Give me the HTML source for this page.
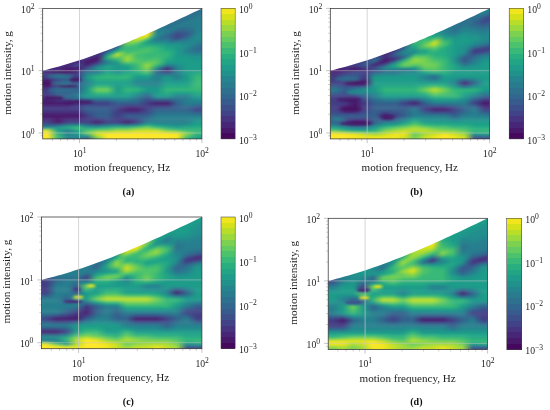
<!DOCTYPE html><html><head><meta charset="utf-8"><style>html,body{margin:0;padding:0;background:#fff}svg{display:block}
.t{font:9.7px "Liberation Serif",serif;fill:#222}.s{font-size:7.6px}.l{font:10px "Liberation Serif",serif;fill:#222}.c{font:bold 10px "Liberation Serif",serif;fill:#111}
</style></head><body><svg width="550" height="410" viewBox="0 0 550 410">
<defs><filter id="bl" x="-5%" y="-5%" width="110%" height="110%"><feGaussianBlur stdDeviation="0.8 0.9"/></filter>
<filter id="bl2" x="-5%" y="-5%" width="110%" height="110%"><feGaussianBlur stdDeviation="1.6 0.9"/></filter></defs>
<rect width="550" height="410" fill="#fff"/>
<clipPath id="cpa"><path d="M42.7 138.9 L42.7 70.7 L46.8 69.7 L50.9 68.6 L54.9 67.6 L59.0 66.4 L63.1 65.3 L67.2 64.1 L71.3 62.8 L75.4 61.5 L79.4 60.2 L83.5 58.9 L87.6 57.5 L91.7 56.1 L95.8 54.6 L99.8 53.1 L103.9 51.6 L108.0 50.0 L112.1 48.5 L116.2 46.8 L120.3 45.2 L124.3 43.5 L128.4 41.9 L132.5 40.1 L136.6 38.4 L140.7 36.6 L144.8 34.9 L148.8 33.1 L152.9 31.3 L157.0 29.4 L161.1 27.6 L165.2 25.7 L169.2 23.8 L173.3 21.9 L177.4 20.0 L181.5 18.1 L185.6 16.2 L189.7 14.3 L193.7 12.3 L197.8 10.4 L201.9 8.4 L201.9 138.9Z"/></clipPath>
<g clip-path="url(#cpa)"><g filter="url(#bl)">
<linearGradient id="ga0" gradientUnits="userSpaceOnUse" x1="42.7" x2="201.9" y1="0" y2="0"><stop offset="0.0312" stop-color="#433e85"/><stop offset="0.0938" stop-color="#433e85"/><stop offset="0.1562" stop-color="#46337f"/><stop offset="0.2188" stop-color="#433e85"/><stop offset="0.2812" stop-color="#472e7c"/><stop offset="0.3438" stop-color="#472e7c"/><stop offset="0.4062" stop-color="#24878e"/><stop offset="0.4688" stop-color="#20938c"/><stop offset="0.5312" stop-color="#1e9c89"/><stop offset="0.5938" stop-color="#38b977"/><stop offset="0.6562" stop-color="#77d153"/><stop offset="0.7188" stop-color="#1fa088"/><stop offset="0.7812" stop-color="#297a8e"/><stop offset="0.8438" stop-color="#20938c"/><stop offset="0.9062" stop-color="#1e9c89"/><stop offset="0.9688" stop-color="#1e9c89"/></linearGradient>
<rect x="36.7" y="58.68" width="171.2" height="8.58" fill="url(#ga0)"/>
<linearGradient id="ga1" gradientUnits="userSpaceOnUse" x1="42.7" x2="201.9" y1="0" y2="0"><stop offset="0.0312" stop-color="#433e85"/><stop offset="0.0938" stop-color="#433e85"/><stop offset="0.1562" stop-color="#482677"/><stop offset="0.2188" stop-color="#433e85"/><stop offset="0.2812" stop-color="#3f4788"/><stop offset="0.3438" stop-color="#3f4788"/><stop offset="0.4062" stop-color="#20928c"/><stop offset="0.4688" stop-color="#238a8d"/><stop offset="0.5312" stop-color="#1e9c89"/><stop offset="0.5938" stop-color="#38b977"/><stop offset="0.6562" stop-color="#77d153"/><stop offset="0.7188" stop-color="#26828e"/><stop offset="0.7812" stop-color="#3c508b"/><stop offset="0.8438" stop-color="#238a8d"/><stop offset="0.9062" stop-color="#1e9c89"/><stop offset="0.9688" stop-color="#1e9c89"/></linearGradient>
<rect x="36.7" y="66.87" width="171.2" height="2.58" fill="url(#ga1)"/>
<linearGradient id="ga2" gradientUnits="userSpaceOnUse" x1="42.7" x2="201.9" y1="0" y2="0"><stop offset="0.0312" stop-color="#433e85"/><stop offset="0.0938" stop-color="#433e85"/><stop offset="0.1562" stop-color="#48186a"/><stop offset="0.2188" stop-color="#433e85"/><stop offset="0.2812" stop-color="#355e8d"/><stop offset="0.3438" stop-color="#355e8d"/><stop offset="0.4062" stop-color="#1e9b8a"/><stop offset="0.4688" stop-color="#27808e"/><stop offset="0.5312" stop-color="#1e9c89"/><stop offset="0.5938" stop-color="#38b977"/><stop offset="0.6562" stop-color="#77d153"/><stop offset="0.7188" stop-color="#32648e"/><stop offset="0.7812" stop-color="#481d6f"/><stop offset="0.8438" stop-color="#27808e"/><stop offset="0.9062" stop-color="#1e9c89"/><stop offset="0.9688" stop-color="#1e9c89"/></linearGradient>
<rect x="36.7" y="69.05" width="171.2" height="2.58" fill="url(#ga2)"/>
<linearGradient id="ga3" gradientUnits="userSpaceOnUse" x1="42.7" x2="201.9" y1="0" y2="0"><stop offset="0.0312" stop-color="#433e85"/><stop offset="0.0938" stop-color="#3e4989"/><stop offset="0.1562" stop-color="#472f7d"/><stop offset="0.2188" stop-color="#433e85"/><stop offset="0.2812" stop-color="#2c728e"/><stop offset="0.3438" stop-color="#287c8e"/><stop offset="0.4062" stop-color="#21a585"/><stop offset="0.4688" stop-color="#21918c"/><stop offset="0.5312" stop-color="#21a585"/><stop offset="0.5938" stop-color="#2ab07f"/><stop offset="0.6562" stop-color="#4ec36b"/><stop offset="0.7188" stop-color="#306a8e"/><stop offset="0.7812" stop-color="#404588"/><stop offset="0.8438" stop-color="#277f8e"/><stop offset="0.9062" stop-color="#1e9c89"/><stop offset="0.9688" stop-color="#21a585"/></linearGradient>
<rect x="36.7" y="71.24" width="171.2" height="2.58" fill="url(#ga3)"/>
<linearGradient id="ga4" gradientUnits="userSpaceOnUse" x1="42.7" x2="201.9" y1="0" y2="0"><stop offset="0.0312" stop-color="#433e85"/><stop offset="0.0938" stop-color="#3a548c"/><stop offset="0.1562" stop-color="#3f4889"/><stop offset="0.2188" stop-color="#433e85"/><stop offset="0.2812" stop-color="#24868e"/><stop offset="0.3438" stop-color="#1f998a"/><stop offset="0.4062" stop-color="#28ae80"/><stop offset="0.4688" stop-color="#20a486"/><stop offset="0.5312" stop-color="#28ae80"/><stop offset="0.5938" stop-color="#22a785"/><stop offset="0.6562" stop-color="#2cb17e"/><stop offset="0.7188" stop-color="#2b748e"/><stop offset="0.7812" stop-color="#2d718e"/><stop offset="0.8438" stop-color="#277f8e"/><stop offset="0.9062" stop-color="#1e9c89"/><stop offset="0.9688" stop-color="#28ae80"/></linearGradient>
<rect x="36.7" y="73.42" width="171.2" height="2.58" fill="url(#ga4)"/>
<linearGradient id="ga5" gradientUnits="userSpaceOnUse" x1="42.7" x2="201.9" y1="0" y2="0"><stop offset="0.0312" stop-color="#433e85"/><stop offset="0.0938" stop-color="#34608d"/><stop offset="0.1562" stop-color="#355f8d"/><stop offset="0.2188" stop-color="#433e85"/><stop offset="0.2812" stop-color="#1f9a8a"/><stop offset="0.3438" stop-color="#32b67a"/><stop offset="0.4062" stop-color="#37b878"/><stop offset="0.4688" stop-color="#35b779"/><stop offset="0.5312" stop-color="#37b878"/><stop offset="0.5938" stop-color="#1e9d89"/><stop offset="0.6562" stop-color="#1f9e89"/><stop offset="0.7188" stop-color="#277e8e"/><stop offset="0.7812" stop-color="#1f988b"/><stop offset="0.8438" stop-color="#277f8e"/><stop offset="0.9062" stop-color="#1e9c89"/><stop offset="0.9688" stop-color="#37b878"/></linearGradient>
<rect x="36.7" y="75.61" width="171.2" height="2.58" fill="url(#ga5)"/>
<linearGradient id="ga6" gradientUnits="userSpaceOnUse" x1="42.7" x2="201.9" y1="0" y2="0"><stop offset="0.0312" stop-color="#46337f"/><stop offset="0.0938" stop-color="#39568c"/><stop offset="0.1562" stop-color="#34618d"/><stop offset="0.2188" stop-color="#3e4989"/><stop offset="0.2812" stop-color="#20938c"/><stop offset="0.3438" stop-color="#2ab07f"/><stop offset="0.4062" stop-color="#2ab07f"/><stop offset="0.4688" stop-color="#2ab07f"/><stop offset="0.5312" stop-color="#2ab07f"/><stop offset="0.5938" stop-color="#20938c"/><stop offset="0.6562" stop-color="#20938c"/><stop offset="0.7188" stop-color="#277f8e"/><stop offset="0.7812" stop-color="#1e9c89"/><stop offset="0.8438" stop-color="#24878e"/><stop offset="0.9062" stop-color="#1e9c89"/><stop offset="0.9688" stop-color="#38b977"/></linearGradient>
<rect x="36.7" y="77.79" width="171.2" height="2.58" fill="url(#ga6)"/>
<linearGradient id="ga7" gradientUnits="userSpaceOnUse" x1="42.7" x2="201.9" y1="0" y2="0"><stop offset="0.0312" stop-color="#482677"/><stop offset="0.0938" stop-color="#3e4c8a"/><stop offset="0.1562" stop-color="#34618d"/><stop offset="0.2188" stop-color="#3a548c"/><stop offset="0.2812" stop-color="#23898e"/><stop offset="0.3438" stop-color="#22a785"/><stop offset="0.4062" stop-color="#22a785"/><stop offset="0.4688" stop-color="#22a785"/><stop offset="0.5312" stop-color="#22a785"/><stop offset="0.5938" stop-color="#23898e"/><stop offset="0.6562" stop-color="#23898e"/><stop offset="0.7188" stop-color="#277f8e"/><stop offset="0.7812" stop-color="#1e9c89"/><stop offset="0.8438" stop-color="#20928c"/><stop offset="0.9062" stop-color="#1e9c89"/><stop offset="0.9688" stop-color="#38b977"/></linearGradient>
<rect x="36.7" y="79.97" width="171.2" height="2.58" fill="url(#ga7)"/>
<linearGradient id="ga8" gradientUnits="userSpaceOnUse" x1="42.7" x2="201.9" y1="0" y2="0"><stop offset="0.0312" stop-color="#48186a"/><stop offset="0.0938" stop-color="#423f85"/><stop offset="0.1562" stop-color="#34618d"/><stop offset="0.2188" stop-color="#34608d"/><stop offset="0.2812" stop-color="#27808e"/><stop offset="0.3438" stop-color="#1e9d89"/><stop offset="0.4062" stop-color="#1e9d89"/><stop offset="0.4688" stop-color="#1e9d89"/><stop offset="0.5312" stop-color="#1e9d89"/><stop offset="0.5938" stop-color="#27808e"/><stop offset="0.6562" stop-color="#27808e"/><stop offset="0.7188" stop-color="#277f8e"/><stop offset="0.7812" stop-color="#1e9c89"/><stop offset="0.8438" stop-color="#1e9b8a"/><stop offset="0.9062" stop-color="#1e9c89"/><stop offset="0.9688" stop-color="#38b977"/></linearGradient>
<rect x="36.7" y="82.16" width="171.2" height="2.58" fill="url(#ga8)"/>
<linearGradient id="ga9" gradientUnits="userSpaceOnUse" x1="42.7" x2="201.9" y1="0" y2="0"><stop offset="0.0312" stop-color="#482475"/><stop offset="0.0938" stop-color="#3e4989"/><stop offset="0.1562" stop-color="#34618d"/><stop offset="0.2188" stop-color="#34618d"/><stop offset="0.2812" stop-color="#23888e"/><stop offset="0.3438" stop-color="#27ad81"/><stop offset="0.4062" stop-color="#27ad81"/><stop offset="0.4688" stop-color="#1e9c89"/><stop offset="0.5312" stop-color="#21a585"/><stop offset="0.5938" stop-color="#21918c"/><stop offset="0.6562" stop-color="#23888e"/><stop offset="0.7188" stop-color="#23888e"/><stop offset="0.7812" stop-color="#21a585"/><stop offset="0.8438" stop-color="#21a585"/><stop offset="0.9062" stop-color="#21a585"/><stop offset="0.9688" stop-color="#38b977"/></linearGradient>
<rect x="36.7" y="84.34" width="171.2" height="2.58" fill="url(#ga9)"/>
<linearGradient id="ga10" gradientUnits="userSpaceOnUse" x1="42.7" x2="201.9" y1="0" y2="0"><stop offset="0.0312" stop-color="#46307e"/><stop offset="0.0938" stop-color="#3a548c"/><stop offset="0.1562" stop-color="#34618d"/><stop offset="0.2188" stop-color="#34618d"/><stop offset="0.2812" stop-color="#20928c"/><stop offset="0.3438" stop-color="#46c06f"/><stop offset="0.4062" stop-color="#46c06f"/><stop offset="0.4688" stop-color="#1e9c89"/><stop offset="0.5312" stop-color="#28ae80"/><stop offset="0.5938" stop-color="#20a486"/><stop offset="0.6562" stop-color="#20928c"/><stop offset="0.7188" stop-color="#20928c"/><stop offset="0.7812" stop-color="#28ae80"/><stop offset="0.8438" stop-color="#28ae80"/><stop offset="0.9062" stop-color="#28ae80"/><stop offset="0.9688" stop-color="#38b977"/></linearGradient>
<rect x="36.7" y="86.53" width="171.2" height="2.58" fill="url(#ga10)"/>
<linearGradient id="ga11" gradientUnits="userSpaceOnUse" x1="42.7" x2="201.9" y1="0" y2="0"><stop offset="0.0312" stop-color="#433e85"/><stop offset="0.0938" stop-color="#34608d"/><stop offset="0.1562" stop-color="#34618d"/><stop offset="0.2188" stop-color="#34618d"/><stop offset="0.2812" stop-color="#1e9c89"/><stop offset="0.3438" stop-color="#73d056"/><stop offset="0.4062" stop-color="#73d056"/><stop offset="0.4688" stop-color="#1e9c89"/><stop offset="0.5312" stop-color="#37b878"/><stop offset="0.5938" stop-color="#35b779"/><stop offset="0.6562" stop-color="#1e9c89"/><stop offset="0.7188" stop-color="#1e9c89"/><stop offset="0.7812" stop-color="#37b878"/><stop offset="0.8438" stop-color="#37b878"/><stop offset="0.9062" stop-color="#37b878"/><stop offset="0.9688" stop-color="#38b977"/></linearGradient>
<rect x="36.7" y="88.71" width="171.2" height="2.58" fill="url(#ga11)"/>
<linearGradient id="ga12" gradientUnits="userSpaceOnUse" x1="42.7" x2="201.9" y1="0" y2="0"><stop offset="0.0312" stop-color="#433e85"/><stop offset="0.0938" stop-color="#34618d"/><stop offset="0.1562" stop-color="#34618d"/><stop offset="0.2188" stop-color="#306a8e"/><stop offset="0.2812" stop-color="#1e9c89"/><stop offset="0.3438" stop-color="#4cc26c"/><stop offset="0.4062" stop-color="#4cc26c"/><stop offset="0.4688" stop-color="#1e9c89"/><stop offset="0.5312" stop-color="#2ab07f"/><stop offset="0.5938" stop-color="#22a785"/><stop offset="0.6562" stop-color="#238a8d"/><stop offset="0.7188" stop-color="#1e9c89"/><stop offset="0.7812" stop-color="#2ab07f"/><stop offset="0.8438" stop-color="#22a785"/><stop offset="0.9062" stop-color="#22a785"/><stop offset="0.9688" stop-color="#2ab07f"/></linearGradient>
<rect x="36.7" y="90.90" width="171.2" height="2.58" fill="url(#ga12)"/>
<linearGradient id="ga13" gradientUnits="userSpaceOnUse" x1="42.7" x2="201.9" y1="0" y2="0"><stop offset="0.0312" stop-color="#433e85"/><stop offset="0.0938" stop-color="#34618d"/><stop offset="0.1562" stop-color="#34618d"/><stop offset="0.2188" stop-color="#2b748e"/><stop offset="0.2812" stop-color="#1e9c89"/><stop offset="0.3438" stop-color="#2ab07f"/><stop offset="0.4062" stop-color="#2ab07f"/><stop offset="0.4688" stop-color="#1e9c89"/><stop offset="0.5312" stop-color="#21a685"/><stop offset="0.5938" stop-color="#20938c"/><stop offset="0.6562" stop-color="#2a768e"/><stop offset="0.7188" stop-color="#1e9c89"/><stop offset="0.7812" stop-color="#21a685"/><stop offset="0.8438" stop-color="#20938c"/><stop offset="0.9062" stop-color="#20938c"/><stop offset="0.9688" stop-color="#21a685"/></linearGradient>
<rect x="36.7" y="93.08" width="171.2" height="2.58" fill="url(#ga13)"/>
<linearGradient id="ga14" gradientUnits="userSpaceOnUse" x1="42.7" x2="201.9" y1="0" y2="0"><stop offset="0.0312" stop-color="#433e85"/><stop offset="0.0938" stop-color="#34618d"/><stop offset="0.1562" stop-color="#34618d"/><stop offset="0.2188" stop-color="#277e8e"/><stop offset="0.2812" stop-color="#1e9c89"/><stop offset="0.3438" stop-color="#1f9e89"/><stop offset="0.4062" stop-color="#1f9e89"/><stop offset="0.4688" stop-color="#1e9c89"/><stop offset="0.5312" stop-color="#1e9d89"/><stop offset="0.5938" stop-color="#27808e"/><stop offset="0.6562" stop-color="#33628d"/><stop offset="0.7188" stop-color="#1e9c89"/><stop offset="0.7812" stop-color="#1e9d89"/><stop offset="0.8438" stop-color="#27808e"/><stop offset="0.9062" stop-color="#27808e"/><stop offset="0.9688" stop-color="#1e9d89"/></linearGradient>
<rect x="36.7" y="95.27" width="171.2" height="2.58" fill="url(#ga14)"/>
<linearGradient id="ga15" gradientUnits="userSpaceOnUse" x1="42.7" x2="201.9" y1="0" y2="0"><stop offset="0.0312" stop-color="#46337f"/><stop offset="0.0938" stop-color="#3e4c8a"/><stop offset="0.1562" stop-color="#3e4c8a"/><stop offset="0.2188" stop-color="#2f6c8e"/><stop offset="0.2812" stop-color="#26818e"/><stop offset="0.3438" stop-color="#26818e"/><stop offset="0.4062" stop-color="#26818e"/><stop offset="0.4688" stop-color="#238a8d"/><stop offset="0.5312" stop-color="#238a8d"/><stop offset="0.5938" stop-color="#2b758e"/><stop offset="0.6562" stop-color="#39568c"/><stop offset="0.7188" stop-color="#2a778e"/><stop offset="0.7812" stop-color="#2a778e"/><stop offset="0.8438" stop-color="#2b758e"/><stop offset="0.9062" stop-color="#277f8e"/><stop offset="0.9688" stop-color="#20928c"/></linearGradient>
<rect x="36.7" y="97.45" width="171.2" height="2.58" fill="url(#ga15)"/>
<linearGradient id="ga16" gradientUnits="userSpaceOnUse" x1="42.7" x2="201.9" y1="0" y2="0"><stop offset="0.0312" stop-color="#482576"/><stop offset="0.0938" stop-color="#46337f"/><stop offset="0.1562" stop-color="#46337f"/><stop offset="0.2188" stop-color="#39568c"/><stop offset="0.2812" stop-color="#33628d"/><stop offset="0.3438" stop-color="#33628d"/><stop offset="0.4062" stop-color="#33628d"/><stop offset="0.4688" stop-color="#2a768e"/><stop offset="0.5312" stop-color="#2a768e"/><stop offset="0.5938" stop-color="#2f6c8e"/><stop offset="0.6562" stop-color="#3e4a89"/><stop offset="0.7188" stop-color="#3d4d8a"/><stop offset="0.7812" stop-color="#3d4d8a"/><stop offset="0.8438" stop-color="#2f6c8e"/><stop offset="0.9062" stop-color="#277f8e"/><stop offset="0.9688" stop-color="#23898e"/></linearGradient>
<rect x="36.7" y="99.64" width="171.2" height="2.58" fill="url(#ga16)"/>
<linearGradient id="ga17" gradientUnits="userSpaceOnUse" x1="42.7" x2="201.9" y1="0" y2="0"><stop offset="0.0312" stop-color="#48186a"/><stop offset="0.0938" stop-color="#48186a"/><stop offset="0.1562" stop-color="#48186a"/><stop offset="0.2188" stop-color="#423f85"/><stop offset="0.2812" stop-color="#424086"/><stop offset="0.3438" stop-color="#424086"/><stop offset="0.4062" stop-color="#424086"/><stop offset="0.4688" stop-color="#33628d"/><stop offset="0.5312" stop-color="#33628d"/><stop offset="0.5938" stop-color="#34618d"/><stop offset="0.6562" stop-color="#423f85"/><stop offset="0.7188" stop-color="#481a6c"/><stop offset="0.7812" stop-color="#481a6c"/><stop offset="0.8438" stop-color="#34618d"/><stop offset="0.9062" stop-color="#277f8e"/><stop offset="0.9688" stop-color="#277f8e"/></linearGradient>
<rect x="36.7" y="101.82" width="171.2" height="2.58" fill="url(#ga17)"/>
<linearGradient id="ga18" gradientUnits="userSpaceOnUse" x1="42.7" x2="201.9" y1="0" y2="0"><stop offset="0.0312" stop-color="#482475"/><stop offset="0.0938" stop-color="#482475"/><stop offset="0.1562" stop-color="#482475"/><stop offset="0.2188" stop-color="#433e85"/><stop offset="0.2812" stop-color="#3e4989"/><stop offset="0.3438" stop-color="#3e4989"/><stop offset="0.4062" stop-color="#3e4989"/><stop offset="0.4688" stop-color="#39568c"/><stop offset="0.5312" stop-color="#3e4c8a"/><stop offset="0.5938" stop-color="#3e4c8a"/><stop offset="0.6562" stop-color="#433e85"/><stop offset="0.7188" stop-color="#46307e"/><stop offset="0.7812" stop-color="#46307e"/><stop offset="0.8438" stop-color="#34618d"/><stop offset="0.9062" stop-color="#2b758e"/><stop offset="0.9688" stop-color="#2f6c8e"/></linearGradient>
<rect x="36.7" y="104.00" width="171.2" height="2.58" fill="url(#ga18)"/>
<linearGradient id="ga19" gradientUnits="userSpaceOnUse" x1="42.7" x2="201.9" y1="0" y2="0"><stop offset="0.0312" stop-color="#46327e"/><stop offset="0.0938" stop-color="#46327e"/><stop offset="0.1562" stop-color="#46327e"/><stop offset="0.2188" stop-color="#433e85"/><stop offset="0.2812" stop-color="#39558c"/><stop offset="0.3438" stop-color="#39558c"/><stop offset="0.4062" stop-color="#39558c"/><stop offset="0.4688" stop-color="#3e4a89"/><stop offset="0.5312" stop-color="#46337f"/><stop offset="0.5938" stop-color="#46337f"/><stop offset="0.6562" stop-color="#433e85"/><stop offset="0.7188" stop-color="#3e4989"/><stop offset="0.7812" stop-color="#3e4989"/><stop offset="0.8438" stop-color="#34618d"/><stop offset="0.9062" stop-color="#2f6c8e"/><stop offset="0.9688" stop-color="#39568c"/></linearGradient>
<rect x="36.7" y="106.19" width="171.2" height="2.58" fill="url(#ga19)"/>
<linearGradient id="ga20" gradientUnits="userSpaceOnUse" x1="42.7" x2="201.9" y1="0" y2="0"><stop offset="0.0312" stop-color="#433e85"/><stop offset="0.0938" stop-color="#433e85"/><stop offset="0.1562" stop-color="#433e85"/><stop offset="0.2188" stop-color="#433e85"/><stop offset="0.2812" stop-color="#34608d"/><stop offset="0.3438" stop-color="#34608d"/><stop offset="0.4062" stop-color="#34608d"/><stop offset="0.4688" stop-color="#423f85"/><stop offset="0.5312" stop-color="#48186a"/><stop offset="0.5938" stop-color="#48186a"/><stop offset="0.6562" stop-color="#433e85"/><stop offset="0.7188" stop-color="#34608d"/><stop offset="0.7812" stop-color="#34608d"/><stop offset="0.8438" stop-color="#34618d"/><stop offset="0.9062" stop-color="#34618d"/><stop offset="0.9688" stop-color="#423f85"/></linearGradient>
<rect x="36.7" y="108.37" width="171.2" height="2.58" fill="url(#ga20)"/>
<linearGradient id="ga21" gradientUnits="userSpaceOnUse" x1="42.7" x2="201.9" y1="0" y2="0"><stop offset="0.0312" stop-color="#46327e"/><stop offset="0.0938" stop-color="#46327e"/><stop offset="0.1562" stop-color="#46327e"/><stop offset="0.2188" stop-color="#46327e"/><stop offset="0.2812" stop-color="#39568c"/><stop offset="0.3438" stop-color="#34618d"/><stop offset="0.4062" stop-color="#34618d"/><stop offset="0.4688" stop-color="#433e85"/><stop offset="0.5312" stop-color="#46307e"/><stop offset="0.5938" stop-color="#46307e"/><stop offset="0.6562" stop-color="#3e4a89"/><stop offset="0.7188" stop-color="#2f6b8e"/><stop offset="0.7812" stop-color="#2f6b8e"/><stop offset="0.8438" stop-color="#2f6b8e"/><stop offset="0.9062" stop-color="#2f6b8e"/><stop offset="0.9688" stop-color="#39558c"/></linearGradient>
<rect x="36.7" y="110.56" width="171.2" height="2.58" fill="url(#ga21)"/>
<linearGradient id="ga22" gradientUnits="userSpaceOnUse" x1="42.7" x2="201.9" y1="0" y2="0"><stop offset="0.0312" stop-color="#482576"/><stop offset="0.0938" stop-color="#482576"/><stop offset="0.1562" stop-color="#482576"/><stop offset="0.2188" stop-color="#482576"/><stop offset="0.2812" stop-color="#3e4a89"/><stop offset="0.3438" stop-color="#34618d"/><stop offset="0.4062" stop-color="#34618d"/><stop offset="0.4688" stop-color="#433e85"/><stop offset="0.5312" stop-color="#3e4989"/><stop offset="0.5938" stop-color="#3e4989"/><stop offset="0.6562" stop-color="#39558c"/><stop offset="0.7188" stop-color="#2b748e"/><stop offset="0.7812" stop-color="#2b748e"/><stop offset="0.8438" stop-color="#2b748e"/><stop offset="0.9062" stop-color="#2b748e"/><stop offset="0.9688" stop-color="#2f6b8e"/></linearGradient>
<rect x="36.7" y="112.74" width="171.2" height="2.58" fill="url(#ga22)"/>
<linearGradient id="ga23" gradientUnits="userSpaceOnUse" x1="42.7" x2="201.9" y1="0" y2="0"><stop offset="0.0312" stop-color="#481769"/><stop offset="0.0938" stop-color="#481769"/><stop offset="0.1562" stop-color="#481769"/><stop offset="0.2188" stop-color="#481769"/><stop offset="0.2812" stop-color="#423f85"/><stop offset="0.3438" stop-color="#34618d"/><stop offset="0.4062" stop-color="#34618d"/><stop offset="0.4688" stop-color="#433e85"/><stop offset="0.5312" stop-color="#34608d"/><stop offset="0.5938" stop-color="#34608d"/><stop offset="0.6562" stop-color="#34618d"/><stop offset="0.7188" stop-color="#277f8e"/><stop offset="0.7812" stop-color="#277f8e"/><stop offset="0.8438" stop-color="#277f8e"/><stop offset="0.9062" stop-color="#277f8e"/><stop offset="0.9688" stop-color="#277f8e"/></linearGradient>
<rect x="36.7" y="114.93" width="171.2" height="2.58" fill="url(#ga23)"/>
<linearGradient id="ga24" gradientUnits="userSpaceOnUse" x1="42.7" x2="201.9" y1="0" y2="0"><stop offset="0.0312" stop-color="#482475"/><stop offset="0.0938" stop-color="#481769"/><stop offset="0.1562" stop-color="#482475"/><stop offset="0.2188" stop-color="#482475"/><stop offset="0.2812" stop-color="#433e85"/><stop offset="0.3438" stop-color="#3e4a89"/><stop offset="0.4062" stop-color="#39558c"/><stop offset="0.4688" stop-color="#433e85"/><stop offset="0.5312" stop-color="#3e4a89"/><stop offset="0.5938" stop-color="#39558c"/><stop offset="0.6562" stop-color="#2f6b8e"/><stop offset="0.7188" stop-color="#277f8e"/><stop offset="0.7812" stop-color="#277f8e"/><stop offset="0.8438" stop-color="#277f8e"/><stop offset="0.9062" stop-color="#277f8e"/><stop offset="0.9688" stop-color="#23888e"/></linearGradient>
<rect x="36.7" y="117.11" width="171.2" height="2.58" fill="url(#ga24)"/>
<linearGradient id="ga25" gradientUnits="userSpaceOnUse" x1="42.7" x2="201.9" y1="0" y2="0"><stop offset="0.0312" stop-color="#46327e"/><stop offset="0.0938" stop-color="#481769"/><stop offset="0.1562" stop-color="#46327e"/><stop offset="0.2188" stop-color="#46327e"/><stop offset="0.2812" stop-color="#433e85"/><stop offset="0.3438" stop-color="#46327e"/><stop offset="0.4062" stop-color="#3e4a89"/><stop offset="0.4688" stop-color="#433e85"/><stop offset="0.5312" stop-color="#46327e"/><stop offset="0.5938" stop-color="#3e4a89"/><stop offset="0.6562" stop-color="#2b748e"/><stop offset="0.7188" stop-color="#277f8e"/><stop offset="0.7812" stop-color="#277f8e"/><stop offset="0.8438" stop-color="#277f8e"/><stop offset="0.9062" stop-color="#277f8e"/><stop offset="0.9688" stop-color="#20928c"/></linearGradient>
<rect x="36.7" y="119.30" width="171.2" height="2.58" fill="url(#ga25)"/>
<linearGradient id="ga26" gradientUnits="userSpaceOnUse" x1="42.7" x2="201.9" y1="0" y2="0"><stop offset="0.0312" stop-color="#433e85"/><stop offset="0.0938" stop-color="#481769"/><stop offset="0.1562" stop-color="#433e85"/><stop offset="0.2188" stop-color="#433e85"/><stop offset="0.2812" stop-color="#433e85"/><stop offset="0.3438" stop-color="#481769"/><stop offset="0.4062" stop-color="#423f85"/><stop offset="0.4688" stop-color="#433e85"/><stop offset="0.5312" stop-color="#481769"/><stop offset="0.5938" stop-color="#423f85"/><stop offset="0.6562" stop-color="#277f8e"/><stop offset="0.7188" stop-color="#277f8e"/><stop offset="0.7812" stop-color="#277f8e"/><stop offset="0.8438" stop-color="#277f8e"/><stop offset="0.9062" stop-color="#277f8e"/><stop offset="0.9688" stop-color="#1e9c89"/></linearGradient>
<rect x="36.7" y="121.48" width="171.2" height="2.58" fill="url(#ga26)"/>
<linearGradient id="ga27" gradientUnits="userSpaceOnUse" x1="42.7" x2="201.9" y1="0" y2="0"><stop offset="0.0312" stop-color="#365d8d"/><stop offset="0.0938" stop-color="#375a8c"/><stop offset="0.1562" stop-color="#2a788e"/><stop offset="0.2188" stop-color="#277f8e"/><stop offset="0.2812" stop-color="#2f6b8e"/><stop offset="0.3438" stop-color="#375a8c"/><stop offset="0.4062" stop-color="#2c718e"/><stop offset="0.4688" stop-color="#2a788e"/><stop offset="0.5312" stop-color="#31688e"/><stop offset="0.5938" stop-color="#277f8e"/><stop offset="0.6562" stop-color="#21a685"/><stop offset="0.7188" stop-color="#1f998a"/><stop offset="0.7812" stop-color="#20928c"/><stop offset="0.8438" stop-color="#228c8d"/><stop offset="0.9062" stop-color="#20928c"/><stop offset="0.9688" stop-color="#1fa287"/></linearGradient>
<rect x="36.7" y="123.67" width="171.2" height="2.58" fill="url(#ga27)"/>
<linearGradient id="ga28" gradientUnits="userSpaceOnUse" x1="42.7" x2="201.9" y1="0" y2="0"><stop offset="0.0312" stop-color="#2b758e"/><stop offset="0.0938" stop-color="#23888e"/><stop offset="0.1562" stop-color="#21a685"/><stop offset="0.2188" stop-color="#2db27d"/><stop offset="0.2812" stop-color="#218e8d"/><stop offset="0.3438" stop-color="#23888e"/><stop offset="0.4062" stop-color="#1f9a8a"/><stop offset="0.4688" stop-color="#21a685"/><stop offset="0.5312" stop-color="#1fa187"/><stop offset="0.5938" stop-color="#2db27d"/><stop offset="0.6562" stop-color="#54c568"/><stop offset="0.7188" stop-color="#29af7f"/><stop offset="0.7812" stop-color="#20a386"/><stop offset="0.8438" stop-color="#1f978b"/><stop offset="0.9062" stop-color="#20a386"/><stop offset="0.9688" stop-color="#22a884"/></linearGradient>
<rect x="36.7" y="125.85" width="171.2" height="2.03" fill="url(#ga28)"/>
<linearGradient id="ga29" gradientUnits="userSpaceOnUse" x1="42.7" x2="201.9" y1="0" y2="0"><stop offset="0.0312" stop-color="#1fa088"/><stop offset="0.0938" stop-color="#1e9c89"/><stop offset="0.1562" stop-color="#22a785"/><stop offset="0.2188" stop-color="#3fbc73"/><stop offset="0.2812" stop-color="#22a785"/><stop offset="0.3438" stop-color="#25ab82"/><stop offset="0.4062" stop-color="#32b67a"/><stop offset="0.4688" stop-color="#4cc26c"/><stop offset="0.5312" stop-color="#4cc26c"/><stop offset="0.5938" stop-color="#6ece58"/><stop offset="0.6562" stop-color="#8bd646"/><stop offset="0.7188" stop-color="#54c568"/><stop offset="0.7812" stop-color="#32b67a"/><stop offset="0.8438" stop-color="#22a785"/><stop offset="0.9062" stop-color="#28ae80"/><stop offset="0.9688" stop-color="#28ae80"/></linearGradient>
<rect x="36.7" y="127.48" width="171.2" height="2.03" fill="url(#ga29)"/>
<linearGradient id="ga30" gradientUnits="userSpaceOnUse" x1="42.7" x2="201.9" y1="0" y2="0"><stop offset="0.0312" stop-color="#95d840"/><stop offset="0.0938" stop-color="#1e9c89"/><stop offset="0.1562" stop-color="#26828e"/><stop offset="0.2188" stop-color="#22a785"/><stop offset="0.2812" stop-color="#3fbc73"/><stop offset="0.3438" stop-color="#54c568"/><stop offset="0.4062" stop-color="#5cc863"/><stop offset="0.4688" stop-color="#81d34d"/><stop offset="0.5312" stop-color="#81d34d"/><stop offset="0.5938" stop-color="#a8db34"/><stop offset="0.6562" stop-color="#b2dd2d"/><stop offset="0.7188" stop-color="#a0da39"/><stop offset="0.7812" stop-color="#5cc863"/><stop offset="0.8438" stop-color="#3fbc73"/><stop offset="0.9062" stop-color="#32b67a"/><stop offset="0.9688" stop-color="#32b67a"/></linearGradient>
<rect x="36.7" y="129.11" width="171.2" height="2.03" fill="url(#ga30)"/>
<linearGradient id="ga31" gradientUnits="userSpaceOnUse" x1="42.7" x2="201.9" y1="0" y2="0"><stop offset="0.0312" stop-color="#fbe723"/><stop offset="0.0938" stop-color="#20a386"/><stop offset="0.1562" stop-color="#2a778e"/><stop offset="0.2188" stop-color="#1e9c89"/><stop offset="0.2812" stop-color="#5cc863"/><stop offset="0.3438" stop-color="#95d840"/><stop offset="0.4062" stop-color="#a0da39"/><stop offset="0.4688" stop-color="#bddf26"/><stop offset="0.5312" stop-color="#bddf26"/><stop offset="0.5938" stop-color="#dde318"/><stop offset="0.6562" stop-color="#dde318"/><stop offset="0.7188" stop-color="#dde318"/><stop offset="0.7812" stop-color="#a0da39"/><stop offset="0.8438" stop-color="#81d34d"/><stop offset="0.9062" stop-color="#4cc26c"/><stop offset="0.9688" stop-color="#38b977"/></linearGradient>
<rect x="36.7" y="130.74" width="171.2" height="2.03" fill="url(#ga31)"/>
<linearGradient id="ga32" gradientUnits="userSpaceOnUse" x1="42.7" x2="201.9" y1="0" y2="0"><stop offset="0.0312" stop-color="#fde725"/><stop offset="0.0938" stop-color="#2db27d"/><stop offset="0.1562" stop-color="#24868e"/><stop offset="0.2188" stop-color="#1e9c89"/><stop offset="0.2812" stop-color="#6ece58"/><stop offset="0.3438" stop-color="#d2e21b"/><stop offset="0.4062" stop-color="#f1e51d"/><stop offset="0.4688" stop-color="#fbe723"/><stop offset="0.5312" stop-color="#fbe723"/><stop offset="0.5938" stop-color="#fde725"/><stop offset="0.6562" stop-color="#fde725"/><stop offset="0.7188" stop-color="#fde725"/><stop offset="0.7812" stop-color="#f1e51d"/><stop offset="0.8438" stop-color="#e7e419"/><stop offset="0.9062" stop-color="#81d34d"/><stop offset="0.9688" stop-color="#38b977"/></linearGradient>
<rect x="36.7" y="132.38" width="171.2" height="2.03" fill="url(#ga32)"/>
<linearGradient id="ga33" gradientUnits="userSpaceOnUse" x1="42.7" x2="201.9" y1="0" y2="0"><stop offset="0.0312" stop-color="#fde725"/><stop offset="0.0938" stop-color="#38b977"/><stop offset="0.1562" stop-color="#238a8d"/><stop offset="0.2188" stop-color="#1f948c"/><stop offset="0.2812" stop-color="#38b977"/><stop offset="0.3438" stop-color="#d2e21b"/><stop offset="0.4062" stop-color="#fde725"/><stop offset="0.4688" stop-color="#fde725"/><stop offset="0.5312" stop-color="#fde725"/><stop offset="0.5938" stop-color="#fde725"/><stop offset="0.6562" stop-color="#fde725"/><stop offset="0.7188" stop-color="#fde725"/><stop offset="0.7812" stop-color="#fde725"/><stop offset="0.8438" stop-color="#fde725"/><stop offset="0.9062" stop-color="#81d34d"/><stop offset="0.9688" stop-color="#2db27d"/></linearGradient>
<rect x="36.7" y="134.01" width="171.2" height="2.03" fill="url(#ga33)"/>
<linearGradient id="ga34" gradientUnits="userSpaceOnUse" x1="42.7" x2="201.9" y1="0" y2="0"><stop offset="0.0312" stop-color="#fde725"/><stop offset="0.0938" stop-color="#38b977"/><stop offset="0.1562" stop-color="#26828e"/><stop offset="0.2188" stop-color="#24868e"/><stop offset="0.2812" stop-color="#277f8e"/><stop offset="0.3438" stop-color="#95d840"/><stop offset="0.4062" stop-color="#fde725"/><stop offset="0.4688" stop-color="#fde725"/><stop offset="0.5312" stop-color="#fde725"/><stop offset="0.5938" stop-color="#fde725"/><stop offset="0.6562" stop-color="#fde725"/><stop offset="0.7188" stop-color="#fde725"/><stop offset="0.7812" stop-color="#fde725"/><stop offset="0.8438" stop-color="#fbe723"/><stop offset="0.9062" stop-color="#4cc26c"/><stop offset="0.9688" stop-color="#20a386"/></linearGradient>
<rect x="36.7" y="135.64" width="171.2" height="2.03" fill="url(#ga34)"/>
<linearGradient id="ga35" gradientUnits="userSpaceOnUse" x1="42.7" x2="201.9" y1="0" y2="0"><stop offset="0.0312" stop-color="#fde725"/><stop offset="0.0938" stop-color="#38b977"/><stop offset="0.1562" stop-color="#277f8e"/><stop offset="0.2188" stop-color="#277f8e"/><stop offset="0.2812" stop-color="#34618d"/><stop offset="0.3438" stop-color="#77d153"/><stop offset="0.4062" stop-color="#fde725"/><stop offset="0.4688" stop-color="#fde725"/><stop offset="0.5312" stop-color="#fde725"/><stop offset="0.5938" stop-color="#fde725"/><stop offset="0.6562" stop-color="#fde725"/><stop offset="0.7188" stop-color="#fde725"/><stop offset="0.7812" stop-color="#fde725"/><stop offset="0.8438" stop-color="#f1e51d"/><stop offset="0.9062" stop-color="#38b977"/><stop offset="0.9688" stop-color="#1e9c89"/></linearGradient>
<rect x="36.7" y="137.27" width="171.2" height="8.03" fill="url(#ga35)"/>
<clipPath id="cua"><rect x="34.7" y="0.40000000000000036" width="175.2" height="70.28"/></clipPath>
<g clip-path="url(#cua)">
<linearGradient id="ua0" gradientUnits="userSpaceOnUse" x1="42.7" x2="201.9" y1="0" y2="0"><stop offset="0.0312" stop-color="#472c7a"/><stop offset="0.0938" stop-color="#472c7a"/><stop offset="0.1562" stop-color="#472c7a"/><stop offset="0.2188" stop-color="#472c7a"/><stop offset="0.2812" stop-color="#433e85"/><stop offset="0.3438" stop-color="#472c7a"/><stop offset="0.4062" stop-color="#3c508b"/><stop offset="0.4688" stop-color="#34618d"/><stop offset="0.5312" stop-color="#77d153"/><stop offset="0.5938" stop-color="#c8e020"/><stop offset="0.6562" stop-color="#fde725"/><stop offset="0.7188" stop-color="#277f8e"/><stop offset="0.7812" stop-color="#2d708e"/><stop offset="0.8438" stop-color="#2d708e"/><stop offset="0.9062" stop-color="#2d708e"/><stop offset="0.9688" stop-color="#2d708e"/></linearGradient>
<path d="M36.7 70.7 L42.6 70.7 L48.5 68.5 L54.4 66.2 L60.3 63.8 L66.2 61.2 L72.1 58.5 L78.0 55.7 L83.9 52.8 L89.8 49.7 L95.7 46.6 L101.6 43.3 L107.5 40.0 L113.4 36.5 L119.3 33.0 L125.3 29.4 L131.2 25.7 L137.1 22.0 L143.0 18.1 L148.9 14.2 L154.8 10.3 L160.7 6.3 L166.6 2.3 L172.5 -1.8 L178.4 -6.0 L184.3 -10.1 L190.2 -14.3 L196.1 -18.6 L202.0 -22.7 L207.9 -22.7 L207.9 72.7 L36.7 72.7Z" fill="url(#ua0)"/>
<linearGradient id="ua1" gradientUnits="userSpaceOnUse" x1="42.7" x2="201.9" y1="0" y2="0"><stop offset="0.0312" stop-color="#472c7a"/><stop offset="0.0938" stop-color="#472c7a"/><stop offset="0.1562" stop-color="#472c7a"/><stop offset="0.2188" stop-color="#472c7a"/><stop offset="0.2812" stop-color="#443a83"/><stop offset="0.3438" stop-color="#472c7a"/><stop offset="0.4062" stop-color="#365d8d"/><stop offset="0.4688" stop-color="#2d708e"/><stop offset="0.5312" stop-color="#65cb5e"/><stop offset="0.5938" stop-color="#a8db34"/><stop offset="0.6562" stop-color="#dde318"/><stop offset="0.7188" stop-color="#26828e"/><stop offset="0.7812" stop-color="#2c738e"/><stop offset="0.8438" stop-color="#2c738e"/><stop offset="0.9062" stop-color="#2c738e"/><stop offset="0.9688" stop-color="#2c738e"/></linearGradient>
<path d="M36.7 70.7 L42.6 70.7 L48.5 69.3 L54.4 67.8 L60.3 66.3 L66.2 64.7 L72.1 63.0 L78.0 61.2 L83.9 59.3 L89.8 57.4 L95.7 55.4 L101.6 53.4 L107.5 51.2 L113.4 49.1 L119.3 46.8 L125.3 44.5 L131.2 42.2 L137.1 39.8 L143.0 37.4 L148.9 34.9 L154.8 32.4 L160.7 29.9 L166.6 27.3 L172.5 24.8 L178.4 22.1 L184.3 19.5 L190.2 16.8 L196.1 14.2 L202.0 11.5 L207.9 11.5 L207.9 72.7 L36.7 72.7Z" fill="url(#ua1)"/>
<linearGradient id="ua2" gradientUnits="userSpaceOnUse" x1="42.7" x2="201.9" y1="0" y2="0"><stop offset="0.0312" stop-color="#472c7a"/><stop offset="0.0938" stop-color="#472c7a"/><stop offset="0.1562" stop-color="#472c7a"/><stop offset="0.2188" stop-color="#472c7a"/><stop offset="0.2812" stop-color="#46307e"/><stop offset="0.3438" stop-color="#472c7a"/><stop offset="0.4062" stop-color="#2c738e"/><stop offset="0.4688" stop-color="#218e8d"/><stop offset="0.5312" stop-color="#44bf70"/><stop offset="0.5938" stop-color="#6ece58"/><stop offset="0.6562" stop-color="#65cb5e"/><stop offset="0.7188" stop-color="#238a8d"/><stop offset="0.7812" stop-color="#297b8e"/><stop offset="0.8438" stop-color="#297b8e"/><stop offset="0.9062" stop-color="#297b8e"/><stop offset="0.9688" stop-color="#297b8e"/></linearGradient>
<path d="M36.7 70.7 L42.6 70.7 L48.5 69.4 L54.4 68.0 L60.3 66.5 L66.2 65.0 L72.1 63.4 L78.0 61.7 L83.9 59.9 L89.8 58.1 L95.7 56.2 L101.6 54.3 L107.5 52.3 L113.4 50.2 L119.3 48.1 L125.3 45.9 L131.2 43.7 L137.1 41.4 L143.0 39.2 L148.9 36.8 L154.8 34.5 L160.7 32.1 L166.6 29.6 L172.5 27.2 L178.4 24.7 L184.3 22.2 L190.2 19.7 L196.1 17.1 L202.0 14.6 L207.9 14.6 L207.9 72.7 L36.7 72.7Z" fill="url(#ua2)"/>
<linearGradient id="ua3" gradientUnits="userSpaceOnUse" x1="42.7" x2="201.9" y1="0" y2="0"><stop offset="0.0312" stop-color="#472c7a"/><stop offset="0.0938" stop-color="#472c7a"/><stop offset="0.1562" stop-color="#472c7a"/><stop offset="0.2188" stop-color="#472c7a"/><stop offset="0.2812" stop-color="#482677"/><stop offset="0.3438" stop-color="#482677"/><stop offset="0.4062" stop-color="#24868e"/><stop offset="0.4688" stop-color="#20a386"/><stop offset="0.5312" stop-color="#38b977"/><stop offset="0.5938" stop-color="#4cc26c"/><stop offset="0.6562" stop-color="#2db27d"/><stop offset="0.7188" stop-color="#24868e"/><stop offset="0.7812" stop-color="#2a778e"/><stop offset="0.8438" stop-color="#2c738e"/><stop offset="0.9062" stop-color="#297b8e"/><stop offset="0.9688" stop-color="#277f8e"/></linearGradient>
<path d="M36.7 70.7 L42.6 70.7 L48.5 69.5 L54.4 68.1 L60.3 66.8 L66.2 65.3 L72.1 63.8 L78.0 62.2 L83.9 60.5 L89.8 58.8 L95.7 57.0 L101.6 55.2 L107.5 53.3 L113.4 51.3 L119.3 49.3 L125.3 47.3 L131.2 45.2 L137.1 43.1 L143.0 40.9 L148.9 38.7 L154.8 36.5 L160.7 34.2 L166.6 31.9 L172.5 29.6 L178.4 27.3 L184.3 24.9 L190.2 22.5 L196.1 20.1 L202.0 17.7 L207.9 17.7 L207.9 72.7 L36.7 72.7Z" fill="url(#ua3)"/>
<linearGradient id="ua4" gradientUnits="userSpaceOnUse" x1="42.7" x2="201.9" y1="0" y2="0"><stop offset="0.0312" stop-color="#472c7a"/><stop offset="0.0938" stop-color="#472c7a"/><stop offset="0.1562" stop-color="#472c7a"/><stop offset="0.2188" stop-color="#472c7a"/><stop offset="0.2812" stop-color="#481c6e"/><stop offset="0.3438" stop-color="#481c6e"/><stop offset="0.4062" stop-color="#1f948c"/><stop offset="0.4688" stop-color="#2db27d"/><stop offset="0.5312" stop-color="#38b977"/><stop offset="0.5938" stop-color="#3fbc73"/><stop offset="0.6562" stop-color="#20a386"/><stop offset="0.7188" stop-color="#2a778e"/><stop offset="0.7812" stop-color="#30698e"/><stop offset="0.8438" stop-color="#365d8d"/><stop offset="0.9062" stop-color="#2c738e"/><stop offset="0.9688" stop-color="#277f8e"/></linearGradient>
<path d="M36.7 70.7 L42.6 70.7 L48.5 69.5 L54.4 68.3 L60.3 67.0 L66.2 65.6 L72.1 64.2 L78.0 62.7 L83.9 61.1 L89.8 59.5 L95.7 57.8 L101.6 56.1 L107.5 54.3 L113.4 52.5 L119.3 50.6 L125.3 48.7 L131.2 46.7 L137.1 44.7 L143.0 42.7 L148.9 40.6 L154.8 38.5 L160.7 36.3 L166.6 34.2 L172.5 32.0 L178.4 29.8 L184.3 27.6 L190.2 25.3 L196.1 23.1 L202.0 20.9 L207.9 20.9 L207.9 72.7 L36.7 72.7Z" fill="url(#ua4)"/>
<linearGradient id="ua5" gradientUnits="userSpaceOnUse" x1="42.7" x2="201.9" y1="0" y2="0"><stop offset="0.0312" stop-color="#472c7a"/><stop offset="0.0938" stop-color="#472c7a"/><stop offset="0.1562" stop-color="#472c7a"/><stop offset="0.2188" stop-color="#453581"/><stop offset="0.2812" stop-color="#481769"/><stop offset="0.3438" stop-color="#481769"/><stop offset="0.4062" stop-color="#20a386"/><stop offset="0.4688" stop-color="#5cc863"/><stop offset="0.5312" stop-color="#38b977"/><stop offset="0.5938" stop-color="#38b977"/><stop offset="0.6562" stop-color="#20a386"/><stop offset="0.7188" stop-color="#297b8e"/><stop offset="0.7812" stop-color="#30698e"/><stop offset="0.8438" stop-color="#3e4c8a"/><stop offset="0.9062" stop-color="#30698e"/><stop offset="0.9688" stop-color="#277f8e"/></linearGradient>
<path d="M36.7 70.7 L42.6 70.7 L48.5 69.6 L54.4 68.4 L60.3 67.2 L66.2 65.9 L72.1 64.6 L78.0 63.2 L83.9 61.7 L89.8 60.2 L95.7 58.6 L101.6 57.0 L107.5 55.3 L113.4 53.6 L119.3 51.8 L125.3 50.0 L131.2 48.2 L137.1 46.3 L143.0 44.4 L148.9 42.5 L154.8 40.5 L160.7 38.5 L166.6 36.5 L172.5 34.4 L178.4 32.4 L184.3 30.3 L190.2 28.2 L196.1 26.1 L202.0 24.0 L207.9 24.0 L207.9 72.7 L36.7 72.7Z" fill="url(#ua5)"/>
<linearGradient id="ua6" gradientUnits="userSpaceOnUse" x1="42.7" x2="201.9" y1="0" y2="0"><stop offset="0.0312" stop-color="#472c7a"/><stop offset="0.0938" stop-color="#472c7a"/><stop offset="0.1562" stop-color="#472c7a"/><stop offset="0.2188" stop-color="#3f4788"/><stop offset="0.2812" stop-color="#481769"/><stop offset="0.3438" stop-color="#481769"/><stop offset="0.4062" stop-color="#2db27d"/><stop offset="0.4688" stop-color="#bddf26"/><stop offset="0.5312" stop-color="#38b977"/><stop offset="0.5938" stop-color="#38b977"/><stop offset="0.6562" stop-color="#2db27d"/><stop offset="0.7188" stop-color="#20928c"/><stop offset="0.7812" stop-color="#2a778e"/><stop offset="0.8438" stop-color="#414287"/><stop offset="0.9062" stop-color="#38598c"/><stop offset="0.9688" stop-color="#277f8e"/></linearGradient>
<path d="M36.7 70.7 L42.6 70.7 L48.5 69.7 L54.4 68.6 L60.3 67.4 L66.2 66.3 L72.1 65.0 L78.0 63.7 L83.9 62.3 L89.8 60.9 L95.7 59.4 L101.6 57.9 L107.5 56.4 L113.4 54.8 L119.3 53.1 L125.3 51.4 L131.2 49.7 L137.1 47.9 L143.0 46.2 L148.9 44.3 L154.8 42.5 L160.7 40.6 L166.6 38.8 L172.5 36.8 L178.4 34.9 L184.3 33.0 L190.2 31.0 L196.1 29.0 L202.0 27.1 L207.9 27.1 L207.9 72.7 L36.7 72.7Z" fill="url(#ua6)"/>
<linearGradient id="ua7" gradientUnits="userSpaceOnUse" x1="42.7" x2="201.9" y1="0" y2="0"><stop offset="0.0312" stop-color="#472c7a"/><stop offset="0.0938" stop-color="#472c7a"/><stop offset="0.1562" stop-color="#472c7a"/><stop offset="0.2188" stop-color="#3c508b"/><stop offset="0.2812" stop-color="#481769"/><stop offset="0.3438" stop-color="#481c6e"/><stop offset="0.4062" stop-color="#2db27d"/><stop offset="0.4688" stop-color="#c8e020"/><stop offset="0.5312" stop-color="#44bf70"/><stop offset="0.5938" stop-color="#3fbc73"/><stop offset="0.6562" stop-color="#3fbc73"/><stop offset="0.7188" stop-color="#20a386"/><stop offset="0.7812" stop-color="#24868e"/><stop offset="0.8438" stop-color="#3a548c"/><stop offset="0.9062" stop-color="#365d8d"/><stop offset="0.9688" stop-color="#26828e"/></linearGradient>
<path d="M36.7 70.7 L42.6 70.7 L48.5 69.7 L54.4 68.7 L60.3 67.7 L66.2 66.6 L72.1 65.4 L78.0 64.2 L83.9 62.9 L89.8 61.6 L95.7 60.2 L101.6 58.8 L107.5 57.4 L113.4 55.9 L119.3 54.4 L125.3 52.8 L131.2 51.2 L137.1 49.6 L143.0 47.9 L148.9 46.2 L154.8 44.5 L160.7 42.8 L166.6 41.0 L172.5 39.3 L178.4 37.5 L184.3 35.7 L190.2 33.8 L196.1 32.0 L202.0 30.2 L207.9 30.2 L207.9 72.7 L36.7 72.7Z" fill="url(#ua7)"/>
<linearGradient id="ua8" gradientUnits="userSpaceOnUse" x1="42.7" x2="201.9" y1="0" y2="0"><stop offset="0.0312" stop-color="#472c7a"/><stop offset="0.0938" stop-color="#472c7a"/><stop offset="0.1562" stop-color="#472c7a"/><stop offset="0.2188" stop-color="#3c508b"/><stop offset="0.2812" stop-color="#481769"/><stop offset="0.3438" stop-color="#482677"/><stop offset="0.4062" stop-color="#20a386"/><stop offset="0.4688" stop-color="#77d153"/><stop offset="0.5312" stop-color="#65cb5e"/><stop offset="0.5938" stop-color="#4cc26c"/><stop offset="0.6562" stop-color="#4cc26c"/><stop offset="0.7188" stop-color="#2db27d"/><stop offset="0.7812" stop-color="#1f948c"/><stop offset="0.8438" stop-color="#297b8e"/><stop offset="0.9062" stop-color="#2c738e"/><stop offset="0.9688" stop-color="#238a8d"/></linearGradient>
<path d="M36.7 70.7 L42.6 70.7 L48.5 69.8 L54.4 68.9 L60.3 67.9 L66.2 66.9 L72.1 65.8 L78.0 64.7 L83.9 63.5 L89.8 62.3 L95.7 61.0 L101.6 59.7 L107.5 58.4 L113.4 57.0 L119.3 55.6 L125.3 54.2 L131.2 52.7 L137.1 51.2 L143.0 49.7 L148.9 48.1 L154.8 46.5 L160.7 44.9 L166.6 43.3 L172.5 41.7 L178.4 40.0 L184.3 38.4 L190.2 36.7 L196.1 35.0 L202.0 33.3 L207.9 33.3 L207.9 72.7 L36.7 72.7Z" fill="url(#ua8)"/>
<linearGradient id="ua9" gradientUnits="userSpaceOnUse" x1="42.7" x2="201.9" y1="0" y2="0"><stop offset="0.0312" stop-color="#472c7a"/><stop offset="0.0938" stop-color="#472c7a"/><stop offset="0.1562" stop-color="#482677"/><stop offset="0.2188" stop-color="#3e4c8a"/><stop offset="0.2812" stop-color="#481c6e"/><stop offset="0.3438" stop-color="#46307e"/><stop offset="0.4062" stop-color="#1f948c"/><stop offset="0.4688" stop-color="#4cc26c"/><stop offset="0.5312" stop-color="#81d34d"/><stop offset="0.5938" stop-color="#4cc26c"/><stop offset="0.6562" stop-color="#4cc26c"/><stop offset="0.7188" stop-color="#38b977"/><stop offset="0.7812" stop-color="#1fa088"/><stop offset="0.8438" stop-color="#20928c"/><stop offset="0.9062" stop-color="#26828e"/><stop offset="0.9688" stop-color="#238a8d"/></linearGradient>
<path d="M36.7 70.7 L42.6 70.7 L48.5 69.9 L54.4 69.0 L60.3 68.1 L66.2 67.2 L72.1 66.2 L78.0 65.2 L83.9 64.1 L89.8 63.0 L95.7 61.8 L101.6 60.7 L107.5 59.4 L113.4 58.2 L119.3 56.9 L125.3 55.5 L131.2 54.2 L137.1 52.8 L143.0 51.4 L148.9 50.0 L154.8 48.5 L160.7 47.1 L166.6 45.6 L172.5 44.1 L178.4 42.6 L184.3 41.1 L190.2 39.5 L196.1 38.0 L202.0 36.4 L207.9 36.4 L207.9 72.7 L36.7 72.7Z" fill="url(#ua9)"/>
<linearGradient id="ua10" gradientUnits="userSpaceOnUse" x1="42.7" x2="201.9" y1="0" y2="0"><stop offset="0.0312" stop-color="#472c7a"/><stop offset="0.0938" stop-color="#472c7a"/><stop offset="0.1562" stop-color="#481c6e"/><stop offset="0.2188" stop-color="#414287"/><stop offset="0.2812" stop-color="#482677"/><stop offset="0.3438" stop-color="#443a83"/><stop offset="0.4062" stop-color="#24868e"/><stop offset="0.4688" stop-color="#3fbc73"/><stop offset="0.5312" stop-color="#95d840"/><stop offset="0.5938" stop-color="#3fbc73"/><stop offset="0.6562" stop-color="#3fbc73"/><stop offset="0.7188" stop-color="#38b977"/><stop offset="0.7812" stop-color="#22a785"/><stop offset="0.8438" stop-color="#1f988b"/><stop offset="0.9062" stop-color="#238a8d"/><stop offset="0.9688" stop-color="#26828e"/></linearGradient>
<path d="M36.7 70.7 L42.6 70.7 L48.5 70.0 L54.4 69.2 L60.3 68.4 L66.2 67.5 L72.1 66.6 L78.0 65.7 L83.9 64.7 L89.8 63.7 L95.7 62.6 L101.6 61.6 L107.5 60.4 L113.4 59.3 L119.3 58.1 L125.3 56.9 L131.2 55.7 L137.1 54.4 L143.0 53.2 L148.9 51.9 L154.8 50.6 L160.7 49.2 L166.6 47.9 L172.5 46.5 L178.4 45.1 L184.3 43.7 L190.2 42.3 L196.1 40.9 L202.0 39.5 L207.9 39.5 L207.9 72.7 L36.7 72.7Z" fill="url(#ua10)"/>
<linearGradient id="ua11" gradientUnits="userSpaceOnUse" x1="42.7" x2="201.9" y1="0" y2="0"><stop offset="0.0312" stop-color="#472c7a"/><stop offset="0.0938" stop-color="#472c7a"/><stop offset="0.1562" stop-color="#481769"/><stop offset="0.2188" stop-color="#443a83"/><stop offset="0.2812" stop-color="#472c7a"/><stop offset="0.3438" stop-color="#3f4788"/><stop offset="0.4062" stop-color="#277f8e"/><stop offset="0.4688" stop-color="#2db27d"/><stop offset="0.5312" stop-color="#a0da39"/><stop offset="0.5938" stop-color="#3fbc73"/><stop offset="0.6562" stop-color="#38b977"/><stop offset="0.7188" stop-color="#38b977"/><stop offset="0.7812" stop-color="#28ae80"/><stop offset="0.8438" stop-color="#1e9c89"/><stop offset="0.9062" stop-color="#238a8d"/><stop offset="0.9688" stop-color="#2a778e"/></linearGradient>
<path d="M36.7 70.7 L42.6 70.7 L48.5 70.0 L54.4 69.3 L60.3 68.6 L66.2 67.8 L72.1 67.0 L78.0 66.2 L83.9 65.3 L89.8 64.4 L95.7 63.5 L101.6 62.5 L107.5 61.5 L113.4 60.4 L119.3 59.4 L125.3 58.3 L131.2 57.2 L137.1 56.1 L143.0 54.9 L148.9 53.8 L154.8 52.6 L160.7 51.4 L166.6 50.2 L172.5 48.9 L178.4 47.7 L184.3 46.4 L190.2 45.2 L196.1 43.9 L202.0 42.7 L207.9 42.7 L207.9 72.7 L36.7 72.7Z" fill="url(#ua11)"/>
<linearGradient id="ua12" gradientUnits="userSpaceOnUse" x1="42.7" x2="201.9" y1="0" y2="0"><stop offset="0.0312" stop-color="#472c7a"/><stop offset="0.0938" stop-color="#472c7a"/><stop offset="0.1562" stop-color="#481769"/><stop offset="0.2188" stop-color="#46307e"/><stop offset="0.2812" stop-color="#472c7a"/><stop offset="0.3438" stop-color="#38598c"/><stop offset="0.4062" stop-color="#277f8e"/><stop offset="0.4688" stop-color="#20a386"/><stop offset="0.5312" stop-color="#a0da39"/><stop offset="0.5938" stop-color="#4cc26c"/><stop offset="0.6562" stop-color="#38b977"/><stop offset="0.7188" stop-color="#38b977"/><stop offset="0.7812" stop-color="#32b67a"/><stop offset="0.8438" stop-color="#1e9c89"/><stop offset="0.9062" stop-color="#26828e"/><stop offset="0.9688" stop-color="#30698e"/></linearGradient>
<path d="M36.7 70.7 L42.6 70.7 L48.5 70.1 L54.4 69.5 L60.3 68.8 L66.2 68.2 L72.1 67.4 L78.0 66.7 L83.9 65.9 L89.8 65.1 L95.7 64.3 L101.6 63.4 L107.5 62.5 L113.4 61.6 L119.3 60.6 L125.3 59.7 L131.2 58.7 L137.1 57.7 L143.0 56.7 L148.9 55.6 L154.8 54.6 L160.7 53.5 L166.6 52.4 L172.5 51.3 L178.4 50.2 L184.3 49.1 L190.2 48.0 L196.1 46.9 L202.0 45.8 L207.9 45.8 L207.9 72.7 L36.7 72.7Z" fill="url(#ua12)"/>
<linearGradient id="ua13" gradientUnits="userSpaceOnUse" x1="42.7" x2="201.9" y1="0" y2="0"><stop offset="0.0312" stop-color="#472c7a"/><stop offset="0.0938" stop-color="#472c7a"/><stop offset="0.1562" stop-color="#481769"/><stop offset="0.2188" stop-color="#482677"/><stop offset="0.2812" stop-color="#453581"/><stop offset="0.3438" stop-color="#30698e"/><stop offset="0.4062" stop-color="#24868e"/><stop offset="0.4688" stop-color="#1f988b"/><stop offset="0.5312" stop-color="#81d34d"/><stop offset="0.5938" stop-color="#54c568"/><stop offset="0.6562" stop-color="#3fbc73"/><stop offset="0.7188" stop-color="#3fbc73"/><stop offset="0.7812" stop-color="#32b67a"/><stop offset="0.8438" stop-color="#1e9c89"/><stop offset="0.9062" stop-color="#24868e"/><stop offset="0.9688" stop-color="#2f6c8e"/></linearGradient>
<path d="M36.7 70.7 L42.6 70.7 L48.5 70.2 L54.4 69.6 L60.3 69.1 L66.2 68.5 L72.1 67.8 L78.0 67.2 L83.9 66.5 L89.8 65.8 L95.7 65.1 L101.6 64.3 L107.5 63.5 L113.4 62.7 L119.3 61.9 L125.3 61.1 L131.2 60.2 L137.1 59.3 L143.0 58.4 L148.9 57.5 L154.8 56.6 L160.7 55.7 L166.6 54.7 L172.5 53.8 L178.4 52.8 L184.3 51.8 L190.2 50.8 L196.1 49.9 L202.0 48.9 L207.9 48.9 L207.9 72.7 L36.7 72.7Z" fill="url(#ua13)"/>
<linearGradient id="ua14" gradientUnits="userSpaceOnUse" x1="42.7" x2="201.9" y1="0" y2="0"><stop offset="0.0312" stop-color="#472c7a"/><stop offset="0.0938" stop-color="#472c7a"/><stop offset="0.1562" stop-color="#481769"/><stop offset="0.2188" stop-color="#481c6e"/><stop offset="0.2812" stop-color="#3f4788"/><stop offset="0.3438" stop-color="#2a778e"/><stop offset="0.4062" stop-color="#1f948c"/><stop offset="0.4688" stop-color="#20928c"/><stop offset="0.5312" stop-color="#4cc26c"/><stop offset="0.5938" stop-color="#54c568"/><stop offset="0.6562" stop-color="#4cc26c"/><stop offset="0.7188" stop-color="#4cc26c"/><stop offset="0.7812" stop-color="#28ae80"/><stop offset="0.8438" stop-color="#1e9c89"/><stop offset="0.9062" stop-color="#1f948c"/><stop offset="0.9688" stop-color="#26828e"/></linearGradient>
<path d="M36.7 70.7 L42.6 70.7 L48.5 70.3 L54.4 69.8 L60.3 69.3 L66.2 68.8 L72.1 68.2 L78.0 67.7 L83.9 67.1 L89.8 66.5 L95.7 65.9 L101.6 65.2 L107.5 64.5 L113.4 63.9 L119.3 63.1 L125.3 62.4 L131.2 61.7 L137.1 60.9 L143.0 60.2 L148.9 59.4 L154.8 58.6 L160.7 57.8 L166.6 57.0 L172.5 56.2 L178.4 55.4 L184.3 54.5 L190.2 53.7 L196.1 52.8 L202.0 52.0 L207.9 52.0 L207.9 72.7 L36.7 72.7Z" fill="url(#ua14)"/>
<linearGradient id="ua15" gradientUnits="userSpaceOnUse" x1="42.7" x2="201.9" y1="0" y2="0"><stop offset="0.0312" stop-color="#472c7a"/><stop offset="0.0938" stop-color="#472c7a"/><stop offset="0.1562" stop-color="#481769"/><stop offset="0.2188" stop-color="#481769"/><stop offset="0.2812" stop-color="#3a548c"/><stop offset="0.3438" stop-color="#24868e"/><stop offset="0.4062" stop-color="#1fa088"/><stop offset="0.4688" stop-color="#20928c"/><stop offset="0.5312" stop-color="#2db27d"/><stop offset="0.5938" stop-color="#4cc26c"/><stop offset="0.6562" stop-color="#65cb5e"/><stop offset="0.7188" stop-color="#54c568"/><stop offset="0.7812" stop-color="#22a785"/><stop offset="0.8438" stop-color="#1e9c89"/><stop offset="0.9062" stop-color="#1e9c89"/><stop offset="0.9688" stop-color="#20928c"/></linearGradient>
<path d="M36.7 70.7 L42.6 70.7 L48.5 70.3 L54.4 69.9 L60.3 69.5 L66.2 69.1 L72.1 68.7 L78.0 68.2 L83.9 67.7 L89.8 67.2 L95.7 66.7 L101.6 66.1 L107.5 65.6 L113.4 65.0 L119.3 64.4 L125.3 63.8 L131.2 63.2 L137.1 62.6 L143.0 61.9 L148.9 61.3 L154.8 60.6 L160.7 60.0 L166.6 59.3 L172.5 58.6 L178.4 57.9 L184.3 57.2 L190.2 56.5 L196.1 55.8 L202.0 55.1 L207.9 55.1 L207.9 72.7 L36.7 72.7Z" fill="url(#ua15)"/>
<linearGradient id="ua16" gradientUnits="userSpaceOnUse" x1="42.7" x2="201.9" y1="0" y2="0"><stop offset="0.0312" stop-color="#472c7a"/><stop offset="0.0938" stop-color="#472c7a"/><stop offset="0.1562" stop-color="#481769"/><stop offset="0.2188" stop-color="#481769"/><stop offset="0.2812" stop-color="#365d8d"/><stop offset="0.3438" stop-color="#1f948c"/><stop offset="0.4062" stop-color="#22a785"/><stop offset="0.4688" stop-color="#1f988b"/><stop offset="0.5312" stop-color="#20a386"/><stop offset="0.5938" stop-color="#3fbc73"/><stop offset="0.6562" stop-color="#8bd646"/><stop offset="0.7188" stop-color="#54c568"/><stop offset="0.7812" stop-color="#1fa088"/><stop offset="0.8438" stop-color="#1e9c89"/><stop offset="0.9062" stop-color="#1e9c89"/><stop offset="0.9688" stop-color="#1f988b"/></linearGradient>
<path d="M36.7 70.7 L42.6 70.7 L48.5 70.4 L54.4 70.1 L60.3 69.8 L66.2 69.4 L72.1 69.1 L78.0 68.7 L83.9 68.3 L89.8 67.9 L95.7 67.5 L101.6 67.0 L107.5 66.6 L113.4 66.1 L119.3 65.7 L125.3 65.2 L131.2 64.7 L137.1 64.2 L143.0 63.7 L148.9 63.2 L154.8 62.6 L160.7 62.1 L166.6 61.6 L172.5 61.0 L178.4 60.5 L184.3 59.9 L190.2 59.3 L196.1 58.8 L202.0 58.2 L207.9 58.2 L207.9 72.7 L36.7 72.7Z" fill="url(#ua16)"/>
<linearGradient id="ua17" gradientUnits="userSpaceOnUse" x1="42.7" x2="201.9" y1="0" y2="0"><stop offset="0.0312" stop-color="#472c7a"/><stop offset="0.0938" stop-color="#472c7a"/><stop offset="0.1562" stop-color="#481769"/><stop offset="0.2188" stop-color="#481c6e"/><stop offset="0.2812" stop-color="#34618d"/><stop offset="0.3438" stop-color="#1f988b"/><stop offset="0.4062" stop-color="#22a785"/><stop offset="0.4688" stop-color="#1e9c89"/><stop offset="0.5312" stop-color="#1e9c89"/><stop offset="0.5938" stop-color="#38b977"/><stop offset="0.6562" stop-color="#95d840"/><stop offset="0.7188" stop-color="#32b67a"/><stop offset="0.7812" stop-color="#26828e"/><stop offset="0.8438" stop-color="#1f948c"/><stop offset="0.9062" stop-color="#1e9c89"/><stop offset="0.9688" stop-color="#1e9c89"/></linearGradient>
<path d="M36.7 70.7 L42.6 70.7 L48.5 70.5 L54.4 70.2 L60.3 70.0 L66.2 69.7 L72.1 69.5 L78.0 69.2 L83.9 68.9 L89.8 68.6 L95.7 68.3 L101.6 67.9 L107.5 67.6 L113.4 67.3 L119.3 66.9 L125.3 66.6 L131.2 66.2 L137.1 65.8 L143.0 65.4 L148.9 65.0 L154.8 64.6 L160.7 64.2 L166.6 63.8 L172.5 63.4 L178.4 63.0 L184.3 62.6 L190.2 62.2 L196.1 61.8 L202.0 61.3 L207.9 61.3 L207.9 72.7 L36.7 72.7Z" fill="url(#ua17)"/>
<linearGradient id="ua18" gradientUnits="userSpaceOnUse" x1="42.7" x2="201.9" y1="0" y2="0"><stop offset="0.0312" stop-color="#472c7a"/><stop offset="0.0938" stop-color="#472c7a"/><stop offset="0.1562" stop-color="#481769"/><stop offset="0.2188" stop-color="#482677"/><stop offset="0.2812" stop-color="#34618d"/><stop offset="0.3438" stop-color="#20928c"/><stop offset="0.4062" stop-color="#1fa088"/><stop offset="0.4688" stop-color="#1e9c89"/><stop offset="0.5312" stop-color="#1e9c89"/><stop offset="0.5938" stop-color="#38b977"/><stop offset="0.6562" stop-color="#81d34d"/><stop offset="0.7188" stop-color="#20928c"/><stop offset="0.7812" stop-color="#3e4c8a"/><stop offset="0.8438" stop-color="#24868e"/><stop offset="0.9062" stop-color="#1e9c89"/><stop offset="0.9688" stop-color="#1e9c89"/></linearGradient>
<path d="M36.7 70.7 L42.6 70.7 L48.5 70.5 L54.4 70.4 L60.3 70.2 L66.2 70.0 L72.1 69.9 L78.0 69.7 L83.9 69.5 L89.8 69.3 L95.7 69.1 L101.6 68.9 L107.5 68.6 L113.4 68.4 L119.3 68.2 L125.3 67.9 L131.2 67.7 L137.1 67.4 L143.0 67.2 L148.9 66.9 L154.8 66.7 L160.7 66.4 L166.6 66.1 L172.5 65.8 L178.4 65.6 L184.3 65.3 L190.2 65.0 L196.1 64.7 L202.0 64.5 L207.9 64.5 L207.9 72.7 L36.7 72.7Z" fill="url(#ua18)"/>
<linearGradient id="ua19" gradientUnits="userSpaceOnUse" x1="42.7" x2="201.9" y1="0" y2="0"><stop offset="0.0312" stop-color="#453581"/><stop offset="0.0938" stop-color="#453581"/><stop offset="0.1562" stop-color="#481a6c"/><stop offset="0.2188" stop-color="#453581"/><stop offset="0.2812" stop-color="#33628d"/><stop offset="0.3438" stop-color="#29798e"/><stop offset="0.4062" stop-color="#1e9d89"/><stop offset="0.4688" stop-color="#218f8d"/><stop offset="0.5312" stop-color="#1e9d89"/><stop offset="0.5938" stop-color="#37b878"/><stop offset="0.6562" stop-color="#73d056"/><stop offset="0.7188" stop-color="#2d718e"/><stop offset="0.7812" stop-color="#482576"/><stop offset="0.8438" stop-color="#277f8e"/><stop offset="0.9062" stop-color="#1e9c89"/><stop offset="0.9688" stop-color="#1e9d89"/></linearGradient>
<path d="M36.7 70.7 L42.6 70.7 L48.5 70.6 L54.4 70.5 L60.3 70.5 L66.2 70.4 L72.1 70.3 L78.0 70.2 L83.9 70.1 L89.8 70.0 L95.7 69.9 L101.6 69.8 L107.5 69.7 L113.4 69.5 L119.3 69.4 L125.3 69.3 L131.2 69.2 L137.1 69.1 L143.0 68.9 L148.9 68.8 L154.8 68.7 L160.7 68.5 L166.6 68.4 L172.5 68.3 L178.4 68.1 L184.3 68.0 L190.2 67.8 L196.1 67.7 L202.0 67.6 L207.9 67.6 L207.9 72.7 L36.7 72.7Z" fill="url(#ua19)"/>
</g>
</g>
<g filter="url(#bl2)">
<ellipse cx="61.2" cy="72.1" rx="18" ry="1.3" fill="#470e61" opacity="0.8"/>
<ellipse cx="75.0" cy="79.8" rx="6" ry="2.2" fill="#470e61" opacity="0.8"/>
<ellipse cx="46.6" cy="83.4" rx="5" ry="3" fill="#470e61" opacity="0.8"/>
<ellipse cx="67.7" cy="86.4" rx="10" ry="1.5" fill="#470e61" opacity="0.8"/>
<ellipse cx="53.9" cy="98.0" rx="11" ry="2" fill="#470e61" opacity="0.8"/>
<ellipse cx="79.4" cy="101.9" rx="14" ry="2" fill="#470e61" opacity="0.8"/>
<ellipse cx="59.0" cy="76.2" rx="13" ry="1.5" fill="#277f8e" opacity="0.8"/>
<ellipse cx="60.5" cy="83.0" rx="9" ry="1.3" fill="#277f8e" opacity="0.8"/>
<ellipse cx="61.9" cy="90.3" rx="14" ry="2.2" fill="#2d708e" opacity="0.8"/>
<ellipse cx="70.6" cy="96.8" rx="8" ry="2" fill="#2d708e" opacity="0.8"/>
</g>
</g>
<path d="M79.5 8.4 V138.9" stroke="#c6c6c6" stroke-width="0.8" fill="none" opacity="0.9"/>
<path d="M42.7 70.7 H201.9 M42.7 133.0 H201.9" stroke="#c6c6c6" stroke-width="0.8" fill="none" opacity="0.6"/>
<path d="M52.4 138.9 v2.2 M60.6 138.9 v2.2 M67.7 138.9 v2.2 M73.9 138.9 v2.2 M116.4 138.9 v2.2 M137.9 138.9 v2.2 M153.2 138.9 v2.2 M165.1 138.9 v2.2 M174.8 138.9 v2.2 M182.9 138.9 v2.2 M190.0 138.9 v2.2 M196.3 138.9 v2.2 M42.7 135.8 h-2.2 M42.7 114.2 h-2.2 M42.7 103.2 h-2.2 M42.7 95.5 h-2.2 M42.7 89.4 h-2.2 M42.7 84.5 h-2.2 M42.7 80.3 h-2.2 M42.7 76.7 h-2.2 M42.7 73.5 h-2.2 M42.7 51.9 h-2.2 M42.7 41.0 h-2.2 M42.7 33.2 h-2.2 M42.7 27.1 h-2.2 M42.7 22.2 h-2.2 M42.7 18.0 h-2.2 M42.7 14.4 h-2.2 M42.7 11.2 h-2.2" stroke="#bdbdbd" stroke-width="0.7" fill="none"/>
<path d="M79.5 138.9 v4.2 M201.9 138.9 v4.2 M42.7 133.0 h-4.2 M42.7 70.7 h-4.2 M42.7 8.4 h-4.2" stroke="#b8b8b8" stroke-width="0.8" fill="none"/>
<rect x="42.7" y="8.4" width="159.2" height="130.5" fill="none" stroke="#333" stroke-width="0.75"/>
<rect x="221.0" y="8.40" width="14.2" height="6.17" fill="#f1e51d" shape-rendering="crispEdges"/>
<rect x="221.0" y="14.07" width="14.2" height="6.17" fill="#d5e21a" shape-rendering="crispEdges"/>
<rect x="221.0" y="19.75" width="14.2" height="6.17" fill="#b8de29" shape-rendering="crispEdges"/>
<rect x="221.0" y="25.42" width="14.2" height="6.17" fill="#9bd93c" shape-rendering="crispEdges"/>
<rect x="221.0" y="31.10" width="14.2" height="6.17" fill="#7cd250" shape-rendering="crispEdges"/>
<rect x="221.0" y="36.77" width="14.2" height="6.17" fill="#63cb5f" shape-rendering="crispEdges"/>
<rect x="221.0" y="42.44" width="14.2" height="6.17" fill="#4cc26c" shape-rendering="crispEdges"/>
<rect x="221.0" y="48.12" width="14.2" height="6.17" fill="#38b977" shape-rendering="crispEdges"/>
<rect x="221.0" y="53.79" width="14.2" height="6.17" fill="#29af7f" shape-rendering="crispEdges"/>
<rect x="221.0" y="59.47" width="14.2" height="6.17" fill="#21a585" shape-rendering="crispEdges"/>
<rect x="221.0" y="65.14" width="14.2" height="6.17" fill="#1e9b8a" shape-rendering="crispEdges"/>
<rect x="221.0" y="70.81" width="14.2" height="6.17" fill="#21918c" shape-rendering="crispEdges"/>
<rect x="221.0" y="76.49" width="14.2" height="6.17" fill="#25858e" shape-rendering="crispEdges"/>
<rect x="221.0" y="82.16" width="14.2" height="6.17" fill="#297b8e" shape-rendering="crispEdges"/>
<rect x="221.0" y="87.83" width="14.2" height="6.17" fill="#2d718e" shape-rendering="crispEdges"/>
<rect x="221.0" y="93.51" width="14.2" height="6.17" fill="#31668e" shape-rendering="crispEdges"/>
<rect x="221.0" y="99.18" width="14.2" height="6.17" fill="#375b8d" shape-rendering="crispEdges"/>
<rect x="221.0" y="104.86" width="14.2" height="6.17" fill="#3c4f8a" shape-rendering="crispEdges"/>
<rect x="221.0" y="110.53" width="14.2" height="6.17" fill="#414287" shape-rendering="crispEdges"/>
<rect x="221.0" y="116.20" width="14.2" height="6.17" fill="#463480" shape-rendering="crispEdges"/>
<rect x="221.0" y="121.88" width="14.2" height="6.17" fill="#482677" shape-rendering="crispEdges"/>
<rect x="221.0" y="127.55" width="14.2" height="6.17" fill="#48186a" shape-rendering="crispEdges"/>
<rect x="221.0" y="133.23" width="14.2" height="6.17" fill="#46085c" shape-rendering="crispEdges"/>
<rect x="221.0" y="8.4" width="14.2" height="130.5" fill="none" stroke="#444" stroke-width="0.55"/>
<text x="239.0" y="13.1" class="t">10<tspan dy="-4.1" class="s">0</tspan></text>
<text x="239.0" y="56.6" class="t">10<tspan dy="-4.1" class="s">−1</tspan></text>
<text x="239.0" y="100.1" class="t">10<tspan dy="-4.1" class="s">−2</tspan></text>
<text x="239.0" y="143.6" class="t">10<tspan dy="-4.1" class="s">−3</tspan></text>
<text x="21.1" y="13.1" class="t">10<tspan dy="-4.1" class="s">2</tspan></text>
<text x="21.1" y="75.4" class="t">10<tspan dy="-4.1" class="s">1</tspan></text>
<text x="21.1" y="137.7" class="t">10<tspan dy="-4.1" class="s">0</tspan></text>
<text x="73.0" y="156.9" class="t">10<tspan dy="-4.1" class="s">1</tspan></text>
<text x="195.4" y="156.9" class="t">10<tspan dy="-4.1" class="s">2</tspan></text>
<text x="74.0" y="171.0" class="l" textLength="96.3" lengthAdjust="spacingAndGlyphs">motion frequency, Hz</text>
<text transform="translate(11.0 114.8) rotate(-90)" class="l" textLength="83.8" lengthAdjust="spacingAndGlyphs">motion intensity, g</text>
<text x="128.4" y="194.7" class="c" text-anchor="middle">(a)</text>
<clipPath id="cpb"><path d="M330.3 138.9 L330.3 70.7 L334.4 69.7 L338.5 68.6 L342.6 67.6 L346.6 66.4 L350.7 65.3 L354.8 64.1 L358.9 62.8 L363.0 61.5 L367.1 60.2 L371.1 58.9 L375.2 57.5 L379.3 56.1 L383.4 54.6 L387.5 53.1 L391.6 51.6 L395.7 50.0 L399.7 48.5 L403.8 46.8 L407.9 45.2 L412.0 43.5 L416.1 41.9 L420.2 40.1 L424.2 38.4 L428.3 36.6 L432.4 34.9 L436.5 33.1 L440.6 31.3 L444.7 29.4 L448.8 27.6 L452.8 25.7 L456.9 23.8 L461.0 21.9 L465.1 20.0 L469.2 18.1 L473.3 16.2 L477.3 14.3 L481.4 12.3 L485.5 10.4 L489.6 8.4 L489.6 138.9Z"/></clipPath>
<g clip-path="url(#cpb)"><g filter="url(#bl)">
<linearGradient id="gb0" gradientUnits="userSpaceOnUse" x1="330.3" x2="489.6" y1="0" y2="0"><stop offset="0.0312" stop-color="#481769"/><stop offset="0.0938" stop-color="#481769"/><stop offset="0.1562" stop-color="#433e85"/><stop offset="0.2188" stop-color="#433e85"/><stop offset="0.2812" stop-color="#38588c"/><stop offset="0.3438" stop-color="#472e7c"/><stop offset="0.4062" stop-color="#34618d"/><stop offset="0.4688" stop-color="#22a884"/><stop offset="0.5312" stop-color="#3dbc74"/><stop offset="0.5938" stop-color="#63cb5f"/><stop offset="0.6562" stop-color="#48c16e"/><stop offset="0.7188" stop-color="#38b977"/><stop offset="0.7812" stop-color="#24878e"/><stop offset="0.8438" stop-color="#2c728e"/><stop offset="0.9062" stop-color="#24878e"/><stop offset="0.9688" stop-color="#1e9c89"/></linearGradient>
<rect x="324.3" y="58.68" width="171.3" height="8.58" fill="url(#gb0)"/>
<linearGradient id="gb1" gradientUnits="userSpaceOnUse" x1="330.3" x2="489.6" y1="0" y2="0"><stop offset="0.0312" stop-color="#481769"/><stop offset="0.0938" stop-color="#481769"/><stop offset="0.1562" stop-color="#433e85"/><stop offset="0.2188" stop-color="#433e85"/><stop offset="0.2812" stop-color="#3e4c8a"/><stop offset="0.3438" stop-color="#3f4788"/><stop offset="0.4062" stop-color="#34618d"/><stop offset="0.4688" stop-color="#1f948c"/><stop offset="0.5312" stop-color="#1fa088"/><stop offset="0.5938" stop-color="#4cc26c"/><stop offset="0.6562" stop-color="#5cc863"/><stop offset="0.7188" stop-color="#38b977"/><stop offset="0.7812" stop-color="#20928c"/><stop offset="0.8438" stop-color="#24868e"/><stop offset="0.9062" stop-color="#20928c"/><stop offset="0.9688" stop-color="#1e9c89"/></linearGradient>
<rect x="324.3" y="66.87" width="171.3" height="2.58" fill="url(#gb1)"/>
<linearGradient id="gb2" gradientUnits="userSpaceOnUse" x1="330.3" x2="489.6" y1="0" y2="0"><stop offset="0.0312" stop-color="#481769"/><stop offset="0.0938" stop-color="#481769"/><stop offset="0.1562" stop-color="#433e85"/><stop offset="0.2188" stop-color="#433e85"/><stop offset="0.2812" stop-color="#424086"/><stop offset="0.3438" stop-color="#355e8d"/><stop offset="0.4062" stop-color="#34618d"/><stop offset="0.4688" stop-color="#26818e"/><stop offset="0.5312" stop-color="#26828e"/><stop offset="0.5938" stop-color="#3aba76"/><stop offset="0.6562" stop-color="#75d054"/><stop offset="0.7188" stop-color="#38b977"/><stop offset="0.7812" stop-color="#1e9b8a"/><stop offset="0.8438" stop-color="#1f9a8a"/><stop offset="0.9062" stop-color="#1e9b8a"/><stop offset="0.9688" stop-color="#1e9c89"/></linearGradient>
<rect x="324.3" y="69.05" width="171.3" height="2.58" fill="url(#gb2)"/>
<linearGradient id="gb3" gradientUnits="userSpaceOnUse" x1="330.3" x2="489.6" y1="0" y2="0"><stop offset="0.0312" stop-color="#482374"/><stop offset="0.0938" stop-color="#472f7d"/><stop offset="0.1562" stop-color="#3e4989"/><stop offset="0.2188" stop-color="#433e85"/><stop offset="0.2812" stop-color="#365d8d"/><stop offset="0.3438" stop-color="#2c728e"/><stop offset="0.4062" stop-color="#2c728e"/><stop offset="0.4688" stop-color="#24878e"/><stop offset="0.5312" stop-color="#24878e"/><stop offset="0.5938" stop-color="#22a884"/><stop offset="0.6562" stop-color="#2fb47c"/><stop offset="0.7188" stop-color="#2ab07f"/><stop offset="0.7812" stop-color="#1e9c89"/><stop offset="0.8438" stop-color="#1e9c89"/><stop offset="0.9062" stop-color="#1e9c89"/><stop offset="0.9688" stop-color="#1e9c89"/></linearGradient>
<rect x="324.3" y="71.24" width="171.3" height="2.58" fill="url(#gb3)"/>
<linearGradient id="gb4" gradientUnits="userSpaceOnUse" x1="330.3" x2="489.6" y1="0" y2="0"><stop offset="0.0312" stop-color="#46307e"/><stop offset="0.0938" stop-color="#3f4889"/><stop offset="0.1562" stop-color="#3a548c"/><stop offset="0.2188" stop-color="#433e85"/><stop offset="0.2812" stop-color="#287c8e"/><stop offset="0.3438" stop-color="#24868e"/><stop offset="0.4062" stop-color="#24868e"/><stop offset="0.4688" stop-color="#20928c"/><stop offset="0.5312" stop-color="#20928c"/><stop offset="0.5938" stop-color="#1f948c"/><stop offset="0.6562" stop-color="#228d8d"/><stop offset="0.7188" stop-color="#22a785"/><stop offset="0.7812" stop-color="#1e9c89"/><stop offset="0.8438" stop-color="#1e9c89"/><stop offset="0.9062" stop-color="#1e9c89"/><stop offset="0.9688" stop-color="#1e9c89"/></linearGradient>
<rect x="324.3" y="73.42" width="171.3" height="2.58" fill="url(#gb4)"/>
<linearGradient id="gb5" gradientUnits="userSpaceOnUse" x1="330.3" x2="489.6" y1="0" y2="0"><stop offset="0.0312" stop-color="#433d84"/><stop offset="0.0938" stop-color="#355f8d"/><stop offset="0.1562" stop-color="#34608d"/><stop offset="0.2188" stop-color="#433e85"/><stop offset="0.2812" stop-color="#1f998a"/><stop offset="0.3438" stop-color="#1f9a8a"/><stop offset="0.4062" stop-color="#1f9a8a"/><stop offset="0.4688" stop-color="#1e9b8a"/><stop offset="0.5312" stop-color="#1e9b8a"/><stop offset="0.5938" stop-color="#26818e"/><stop offset="0.6562" stop-color="#32658e"/><stop offset="0.7188" stop-color="#1e9d89"/><stop offset="0.7812" stop-color="#1e9c89"/><stop offset="0.8438" stop-color="#1e9c89"/><stop offset="0.9062" stop-color="#1e9c89"/><stop offset="0.9688" stop-color="#1e9c89"/></linearGradient>
<rect x="324.3" y="75.61" width="171.3" height="2.58" fill="url(#gb5)"/>
<linearGradient id="gb6" gradientUnits="userSpaceOnUse" x1="330.3" x2="489.6" y1="0" y2="0"><stop offset="0.0312" stop-color="#433e85"/><stop offset="0.0938" stop-color="#39568c"/><stop offset="0.1562" stop-color="#3d4d8a"/><stop offset="0.2188" stop-color="#46337f"/><stop offset="0.2812" stop-color="#1e9c89"/><stop offset="0.3438" stop-color="#1e9c89"/><stop offset="0.4062" stop-color="#1e9c89"/><stop offset="0.4688" stop-color="#1e9c89"/><stop offset="0.5312" stop-color="#1e9c89"/><stop offset="0.5938" stop-color="#24878e"/><stop offset="0.6562" stop-color="#2c738e"/><stop offset="0.7188" stop-color="#1e9c89"/><stop offset="0.7812" stop-color="#20938c"/><stop offset="0.8438" stop-color="#29798e"/><stop offset="0.9062" stop-color="#238a8d"/><stop offset="0.9688" stop-color="#1e9c89"/></linearGradient>
<rect x="324.3" y="77.79" width="171.3" height="2.58" fill="url(#gb6)"/>
<linearGradient id="gb7" gradientUnits="userSpaceOnUse" x1="330.3" x2="489.6" y1="0" y2="0"><stop offset="0.0312" stop-color="#433e85"/><stop offset="0.0938" stop-color="#3e4c8a"/><stop offset="0.1562" stop-color="#463480"/><stop offset="0.2188" stop-color="#482677"/><stop offset="0.2812" stop-color="#1e9c89"/><stop offset="0.3438" stop-color="#1e9c89"/><stop offset="0.4062" stop-color="#1e9c89"/><stop offset="0.4688" stop-color="#1e9c89"/><stop offset="0.5312" stop-color="#1e9c89"/><stop offset="0.5938" stop-color="#20928c"/><stop offset="0.6562" stop-color="#24878e"/><stop offset="0.7188" stop-color="#1e9c89"/><stop offset="0.7812" stop-color="#23898e"/><stop offset="0.8438" stop-color="#3c4f8a"/><stop offset="0.9062" stop-color="#2a768e"/><stop offset="0.9688" stop-color="#1e9c89"/></linearGradient>
<rect x="324.3" y="79.97" width="171.3" height="2.58" fill="url(#gb7)"/>
<linearGradient id="gb8" gradientUnits="userSpaceOnUse" x1="330.3" x2="489.6" y1="0" y2="0"><stop offset="0.0312" stop-color="#433e85"/><stop offset="0.0938" stop-color="#423f85"/><stop offset="0.1562" stop-color="#481a6c"/><stop offset="0.2188" stop-color="#48186a"/><stop offset="0.2812" stop-color="#1e9c89"/><stop offset="0.3438" stop-color="#1e9c89"/><stop offset="0.4062" stop-color="#1e9c89"/><stop offset="0.4688" stop-color="#1e9c89"/><stop offset="0.5312" stop-color="#1e9c89"/><stop offset="0.5938" stop-color="#1e9b8a"/><stop offset="0.6562" stop-color="#1e9b8a"/><stop offset="0.7188" stop-color="#1e9c89"/><stop offset="0.7812" stop-color="#27808e"/><stop offset="0.8438" stop-color="#481c6e"/><stop offset="0.9062" stop-color="#33638d"/><stop offset="0.9688" stop-color="#1e9c89"/></linearGradient>
<rect x="324.3" y="82.16" width="171.3" height="2.58" fill="url(#gb8)"/>
<linearGradient id="gb9" gradientUnits="userSpaceOnUse" x1="330.3" x2="489.6" y1="0" y2="0"><stop offset="0.0312" stop-color="#3a548c"/><stop offset="0.0938" stop-color="#3e4989"/><stop offset="0.1562" stop-color="#443b84"/><stop offset="0.2188" stop-color="#404688"/><stop offset="0.2812" stop-color="#1e9c89"/><stop offset="0.3438" stop-color="#21a585"/><stop offset="0.4062" stop-color="#21a585"/><stop offset="0.4688" stop-color="#21a585"/><stop offset="0.5312" stop-color="#21a585"/><stop offset="0.5938" stop-color="#27ad81"/><stop offset="0.6562" stop-color="#34b679"/><stop offset="0.7188" stop-color="#27ad81"/><stop offset="0.7812" stop-color="#21918c"/><stop offset="0.8438" stop-color="#3b518b"/><stop offset="0.9062" stop-color="#287c8e"/><stop offset="0.9688" stop-color="#1e9c89"/></linearGradient>
<rect x="324.3" y="84.34" width="171.3" height="2.58" fill="url(#gb9)"/>
<linearGradient id="gb10" gradientUnits="userSpaceOnUse" x1="330.3" x2="489.6" y1="0" y2="0"><stop offset="0.0312" stop-color="#306a8e"/><stop offset="0.0938" stop-color="#3a548c"/><stop offset="0.1562" stop-color="#355e8d"/><stop offset="0.2188" stop-color="#2c718e"/><stop offset="0.2812" stop-color="#1e9c89"/><stop offset="0.3438" stop-color="#28ae80"/><stop offset="0.4062" stop-color="#28ae80"/><stop offset="0.4688" stop-color="#28ae80"/><stop offset="0.5312" stop-color="#28ae80"/><stop offset="0.5938" stop-color="#46c06f"/><stop offset="0.6562" stop-color="#70cf57"/><stop offset="0.7188" stop-color="#46c06f"/><stop offset="0.7812" stop-color="#20a486"/><stop offset="0.8438" stop-color="#25848e"/><stop offset="0.9062" stop-color="#1f9a8a"/><stop offset="0.9688" stop-color="#1e9c89"/></linearGradient>
<rect x="324.3" y="86.53" width="171.3" height="2.58" fill="url(#gb10)"/>
<linearGradient id="gb11" gradientUnits="userSpaceOnUse" x1="330.3" x2="489.6" y1="0" y2="0"><stop offset="0.0312" stop-color="#287d8e"/><stop offset="0.0938" stop-color="#34608d"/><stop offset="0.1562" stop-color="#287d8e"/><stop offset="0.2188" stop-color="#1f998a"/><stop offset="0.2812" stop-color="#1e9c89"/><stop offset="0.3438" stop-color="#37b878"/><stop offset="0.4062" stop-color="#37b878"/><stop offset="0.4688" stop-color="#37b878"/><stop offset="0.5312" stop-color="#37b878"/><stop offset="0.5938" stop-color="#73d056"/><stop offset="0.6562" stop-color="#c2df23"/><stop offset="0.7188" stop-color="#73d056"/><stop offset="0.7812" stop-color="#35b779"/><stop offset="0.8438" stop-color="#32b67a"/><stop offset="0.9062" stop-color="#34b679"/><stop offset="0.9688" stop-color="#1e9c89"/></linearGradient>
<rect x="324.3" y="88.71" width="171.3" height="2.58" fill="url(#gb11)"/>
<linearGradient id="gb12" gradientUnits="userSpaceOnUse" x1="330.3" x2="489.6" y1="0" y2="0"><stop offset="0.0312" stop-color="#2e6d8e"/><stop offset="0.0938" stop-color="#39568c"/><stop offset="0.1562" stop-color="#2e6d8e"/><stop offset="0.2188" stop-color="#238a8d"/><stop offset="0.2812" stop-color="#20938c"/><stop offset="0.3438" stop-color="#2ab07f"/><stop offset="0.4062" stop-color="#2ab07f"/><stop offset="0.4688" stop-color="#2ab07f"/><stop offset="0.5312" stop-color="#2ab07f"/><stop offset="0.5938" stop-color="#4cc26c"/><stop offset="0.6562" stop-color="#95d840"/><stop offset="0.7188" stop-color="#60ca60"/><stop offset="0.7812" stop-color="#38b977"/><stop offset="0.8438" stop-color="#2ab07f"/><stop offset="0.9062" stop-color="#22a785"/><stop offset="0.9688" stop-color="#238a8d"/></linearGradient>
<rect x="324.3" y="90.90" width="171.3" height="2.58" fill="url(#gb12)"/>
<linearGradient id="gb13" gradientUnits="userSpaceOnUse" x1="330.3" x2="489.6" y1="0" y2="0"><stop offset="0.0312" stop-color="#38588c"/><stop offset="0.0938" stop-color="#3e4c8a"/><stop offset="0.1562" stop-color="#38588c"/><stop offset="0.2188" stop-color="#2a768e"/><stop offset="0.2812" stop-color="#23898e"/><stop offset="0.3438" stop-color="#21a685"/><stop offset="0.4062" stop-color="#21a685"/><stop offset="0.4688" stop-color="#21a685"/><stop offset="0.5312" stop-color="#21a685"/><stop offset="0.5938" stop-color="#2ab07f"/><stop offset="0.6562" stop-color="#63cb5f"/><stop offset="0.7188" stop-color="#4cc26c"/><stop offset="0.7812" stop-color="#38b977"/><stop offset="0.8438" stop-color="#21a685"/><stop offset="0.9062" stop-color="#20938c"/><stop offset="0.9688" stop-color="#2a768e"/></linearGradient>
<rect x="324.3" y="93.08" width="171.3" height="2.58" fill="url(#gb13)"/>
<linearGradient id="gb14" gradientUnits="userSpaceOnUse" x1="330.3" x2="489.6" y1="0" y2="0"><stop offset="0.0312" stop-color="#424086"/><stop offset="0.0938" stop-color="#423f85"/><stop offset="0.1562" stop-color="#424086"/><stop offset="0.2188" stop-color="#33628d"/><stop offset="0.2812" stop-color="#27808e"/><stop offset="0.3438" stop-color="#1e9d89"/><stop offset="0.4062" stop-color="#1e9d89"/><stop offset="0.4688" stop-color="#1e9d89"/><stop offset="0.5312" stop-color="#1e9d89"/><stop offset="0.5938" stop-color="#1f9e89"/><stop offset="0.6562" stop-color="#3aba76"/><stop offset="0.7188" stop-color="#38b977"/><stop offset="0.7812" stop-color="#38b977"/><stop offset="0.8438" stop-color="#1e9d89"/><stop offset="0.9062" stop-color="#27808e"/><stop offset="0.9688" stop-color="#33628d"/></linearGradient>
<rect x="324.3" y="95.27" width="171.3" height="2.58" fill="url(#gb14)"/>
<linearGradient id="gb15" gradientUnits="userSpaceOnUse" x1="330.3" x2="489.6" y1="0" y2="0"><stop offset="0.0312" stop-color="#433e85"/><stop offset="0.0938" stop-color="#433e85"/><stop offset="0.1562" stop-color="#46337f"/><stop offset="0.2188" stop-color="#39568c"/><stop offset="0.2812" stop-color="#2b758e"/><stop offset="0.3438" stop-color="#238a8d"/><stop offset="0.4062" stop-color="#238a8d"/><stop offset="0.4688" stop-color="#26818e"/><stop offset="0.5312" stop-color="#2a778e"/><stop offset="0.5938" stop-color="#238a8d"/><stop offset="0.6562" stop-color="#22a785"/><stop offset="0.7188" stop-color="#22a785"/><stop offset="0.7812" stop-color="#22a785"/><stop offset="0.8438" stop-color="#20928c"/><stop offset="0.9062" stop-color="#2f6c8e"/><stop offset="0.9688" stop-color="#3e4c8a"/></linearGradient>
<rect x="324.3" y="97.45" width="171.3" height="2.58" fill="url(#gb15)"/>
<linearGradient id="gb16" gradientUnits="userSpaceOnUse" x1="330.3" x2="489.6" y1="0" y2="0"><stop offset="0.0312" stop-color="#433e85"/><stop offset="0.0938" stop-color="#433e85"/><stop offset="0.1562" stop-color="#482576"/><stop offset="0.2188" stop-color="#3e4a89"/><stop offset="0.2812" stop-color="#2f6c8e"/><stop offset="0.3438" stop-color="#2a768e"/><stop offset="0.4062" stop-color="#2a768e"/><stop offset="0.4688" stop-color="#33628d"/><stop offset="0.5312" stop-color="#3d4d8a"/><stop offset="0.5938" stop-color="#2a768e"/><stop offset="0.6562" stop-color="#20938c"/><stop offset="0.7188" stop-color="#20938c"/><stop offset="0.7812" stop-color="#20938c"/><stop offset="0.8438" stop-color="#23898e"/><stop offset="0.9062" stop-color="#39568c"/><stop offset="0.9688" stop-color="#46337f"/></linearGradient>
<rect x="324.3" y="99.64" width="171.3" height="2.58" fill="url(#gb16)"/>
<linearGradient id="gb17" gradientUnits="userSpaceOnUse" x1="330.3" x2="489.6" y1="0" y2="0"><stop offset="0.0312" stop-color="#433e85"/><stop offset="0.0938" stop-color="#433e85"/><stop offset="0.1562" stop-color="#48186a"/><stop offset="0.2188" stop-color="#423f85"/><stop offset="0.2812" stop-color="#34618d"/><stop offset="0.3438" stop-color="#33628d"/><stop offset="0.4062" stop-color="#33628d"/><stop offset="0.4688" stop-color="#424086"/><stop offset="0.5312" stop-color="#481a6c"/><stop offset="0.5938" stop-color="#33628d"/><stop offset="0.6562" stop-color="#27808e"/><stop offset="0.7188" stop-color="#27808e"/><stop offset="0.7812" stop-color="#27808e"/><stop offset="0.8438" stop-color="#277f8e"/><stop offset="0.9062" stop-color="#423f85"/><stop offset="0.9688" stop-color="#48186a"/></linearGradient>
<rect x="324.3" y="101.82" width="171.3" height="2.58" fill="url(#gb17)"/>
<linearGradient id="gb18" gradientUnits="userSpaceOnUse" x1="330.3" x2="489.6" y1="0" y2="0"><stop offset="0.0312" stop-color="#433e85"/><stop offset="0.0938" stop-color="#46327e"/><stop offset="0.1562" stop-color="#481769"/><stop offset="0.2188" stop-color="#433e85"/><stop offset="0.2812" stop-color="#34618d"/><stop offset="0.3438" stop-color="#34618d"/><stop offset="0.4062" stop-color="#34618d"/><stop offset="0.4688" stop-color="#3e4989"/><stop offset="0.5312" stop-color="#433d84"/><stop offset="0.5938" stop-color="#39568c"/><stop offset="0.6562" stop-color="#33628d"/><stop offset="0.7188" stop-color="#33628d"/><stop offset="0.7812" stop-color="#2f6c8e"/><stop offset="0.8438" stop-color="#2b758e"/><stop offset="0.9062" stop-color="#3a548c"/><stop offset="0.9688" stop-color="#482475"/></linearGradient>
<rect x="324.3" y="104.00" width="171.3" height="2.58" fill="url(#gb18)"/>
<linearGradient id="gb19" gradientUnits="userSpaceOnUse" x1="330.3" x2="489.6" y1="0" y2="0"><stop offset="0.0312" stop-color="#433e85"/><stop offset="0.0938" stop-color="#482576"/><stop offset="0.1562" stop-color="#481769"/><stop offset="0.2188" stop-color="#433e85"/><stop offset="0.2812" stop-color="#34618d"/><stop offset="0.3438" stop-color="#34618d"/><stop offset="0.4062" stop-color="#34618d"/><stop offset="0.4688" stop-color="#39558c"/><stop offset="0.5312" stop-color="#34608d"/><stop offset="0.5938" stop-color="#3e4a89"/><stop offset="0.6562" stop-color="#424086"/><stop offset="0.7188" stop-color="#424086"/><stop offset="0.7812" stop-color="#39568c"/><stop offset="0.8438" stop-color="#2f6c8e"/><stop offset="0.9062" stop-color="#306a8e"/><stop offset="0.9688" stop-color="#46327e"/></linearGradient>
<rect x="324.3" y="106.19" width="171.3" height="2.58" fill="url(#gb19)"/>
<linearGradient id="gb20" gradientUnits="userSpaceOnUse" x1="330.3" x2="489.6" y1="0" y2="0"><stop offset="0.0312" stop-color="#433e85"/><stop offset="0.0938" stop-color="#481769"/><stop offset="0.1562" stop-color="#481769"/><stop offset="0.2188" stop-color="#433e85"/><stop offset="0.2812" stop-color="#34618d"/><stop offset="0.3438" stop-color="#34618d"/><stop offset="0.4062" stop-color="#34618d"/><stop offset="0.4688" stop-color="#34608d"/><stop offset="0.5312" stop-color="#277e8e"/><stop offset="0.5938" stop-color="#423f85"/><stop offset="0.6562" stop-color="#48186a"/><stop offset="0.7188" stop-color="#48186a"/><stop offset="0.7812" stop-color="#423f85"/><stop offset="0.8438" stop-color="#34618d"/><stop offset="0.9062" stop-color="#277e8e"/><stop offset="0.9688" stop-color="#433e85"/></linearGradient>
<rect x="324.3" y="108.37" width="171.3" height="2.58" fill="url(#gb20)"/>
<linearGradient id="gb21" gradientUnits="userSpaceOnUse" x1="330.3" x2="489.6" y1="0" y2="0"><stop offset="0.0312" stop-color="#3e4a89"/><stop offset="0.0938" stop-color="#46307e"/><stop offset="0.1562" stop-color="#46307e"/><stop offset="0.2188" stop-color="#3e4a89"/><stop offset="0.2812" stop-color="#34618d"/><stop offset="0.3438" stop-color="#3e4a89"/><stop offset="0.4062" stop-color="#39568c"/><stop offset="0.4688" stop-color="#34618d"/><stop offset="0.5312" stop-color="#277f8e"/><stop offset="0.5938" stop-color="#39558c"/><stop offset="0.6562" stop-color="#433e85"/><stop offset="0.7188" stop-color="#433e85"/><stop offset="0.7812" stop-color="#3e4a89"/><stop offset="0.8438" stop-color="#2f6b8e"/><stop offset="0.9062" stop-color="#277f8e"/><stop offset="0.9688" stop-color="#39558c"/></linearGradient>
<rect x="324.3" y="110.56" width="171.3" height="2.58" fill="url(#gb21)"/>
<linearGradient id="gb22" gradientUnits="userSpaceOnUse" x1="330.3" x2="489.6" y1="0" y2="0"><stop offset="0.0312" stop-color="#39558c"/><stop offset="0.0938" stop-color="#3e4989"/><stop offset="0.1562" stop-color="#3e4989"/><stop offset="0.2188" stop-color="#39558c"/><stop offset="0.2812" stop-color="#34618d"/><stop offset="0.3438" stop-color="#46337f"/><stop offset="0.4062" stop-color="#3e4a89"/><stop offset="0.4688" stop-color="#34618d"/><stop offset="0.5312" stop-color="#277f8e"/><stop offset="0.5938" stop-color="#2f6b8e"/><stop offset="0.6562" stop-color="#34608d"/><stop offset="0.7188" stop-color="#34608d"/><stop offset="0.7812" stop-color="#39558c"/><stop offset="0.8438" stop-color="#2b748e"/><stop offset="0.9062" stop-color="#277f8e"/><stop offset="0.9688" stop-color="#2f6b8e"/></linearGradient>
<rect x="324.3" y="112.74" width="171.3" height="2.58" fill="url(#gb22)"/>
<linearGradient id="gb23" gradientUnits="userSpaceOnUse" x1="330.3" x2="489.6" y1="0" y2="0"><stop offset="0.0312" stop-color="#34618d"/><stop offset="0.0938" stop-color="#34608d"/><stop offset="0.1562" stop-color="#34608d"/><stop offset="0.2188" stop-color="#34618d"/><stop offset="0.2812" stop-color="#34618d"/><stop offset="0.3438" stop-color="#48186a"/><stop offset="0.4062" stop-color="#423f85"/><stop offset="0.4688" stop-color="#34618d"/><stop offset="0.5312" stop-color="#277f8e"/><stop offset="0.5938" stop-color="#277f8e"/><stop offset="0.6562" stop-color="#277e8e"/><stop offset="0.7188" stop-color="#277e8e"/><stop offset="0.7812" stop-color="#34618d"/><stop offset="0.8438" stop-color="#277f8e"/><stop offset="0.9062" stop-color="#277f8e"/><stop offset="0.9688" stop-color="#277f8e"/></linearGradient>
<rect x="324.3" y="114.93" width="171.3" height="2.58" fill="url(#gb23)"/>
<linearGradient id="gb24" gradientUnits="userSpaceOnUse" x1="330.3" x2="489.6" y1="0" y2="0"><stop offset="0.0312" stop-color="#34618d"/><stop offset="0.0938" stop-color="#39558c"/><stop offset="0.1562" stop-color="#3e4a89"/><stop offset="0.2188" stop-color="#3e4a89"/><stop offset="0.2812" stop-color="#34618d"/><stop offset="0.3438" stop-color="#433e85"/><stop offset="0.4062" stop-color="#39558c"/><stop offset="0.4688" stop-color="#2b748e"/><stop offset="0.5312" stop-color="#20928c"/><stop offset="0.5938" stop-color="#23888e"/><stop offset="0.6562" stop-color="#23888e"/><stop offset="0.7188" stop-color="#23888e"/><stop offset="0.7812" stop-color="#2b748e"/><stop offset="0.8438" stop-color="#23888e"/><stop offset="0.9062" stop-color="#23888e"/><stop offset="0.9688" stop-color="#23888e"/></linearGradient>
<rect x="324.3" y="117.11" width="171.3" height="2.58" fill="url(#gb24)"/>
<linearGradient id="gb25" gradientUnits="userSpaceOnUse" x1="330.3" x2="489.6" y1="0" y2="0"><stop offset="0.0312" stop-color="#34618d"/><stop offset="0.0938" stop-color="#3e4a89"/><stop offset="0.1562" stop-color="#46327e"/><stop offset="0.2188" stop-color="#46327e"/><stop offset="0.2812" stop-color="#34618d"/><stop offset="0.3438" stop-color="#34608d"/><stop offset="0.4062" stop-color="#2f6b8e"/><stop offset="0.4688" stop-color="#23888e"/><stop offset="0.5312" stop-color="#21a685"/><stop offset="0.5938" stop-color="#20928c"/><stop offset="0.6562" stop-color="#20928c"/><stop offset="0.7188" stop-color="#20928c"/><stop offset="0.7812" stop-color="#23888e"/><stop offset="0.8438" stop-color="#20928c"/><stop offset="0.9062" stop-color="#20928c"/><stop offset="0.9688" stop-color="#20928c"/></linearGradient>
<rect x="324.3" y="119.30" width="171.3" height="2.58" fill="url(#gb25)"/>
<linearGradient id="gb26" gradientUnits="userSpaceOnUse" x1="330.3" x2="489.6" y1="0" y2="0"><stop offset="0.0312" stop-color="#34618d"/><stop offset="0.0938" stop-color="#423f85"/><stop offset="0.1562" stop-color="#481769"/><stop offset="0.2188" stop-color="#481769"/><stop offset="0.2812" stop-color="#34618d"/><stop offset="0.3438" stop-color="#277f8e"/><stop offset="0.4062" stop-color="#277f8e"/><stop offset="0.4688" stop-color="#1e9c89"/><stop offset="0.5312" stop-color="#37b878"/><stop offset="0.5938" stop-color="#1e9c89"/><stop offset="0.6562" stop-color="#1e9c89"/><stop offset="0.7188" stop-color="#1e9c89"/><stop offset="0.7812" stop-color="#1e9c89"/><stop offset="0.8438" stop-color="#1e9c89"/><stop offset="0.9062" stop-color="#1e9c89"/><stop offset="0.9688" stop-color="#1e9c89"/></linearGradient>
<rect x="324.3" y="121.48" width="171.3" height="2.58" fill="url(#gb26)"/>
<linearGradient id="gb27" gradientUnits="userSpaceOnUse" x1="330.3" x2="489.6" y1="0" y2="0"><stop offset="0.0312" stop-color="#297b8e"/><stop offset="0.0938" stop-color="#32648e"/><stop offset="0.1562" stop-color="#3e4a89"/><stop offset="0.2188" stop-color="#3e4a89"/><stop offset="0.2812" stop-color="#297b8e"/><stop offset="0.3438" stop-color="#1f998a"/><stop offset="0.4062" stop-color="#1fa088"/><stop offset="0.4688" stop-color="#32b67a"/><stop offset="0.5312" stop-color="#5ec962"/><stop offset="0.5938" stop-color="#32b67a"/><stop offset="0.6562" stop-color="#29af7f"/><stop offset="0.7188" stop-color="#29af7f"/><stop offset="0.7812" stop-color="#23a983"/><stop offset="0.8438" stop-color="#23a983"/><stop offset="0.9062" stop-color="#1fa287"/><stop offset="0.9688" stop-color="#1fa287"/></linearGradient>
<rect x="324.3" y="123.67" width="171.3" height="2.58" fill="url(#gb27)"/>
<linearGradient id="gb28" gradientUnits="userSpaceOnUse" x1="330.3" x2="489.6" y1="0" y2="0"><stop offset="0.0312" stop-color="#20928c"/><stop offset="0.0938" stop-color="#26828e"/><stop offset="0.1562" stop-color="#2d708e"/><stop offset="0.2188" stop-color="#2d708e"/><stop offset="0.2812" stop-color="#20928c"/><stop offset="0.3438" stop-color="#29af7f"/><stop offset="0.4062" stop-color="#3bbb75"/><stop offset="0.4688" stop-color="#5ec962"/><stop offset="0.5312" stop-color="#8bd646"/><stop offset="0.5938" stop-color="#5ec962"/><stop offset="0.6562" stop-color="#44bf70"/><stop offset="0.7188" stop-color="#44bf70"/><stop offset="0.7812" stop-color="#2fb47c"/><stop offset="0.8438" stop-color="#2fb47c"/><stop offset="0.9062" stop-color="#22a884"/><stop offset="0.9688" stop-color="#22a884"/></linearGradient>
<rect x="324.3" y="125.85" width="171.3" height="2.03" fill="url(#gb28)"/>
<linearGradient id="gb29" gradientUnits="userSpaceOnUse" x1="330.3" x2="489.6" y1="0" y2="0"><stop offset="0.0312" stop-color="#22a785"/><stop offset="0.0938" stop-color="#1f948c"/><stop offset="0.1562" stop-color="#24868e"/><stop offset="0.2188" stop-color="#24868e"/><stop offset="0.2812" stop-color="#1fa088"/><stop offset="0.3438" stop-color="#44bf70"/><stop offset="0.4062" stop-color="#65cb5e"/><stop offset="0.4688" stop-color="#8bd646"/><stop offset="0.5312" stop-color="#a8db34"/><stop offset="0.5938" stop-color="#8bd646"/><stop offset="0.6562" stop-color="#65cb5e"/><stop offset="0.7188" stop-color="#5cc863"/><stop offset="0.7812" stop-color="#44bf70"/><stop offset="0.8438" stop-color="#3fbc73"/><stop offset="0.9062" stop-color="#28ae80"/><stop offset="0.9688" stop-color="#28ae80"/></linearGradient>
<rect x="324.3" y="127.48" width="171.3" height="2.03" fill="url(#gb29)"/>
<linearGradient id="gb30" gradientUnits="userSpaceOnUse" x1="330.3" x2="489.6" y1="0" y2="0"><stop offset="0.0312" stop-color="#3fbc73"/><stop offset="0.0938" stop-color="#20a386"/><stop offset="0.1562" stop-color="#1f948c"/><stop offset="0.2188" stop-color="#1f948c"/><stop offset="0.2812" stop-color="#22a785"/><stop offset="0.3438" stop-color="#65cb5e"/><stop offset="0.4062" stop-color="#8bd646"/><stop offset="0.4688" stop-color="#b2dd2d"/><stop offset="0.5312" stop-color="#bddf26"/><stop offset="0.5938" stop-color="#b2dd2d"/><stop offset="0.6562" stop-color="#8bd646"/><stop offset="0.7188" stop-color="#6ece58"/><stop offset="0.7812" stop-color="#65cb5e"/><stop offset="0.8438" stop-color="#4cc26c"/><stop offset="0.9062" stop-color="#32b67a"/><stop offset="0.9688" stop-color="#32b67a"/></linearGradient>
<rect x="324.3" y="129.11" width="171.3" height="2.03" fill="url(#gb30)"/>
<linearGradient id="gb31" gradientUnits="userSpaceOnUse" x1="330.3" x2="489.6" y1="0" y2="0"><stop offset="0.0312" stop-color="#81d34d"/><stop offset="0.0938" stop-color="#4cc26c"/><stop offset="0.1562" stop-color="#32b67a"/><stop offset="0.2188" stop-color="#2db27d"/><stop offset="0.2812" stop-color="#38b977"/><stop offset="0.3438" stop-color="#8bd646"/><stop offset="0.4062" stop-color="#b2dd2d"/><stop offset="0.4688" stop-color="#d2e21b"/><stop offset="0.5312" stop-color="#a8db34"/><stop offset="0.5938" stop-color="#bddf26"/><stop offset="0.6562" stop-color="#a8db34"/><stop offset="0.7188" stop-color="#95d840"/><stop offset="0.7812" stop-color="#8bd646"/><stop offset="0.8438" stop-color="#65cb5e"/><stop offset="0.9062" stop-color="#2db27d"/><stop offset="0.9688" stop-color="#32b67a"/></linearGradient>
<rect x="324.3" y="130.74" width="171.3" height="2.03" fill="url(#gb31)"/>
<linearGradient id="gb32" gradientUnits="userSpaceOnUse" x1="330.3" x2="489.6" y1="0" y2="0"><stop offset="0.0312" stop-color="#e7e419"/><stop offset="0.0938" stop-color="#d2e21b"/><stop offset="0.1562" stop-color="#a8db34"/><stop offset="0.2188" stop-color="#8bd646"/><stop offset="0.2812" stop-color="#77d153"/><stop offset="0.3438" stop-color="#b2dd2d"/><stop offset="0.4062" stop-color="#dde318"/><stop offset="0.4688" stop-color="#e7e419"/><stop offset="0.5312" stop-color="#6ece58"/><stop offset="0.5938" stop-color="#a8db34"/><stop offset="0.6562" stop-color="#bddf26"/><stop offset="0.7188" stop-color="#d2e21b"/><stop offset="0.7812" stop-color="#b2dd2d"/><stop offset="0.8438" stop-color="#8bd646"/><stop offset="0.9062" stop-color="#20a386"/><stop offset="0.9688" stop-color="#28ae80"/></linearGradient>
<rect x="324.3" y="132.38" width="171.3" height="2.03" fill="url(#gb32)"/>
<linearGradient id="gb33" gradientUnits="userSpaceOnUse" x1="330.3" x2="489.6" y1="0" y2="0"><stop offset="0.0312" stop-color="#fde725"/><stop offset="0.0938" stop-color="#fde725"/><stop offset="0.1562" stop-color="#f1e51d"/><stop offset="0.2188" stop-color="#d2e21b"/><stop offset="0.2812" stop-color="#b2dd2d"/><stop offset="0.3438" stop-color="#d2e21b"/><stop offset="0.4062" stop-color="#f1e51d"/><stop offset="0.4688" stop-color="#e7e419"/><stop offset="0.5312" stop-color="#5cc863"/><stop offset="0.5938" stop-color="#a8db34"/><stop offset="0.6562" stop-color="#d2e21b"/><stop offset="0.7188" stop-color="#fbe723"/><stop offset="0.7812" stop-color="#d2e21b"/><stop offset="0.8438" stop-color="#a8db34"/><stop offset="0.9062" stop-color="#238a8d"/><stop offset="0.9688" stop-color="#1f948c"/></linearGradient>
<rect x="324.3" y="134.01" width="171.3" height="2.03" fill="url(#gb33)"/>
<linearGradient id="gb34" gradientUnits="userSpaceOnUse" x1="330.3" x2="489.6" y1="0" y2="0"><stop offset="0.0312" stop-color="#fde725"/><stop offset="0.0938" stop-color="#fde725"/><stop offset="0.1562" stop-color="#f1e51d"/><stop offset="0.2188" stop-color="#e7e419"/><stop offset="0.2812" stop-color="#dde318"/><stop offset="0.3438" stop-color="#e7e419"/><stop offset="0.4062" stop-color="#f1e51d"/><stop offset="0.4688" stop-color="#d2e21b"/><stop offset="0.5312" stop-color="#6ece58"/><stop offset="0.5938" stop-color="#bddf26"/><stop offset="0.6562" stop-color="#e7e419"/><stop offset="0.7188" stop-color="#fde725"/><stop offset="0.7812" stop-color="#e7e419"/><stop offset="0.8438" stop-color="#bddf26"/><stop offset="0.9062" stop-color="#32658e"/><stop offset="0.9688" stop-color="#30698e"/></linearGradient>
<rect x="324.3" y="135.64" width="171.3" height="2.03" fill="url(#gb34)"/>
<linearGradient id="gb35" gradientUnits="userSpaceOnUse" x1="330.3" x2="489.6" y1="0" y2="0"><stop offset="0.0312" stop-color="#fde725"/><stop offset="0.0938" stop-color="#fde725"/><stop offset="0.1562" stop-color="#f1e51d"/><stop offset="0.2188" stop-color="#f1e51d"/><stop offset="0.2812" stop-color="#f1e51d"/><stop offset="0.3438" stop-color="#f1e51d"/><stop offset="0.4062" stop-color="#f1e51d"/><stop offset="0.4688" stop-color="#c8e020"/><stop offset="0.5312" stop-color="#77d153"/><stop offset="0.5938" stop-color="#c8e020"/><stop offset="0.6562" stop-color="#f1e51d"/><stop offset="0.7188" stop-color="#fde725"/><stop offset="0.7812" stop-color="#f1e51d"/><stop offset="0.8438" stop-color="#c8e020"/><stop offset="0.9062" stop-color="#3c508b"/><stop offset="0.9688" stop-color="#3c508b"/></linearGradient>
<rect x="324.3" y="137.27" width="171.3" height="8.03" fill="url(#gb35)"/>
<clipPath id="cub"><rect x="322.3" y="0.40000000000000036" width="175.3" height="70.28"/></clipPath>
<g clip-path="url(#cub)">
<linearGradient id="ub0" gradientUnits="userSpaceOnUse" x1="330.3" x2="489.6" y1="0" y2="0"><stop offset="0.0312" stop-color="#481769"/><stop offset="0.0938" stop-color="#472c7a"/><stop offset="0.1562" stop-color="#433e85"/><stop offset="0.2188" stop-color="#3c508b"/><stop offset="0.2812" stop-color="#3c508b"/><stop offset="0.3438" stop-color="#472c7a"/><stop offset="0.4062" stop-color="#433e85"/><stop offset="0.4688" stop-color="#34618d"/><stop offset="0.5312" stop-color="#38b977"/><stop offset="0.5938" stop-color="#38b977"/><stop offset="0.6562" stop-color="#1e9c89"/><stop offset="0.7188" stop-color="#277f8e"/><stop offset="0.7812" stop-color="#2d708e"/><stop offset="0.8438" stop-color="#2d708e"/><stop offset="0.9062" stop-color="#2d708e"/><stop offset="0.9688" stop-color="#277f8e"/></linearGradient>
<path d="M324.3 70.7 L330.2 70.7 L336.1 68.5 L342.0 66.2 L347.9 63.8 L353.8 61.2 L359.7 58.5 L365.6 55.7 L371.6 52.8 L377.5 49.7 L383.4 46.6 L389.3 43.3 L395.2 40.0 L401.1 36.5 L407.0 33.0 L412.9 29.4 L418.8 25.7 L424.7 22.0 L430.6 18.1 L436.5 14.2 L442.4 10.3 L448.3 6.3 L454.3 2.3 L460.2 -1.8 L466.1 -6.0 L472.0 -10.1 L477.9 -14.3 L483.8 -18.6 L489.7 -22.7 L495.6 -22.7 L495.6 72.7 L324.3 72.7Z" fill="url(#ub0)"/>
<linearGradient id="ub1" gradientUnits="userSpaceOnUse" x1="330.3" x2="489.6" y1="0" y2="0"><stop offset="0.0312" stop-color="#481769"/><stop offset="0.0938" stop-color="#472c7a"/><stop offset="0.1562" stop-color="#433e85"/><stop offset="0.2188" stop-color="#3c508b"/><stop offset="0.2812" stop-color="#38598c"/><stop offset="0.3438" stop-color="#472c7a"/><stop offset="0.4062" stop-color="#3f4788"/><stop offset="0.4688" stop-color="#30698e"/><stop offset="0.5312" stop-color="#32b67a"/><stop offset="0.5938" stop-color="#3fbc73"/><stop offset="0.6562" stop-color="#22a785"/><stop offset="0.7188" stop-color="#26828e"/><stop offset="0.7812" stop-color="#2d708e"/><stop offset="0.8438" stop-color="#2c738e"/><stop offset="0.9062" stop-color="#2f6c8e"/><stop offset="0.9688" stop-color="#2d708e"/></linearGradient>
<path d="M324.3 70.7 L330.2 70.7 L336.1 69.3 L342.0 67.8 L347.9 66.3 L353.8 64.7 L359.7 63.0 L365.6 61.2 L371.6 59.3 L377.5 57.4 L383.4 55.4 L389.3 53.4 L395.2 51.2 L401.1 49.1 L407.0 46.8 L412.9 44.5 L418.8 42.2 L424.7 39.8 L430.6 37.4 L436.5 34.9 L442.4 32.4 L448.3 29.9 L454.3 27.3 L460.2 24.8 L466.1 22.1 L472.0 19.5 L477.9 16.8 L483.8 14.2 L489.7 11.5 L495.6 11.5 L495.6 72.7 L324.3 72.7Z" fill="url(#ub1)"/>
<linearGradient id="ub2" gradientUnits="userSpaceOnUse" x1="330.3" x2="489.6" y1="0" y2="0"><stop offset="0.0312" stop-color="#481769"/><stop offset="0.0938" stop-color="#472c7a"/><stop offset="0.1562" stop-color="#433e85"/><stop offset="0.2188" stop-color="#3c508b"/><stop offset="0.2812" stop-color="#30698e"/><stop offset="0.3438" stop-color="#472c7a"/><stop offset="0.4062" stop-color="#38598c"/><stop offset="0.4688" stop-color="#2a778e"/><stop offset="0.5312" stop-color="#28ae80"/><stop offset="0.5938" stop-color="#4cc26c"/><stop offset="0.6562" stop-color="#3fbc73"/><stop offset="0.7188" stop-color="#238a8d"/><stop offset="0.7812" stop-color="#2d708e"/><stop offset="0.8438" stop-color="#297b8e"/><stop offset="0.9062" stop-color="#32658e"/><stop offset="0.9688" stop-color="#3c508b"/></linearGradient>
<path d="M324.3 70.7 L330.2 70.7 L336.1 69.4 L342.0 68.0 L347.9 66.5 L353.8 65.0 L359.7 63.4 L365.6 61.7 L371.6 59.9 L377.5 58.1 L383.4 56.2 L389.3 54.3 L395.2 52.3 L401.1 50.2 L407.0 48.1 L412.9 45.9 L418.8 43.7 L424.7 41.4 L430.6 39.2 L436.5 36.8 L442.4 34.5 L448.3 32.1 L454.3 29.6 L460.2 27.2 L466.1 24.7 L472.0 22.2 L477.9 19.7 L483.8 17.1 L489.7 14.6 L495.6 14.6 L495.6 72.7 L324.3 72.7Z" fill="url(#ub2)"/>
<linearGradient id="ub3" gradientUnits="userSpaceOnUse" x1="330.3" x2="489.6" y1="0" y2="0"><stop offset="0.0312" stop-color="#481769"/><stop offset="0.0938" stop-color="#472c7a"/><stop offset="0.1562" stop-color="#433e85"/><stop offset="0.2188" stop-color="#3c508b"/><stop offset="0.2812" stop-color="#2d708e"/><stop offset="0.3438" stop-color="#472c7a"/><stop offset="0.4062" stop-color="#34618d"/><stop offset="0.4688" stop-color="#26828e"/><stop offset="0.5312" stop-color="#22a785"/><stop offset="0.5938" stop-color="#5cc863"/><stop offset="0.6562" stop-color="#77d153"/><stop offset="0.7188" stop-color="#1f948c"/><stop offset="0.7812" stop-color="#2a778e"/><stop offset="0.8438" stop-color="#26828e"/><stop offset="0.9062" stop-color="#30698e"/><stop offset="0.9688" stop-color="#3f4788"/></linearGradient>
<path d="M324.3 70.7 L330.2 70.7 L336.1 69.5 L342.0 68.1 L347.9 66.8 L353.8 65.3 L359.7 63.8 L365.6 62.2 L371.6 60.5 L377.5 58.8 L383.4 57.0 L389.3 55.2 L395.2 53.3 L401.1 51.3 L407.0 49.3 L412.9 47.3 L418.8 45.2 L424.7 43.1 L430.6 40.9 L436.5 38.7 L442.4 36.5 L448.3 34.2 L454.3 31.9 L460.2 29.6 L466.1 27.3 L472.0 24.9 L477.9 22.5 L483.8 20.1 L489.7 17.7 L495.6 17.7 L495.6 72.7 L324.3 72.7Z" fill="url(#ub3)"/>
<linearGradient id="ub4" gradientUnits="userSpaceOnUse" x1="330.3" x2="489.6" y1="0" y2="0"><stop offset="0.0312" stop-color="#481769"/><stop offset="0.0938" stop-color="#472c7a"/><stop offset="0.1562" stop-color="#433e85"/><stop offset="0.2188" stop-color="#3c508b"/><stop offset="0.2812" stop-color="#2d708e"/><stop offset="0.3438" stop-color="#472c7a"/><stop offset="0.4062" stop-color="#34618d"/><stop offset="0.4688" stop-color="#238a8d"/><stop offset="0.5312" stop-color="#1fa088"/><stop offset="0.5938" stop-color="#6ece58"/><stop offset="0.6562" stop-color="#c8e020"/><stop offset="0.7188" stop-color="#20a386"/><stop offset="0.7812" stop-color="#24868e"/><stop offset="0.8438" stop-color="#238a8d"/><stop offset="0.9062" stop-color="#2a778e"/><stop offset="0.9688" stop-color="#38598c"/></linearGradient>
<path d="M324.3 70.7 L330.2 70.7 L336.1 69.5 L342.0 68.3 L347.9 67.0 L353.8 65.6 L359.7 64.2 L365.6 62.7 L371.6 61.1 L377.5 59.5 L383.4 57.8 L389.3 56.1 L395.2 54.3 L401.1 52.5 L407.0 50.6 L412.9 48.7 L418.8 46.7 L424.7 44.7 L430.6 42.7 L436.5 40.6 L442.4 38.5 L448.3 36.3 L454.3 34.2 L460.2 32.0 L466.1 29.8 L472.0 27.6 L477.9 25.3 L483.8 23.1 L489.7 20.9 L495.6 20.9 L495.6 72.7 L324.3 72.7Z" fill="url(#ub4)"/>
<linearGradient id="ub5" gradientUnits="userSpaceOnUse" x1="330.3" x2="489.6" y1="0" y2="0"><stop offset="0.0312" stop-color="#481769"/><stop offset="0.0938" stop-color="#472c7a"/><stop offset="0.1562" stop-color="#433e85"/><stop offset="0.2188" stop-color="#3a548c"/><stop offset="0.2812" stop-color="#30698e"/><stop offset="0.3438" stop-color="#482677"/><stop offset="0.4062" stop-color="#38598c"/><stop offset="0.4688" stop-color="#238a8d"/><stop offset="0.5312" stop-color="#1f948c"/><stop offset="0.5938" stop-color="#5cc863"/><stop offset="0.6562" stop-color="#d2e21b"/><stop offset="0.7188" stop-color="#2db27d"/><stop offset="0.7812" stop-color="#20928c"/><stop offset="0.8438" stop-color="#20928c"/><stop offset="0.9062" stop-color="#26828e"/><stop offset="0.9688" stop-color="#30698e"/></linearGradient>
<path d="M324.3 70.7 L330.2 70.7 L336.1 69.6 L342.0 68.4 L347.9 67.2 L353.8 65.9 L359.7 64.6 L365.6 63.2 L371.6 61.7 L377.5 60.2 L383.4 58.6 L389.3 57.0 L395.2 55.3 L401.1 53.6 L407.0 51.8 L412.9 50.0 L418.8 48.2 L424.7 46.3 L430.6 44.4 L436.5 42.5 L442.4 40.5 L448.3 38.5 L454.3 36.5 L460.2 34.4 L466.1 32.4 L472.0 30.3 L477.9 28.2 L483.8 26.1 L489.7 24.0 L495.6 24.0 L495.6 72.7 L324.3 72.7Z" fill="url(#ub5)"/>
<linearGradient id="ub6" gradientUnits="userSpaceOnUse" x1="330.3" x2="489.6" y1="0" y2="0"><stop offset="0.0312" stop-color="#481769"/><stop offset="0.0938" stop-color="#472c7a"/><stop offset="0.1562" stop-color="#433e85"/><stop offset="0.2188" stop-color="#365d8d"/><stop offset="0.2812" stop-color="#38598c"/><stop offset="0.3438" stop-color="#481c6e"/><stop offset="0.4062" stop-color="#3f4788"/><stop offset="0.4688" stop-color="#26828e"/><stop offset="0.5312" stop-color="#24868e"/><stop offset="0.5938" stop-color="#32b67a"/><stop offset="0.6562" stop-color="#95d840"/><stop offset="0.7188" stop-color="#44bf70"/><stop offset="0.7812" stop-color="#1f988b"/><stop offset="0.8438" stop-color="#1f988b"/><stop offset="0.9062" stop-color="#238a8d"/><stop offset="0.9688" stop-color="#2a778e"/></linearGradient>
<path d="M324.3 70.7 L330.2 70.7 L336.1 69.7 L342.0 68.6 L347.9 67.4 L353.8 66.3 L359.7 65.0 L365.6 63.7 L371.6 62.3 L377.5 60.9 L383.4 59.4 L389.3 57.9 L395.2 56.4 L401.1 54.8 L407.0 53.1 L412.9 51.4 L418.8 49.7 L424.7 47.9 L430.6 46.2 L436.5 44.3 L442.4 42.5 L448.3 40.6 L454.3 38.8 L460.2 36.8 L466.1 34.9 L472.0 33.0 L477.9 31.0 L483.8 29.0 L489.7 27.1 L495.6 27.1 L495.6 72.7 L324.3 72.7Z" fill="url(#ub6)"/>
<linearGradient id="ub7" gradientUnits="userSpaceOnUse" x1="330.3" x2="489.6" y1="0" y2="0"><stop offset="0.0312" stop-color="#481769"/><stop offset="0.0938" stop-color="#472c7a"/><stop offset="0.1562" stop-color="#433e85"/><stop offset="0.2188" stop-color="#34618d"/><stop offset="0.2812" stop-color="#3f4788"/><stop offset="0.3438" stop-color="#481769"/><stop offset="0.4062" stop-color="#443a83"/><stop offset="0.4688" stop-color="#2a778e"/><stop offset="0.5312" stop-color="#218e8d"/><stop offset="0.5938" stop-color="#22a785"/><stop offset="0.6562" stop-color="#65cb5e"/><stop offset="0.7188" stop-color="#44bf70"/><stop offset="0.7812" stop-color="#1e9c89"/><stop offset="0.8438" stop-color="#1e9c89"/><stop offset="0.9062" stop-color="#20928c"/><stop offset="0.9688" stop-color="#26828e"/></linearGradient>
<path d="M324.3 70.7 L330.2 70.7 L336.1 69.7 L342.0 68.7 L347.9 67.7 L353.8 66.6 L359.7 65.4 L365.6 64.2 L371.6 62.9 L377.5 61.6 L383.4 60.2 L389.3 58.8 L395.2 57.4 L401.1 55.9 L407.0 54.4 L412.9 52.8 L418.8 51.2 L424.7 49.6 L430.6 47.9 L436.5 46.2 L442.4 44.5 L448.3 42.8 L454.3 41.0 L460.2 39.3 L466.1 37.5 L472.0 35.7 L477.9 33.8 L483.8 32.0 L489.7 30.2 L495.6 30.2 L495.6 72.7 L324.3 72.7Z" fill="url(#ub7)"/>
<linearGradient id="ub8" gradientUnits="userSpaceOnUse" x1="330.3" x2="489.6" y1="0" y2="0"><stop offset="0.0312" stop-color="#481769"/><stop offset="0.0938" stop-color="#472c7a"/><stop offset="0.1562" stop-color="#433e85"/><stop offset="0.2188" stop-color="#34618d"/><stop offset="0.2812" stop-color="#453581"/><stop offset="0.3438" stop-color="#481769"/><stop offset="0.4062" stop-color="#46307e"/><stop offset="0.4688" stop-color="#30698e"/><stop offset="0.5312" stop-color="#25ab82"/><stop offset="0.5938" stop-color="#1fa088"/><stop offset="0.6562" stop-color="#44bf70"/><stop offset="0.7188" stop-color="#2db27d"/><stop offset="0.7812" stop-color="#1e9c89"/><stop offset="0.8438" stop-color="#1e9c89"/><stop offset="0.9062" stop-color="#1f988b"/><stop offset="0.9688" stop-color="#238a8d"/></linearGradient>
<path d="M324.3 70.7 L330.2 70.7 L336.1 69.8 L342.0 68.9 L347.9 67.9 L353.8 66.9 L359.7 65.8 L365.6 64.7 L371.6 63.5 L377.5 62.3 L383.4 61.0 L389.3 59.7 L395.2 58.4 L401.1 57.0 L407.0 55.6 L412.9 54.2 L418.8 52.7 L424.7 51.2 L430.6 49.7 L436.5 48.1 L442.4 46.5 L448.3 44.9 L454.3 43.3 L460.2 41.7 L466.1 40.0 L472.0 38.4 L477.9 36.7 L483.8 35.0 L489.7 33.3 L495.6 33.3 L495.6 72.7 L324.3 72.7Z" fill="url(#ub8)"/>
<linearGradient id="ub9" gradientUnits="userSpaceOnUse" x1="330.3" x2="489.6" y1="0" y2="0"><stop offset="0.0312" stop-color="#481769"/><stop offset="0.0938" stop-color="#472c7a"/><stop offset="0.1562" stop-color="#453581"/><stop offset="0.2188" stop-color="#34618d"/><stop offset="0.2812" stop-color="#472c7a"/><stop offset="0.3438" stop-color="#481c6e"/><stop offset="0.4062" stop-color="#443a83"/><stop offset="0.4688" stop-color="#2c738e"/><stop offset="0.5312" stop-color="#44bf70"/><stop offset="0.5938" stop-color="#22a785"/><stop offset="0.6562" stop-color="#32b67a"/><stop offset="0.7188" stop-color="#25ab82"/><stop offset="0.7812" stop-color="#1e9c89"/><stop offset="0.8438" stop-color="#1f988b"/><stop offset="0.9062" stop-color="#1f948c"/><stop offset="0.9688" stop-color="#238a8d"/></linearGradient>
<path d="M324.3 70.7 L330.2 70.7 L336.1 69.9 L342.0 69.0 L347.9 68.1 L353.8 67.2 L359.7 66.2 L365.6 65.2 L371.6 64.1 L377.5 63.0 L383.4 61.8 L389.3 60.7 L395.2 59.4 L401.1 58.2 L407.0 56.9 L412.9 55.5 L418.8 54.2 L424.7 52.8 L430.6 51.4 L436.5 50.0 L442.4 48.5 L448.3 47.1 L454.3 45.6 L460.2 44.1 L466.1 42.6 L472.0 41.1 L477.9 39.5 L483.8 38.0 L489.7 36.4 L495.6 36.4 L495.6 72.7 L324.3 72.7Z" fill="url(#ub9)"/>
<linearGradient id="ub10" gradientUnits="userSpaceOnUse" x1="330.3" x2="489.6" y1="0" y2="0"><stop offset="0.0312" stop-color="#481769"/><stop offset="0.0938" stop-color="#472c7a"/><stop offset="0.1562" stop-color="#482173"/><stop offset="0.2188" stop-color="#34618d"/><stop offset="0.2812" stop-color="#472c7a"/><stop offset="0.3438" stop-color="#482677"/><stop offset="0.4062" stop-color="#3a548c"/><stop offset="0.4688" stop-color="#1f988b"/><stop offset="0.5312" stop-color="#65cb5e"/><stop offset="0.5938" stop-color="#3fbc73"/><stop offset="0.6562" stop-color="#28ae80"/><stop offset="0.7188" stop-color="#25ab82"/><stop offset="0.7812" stop-color="#1e9c89"/><stop offset="0.8438" stop-color="#20928c"/><stop offset="0.9062" stop-color="#24868e"/><stop offset="0.9688" stop-color="#26828e"/></linearGradient>
<path d="M324.3 70.7 L330.2 70.7 L336.1 70.0 L342.0 69.2 L347.9 68.4 L353.8 67.5 L359.7 66.6 L365.6 65.7 L371.6 64.7 L377.5 63.7 L383.4 62.6 L389.3 61.6 L395.2 60.4 L401.1 59.3 L407.0 58.1 L412.9 56.9 L418.8 55.7 L424.7 54.4 L430.6 53.2 L436.5 51.9 L442.4 50.6 L448.3 49.2 L454.3 47.9 L460.2 46.5 L466.1 45.1 L472.0 43.7 L477.9 42.3 L483.8 40.9 L489.7 39.5 L495.6 39.5 L495.6 72.7 L324.3 72.7Z" fill="url(#ub10)"/>
<linearGradient id="ub11" gradientUnits="userSpaceOnUse" x1="330.3" x2="489.6" y1="0" y2="0"><stop offset="0.0312" stop-color="#481769"/><stop offset="0.0938" stop-color="#472c7a"/><stop offset="0.1562" stop-color="#481769"/><stop offset="0.2188" stop-color="#38598c"/><stop offset="0.2812" stop-color="#472c7a"/><stop offset="0.3438" stop-color="#453581"/><stop offset="0.4062" stop-color="#2d708e"/><stop offset="0.4688" stop-color="#2db27d"/><stop offset="0.5312" stop-color="#81d34d"/><stop offset="0.5938" stop-color="#5cc863"/><stop offset="0.6562" stop-color="#28ae80"/><stop offset="0.7188" stop-color="#25ab82"/><stop offset="0.7812" stop-color="#1e9c89"/><stop offset="0.8438" stop-color="#218e8d"/><stop offset="0.9062" stop-color="#2f6c8e"/><stop offset="0.9688" stop-color="#2f6c8e"/></linearGradient>
<path d="M324.3 70.7 L330.2 70.7 L336.1 70.0 L342.0 69.3 L347.9 68.6 L353.8 67.8 L359.7 67.0 L365.6 66.2 L371.6 65.3 L377.5 64.4 L383.4 63.5 L389.3 62.5 L395.2 61.5 L401.1 60.4 L407.0 59.4 L412.9 58.3 L418.8 57.2 L424.7 56.1 L430.6 54.9 L436.5 53.8 L442.4 52.6 L448.3 51.4 L454.3 50.2 L460.2 48.9 L466.1 47.7 L472.0 46.4 L477.9 45.2 L483.8 43.9 L489.7 42.7 L495.6 42.7 L495.6 72.7 L324.3 72.7Z" fill="url(#ub11)"/>
<linearGradient id="ub12" gradientUnits="userSpaceOnUse" x1="330.3" x2="489.6" y1="0" y2="0"><stop offset="0.0312" stop-color="#481769"/><stop offset="0.0938" stop-color="#472c7a"/><stop offset="0.1562" stop-color="#481769"/><stop offset="0.2188" stop-color="#3f4788"/><stop offset="0.2812" stop-color="#472c7a"/><stop offset="0.3438" stop-color="#3f4788"/><stop offset="0.4062" stop-color="#218e8d"/><stop offset="0.4688" stop-color="#44bf70"/><stop offset="0.5312" stop-color="#95d840"/><stop offset="0.5938" stop-color="#6ece58"/><stop offset="0.6562" stop-color="#32b67a"/><stop offset="0.7188" stop-color="#25ab82"/><stop offset="0.7812" stop-color="#1e9c89"/><stop offset="0.8438" stop-color="#218e8d"/><stop offset="0.9062" stop-color="#414287"/><stop offset="0.9688" stop-color="#414287"/></linearGradient>
<path d="M324.3 70.7 L330.2 70.7 L336.1 70.1 L342.0 69.5 L347.9 68.8 L353.8 68.1 L359.7 67.4 L365.6 66.7 L371.6 65.9 L377.5 65.1 L383.4 64.3 L389.3 63.4 L395.2 62.5 L401.1 61.6 L407.0 60.6 L412.9 59.7 L418.8 58.7 L424.7 57.7 L430.6 56.7 L436.5 55.6 L442.4 54.6 L448.3 53.5 L454.3 52.4 L460.2 51.3 L466.1 50.2 L472.0 49.1 L477.9 48.0 L483.8 46.9 L489.7 45.8 L495.6 45.8 L495.6 72.7 L324.3 72.7Z" fill="url(#ub12)"/>
<linearGradient id="ub13" gradientUnits="userSpaceOnUse" x1="330.3" x2="489.6" y1="0" y2="0"><stop offset="0.0312" stop-color="#481769"/><stop offset="0.0938" stop-color="#472c7a"/><stop offset="0.1562" stop-color="#481769"/><stop offset="0.2188" stop-color="#433e85"/><stop offset="0.2812" stop-color="#453581"/><stop offset="0.3438" stop-color="#365d8d"/><stop offset="0.4062" stop-color="#1fa088"/><stop offset="0.4688" stop-color="#5cc863"/><stop offset="0.5312" stop-color="#95d840"/><stop offset="0.5938" stop-color="#77d153"/><stop offset="0.6562" stop-color="#3fbc73"/><stop offset="0.7188" stop-color="#28ae80"/><stop offset="0.7812" stop-color="#1f988b"/><stop offset="0.8438" stop-color="#277f8e"/><stop offset="0.9062" stop-color="#433e85"/><stop offset="0.9688" stop-color="#414287"/></linearGradient>
<path d="M324.3 70.7 L330.2 70.7 L336.1 70.2 L342.0 69.6 L347.9 69.1 L353.8 68.5 L359.7 67.8 L365.6 67.2 L371.6 66.5 L377.5 65.8 L383.4 65.1 L389.3 64.3 L395.2 63.5 L401.1 62.7 L407.0 61.9 L412.9 61.1 L418.8 60.2 L424.7 59.3 L430.6 58.4 L436.5 57.5 L442.4 56.6 L448.3 55.7 L454.3 54.7 L460.2 53.8 L466.1 52.8 L472.0 51.8 L477.9 50.8 L483.8 49.9 L489.7 48.9 L495.6 48.9 L495.6 72.7 L324.3 72.7Z" fill="url(#ub13)"/>
<linearGradient id="ub14" gradientUnits="userSpaceOnUse" x1="330.3" x2="489.6" y1="0" y2="0"><stop offset="0.0312" stop-color="#481769"/><stop offset="0.0938" stop-color="#472c7a"/><stop offset="0.1562" stop-color="#481769"/><stop offset="0.2188" stop-color="#433e85"/><stop offset="0.2812" stop-color="#3f4788"/><stop offset="0.3438" stop-color="#2c738e"/><stop offset="0.4062" stop-color="#22a785"/><stop offset="0.4688" stop-color="#6ece58"/><stop offset="0.5312" stop-color="#81d34d"/><stop offset="0.5938" stop-color="#77d153"/><stop offset="0.6562" stop-color="#4cc26c"/><stop offset="0.7188" stop-color="#32b67a"/><stop offset="0.7812" stop-color="#20928c"/><stop offset="0.8438" stop-color="#34618d"/><stop offset="0.9062" stop-color="#34618d"/><stop offset="0.9688" stop-color="#2f6c8e"/></linearGradient>
<path d="M324.3 70.7 L330.2 70.7 L336.1 70.2 L342.0 69.8 L347.9 69.3 L353.8 68.8 L359.7 68.2 L365.6 67.7 L371.6 67.1 L377.5 66.5 L383.4 65.9 L389.3 65.2 L395.2 64.5 L401.1 63.9 L407.0 63.1 L412.9 62.4 L418.8 61.7 L424.7 60.9 L430.6 60.2 L436.5 59.4 L442.4 58.6 L448.3 57.8 L454.3 57.0 L460.2 56.2 L466.1 55.4 L472.0 54.5 L477.9 53.7 L483.8 52.8 L489.7 52.0 L495.6 52.0 L495.6 72.7 L324.3 72.7Z" fill="url(#ub14)"/>
<linearGradient id="ub15" gradientUnits="userSpaceOnUse" x1="330.3" x2="489.6" y1="0" y2="0"><stop offset="0.0312" stop-color="#481769"/><stop offset="0.0938" stop-color="#472c7a"/><stop offset="0.1562" stop-color="#481769"/><stop offset="0.2188" stop-color="#443a83"/><stop offset="0.2812" stop-color="#3a548c"/><stop offset="0.3438" stop-color="#26828e"/><stop offset="0.4062" stop-color="#22a785"/><stop offset="0.4688" stop-color="#6ece58"/><stop offset="0.5312" stop-color="#65cb5e"/><stop offset="0.5938" stop-color="#77d153"/><stop offset="0.6562" stop-color="#5cc863"/><stop offset="0.7188" stop-color="#38b977"/><stop offset="0.7812" stop-color="#20928c"/><stop offset="0.8438" stop-color="#3a548c"/><stop offset="0.9062" stop-color="#2c738e"/><stop offset="0.9688" stop-color="#24868e"/></linearGradient>
<path d="M324.3 70.7 L330.2 70.7 L336.1 70.3 L342.0 69.9 L347.9 69.5 L353.8 69.1 L359.7 68.7 L365.6 68.2 L371.6 67.7 L377.5 67.2 L383.4 66.7 L389.3 66.1 L395.2 65.6 L401.1 65.0 L407.0 64.4 L412.9 63.8 L418.8 63.2 L424.7 62.6 L430.6 61.9 L436.5 61.3 L442.4 60.6 L448.3 60.0 L454.3 59.3 L460.2 58.6 L466.1 57.9 L472.0 57.2 L477.9 56.5 L483.8 55.8 L489.7 55.1 L495.6 55.1 L495.6 72.7 L324.3 72.7Z" fill="url(#ub15)"/>
<linearGradient id="ub16" gradientUnits="userSpaceOnUse" x1="330.3" x2="489.6" y1="0" y2="0"><stop offset="0.0312" stop-color="#481769"/><stop offset="0.0938" stop-color="#472c7a"/><stop offset="0.1562" stop-color="#481769"/><stop offset="0.2188" stop-color="#46307e"/><stop offset="0.2812" stop-color="#365d8d"/><stop offset="0.3438" stop-color="#238a8d"/><stop offset="0.4062" stop-color="#1fa088"/><stop offset="0.4688" stop-color="#5cc863"/><stop offset="0.5312" stop-color="#44bf70"/><stop offset="0.5938" stop-color="#77d153"/><stop offset="0.6562" stop-color="#6ece58"/><stop offset="0.7188" stop-color="#38b977"/><stop offset="0.7812" stop-color="#1f988b"/><stop offset="0.8438" stop-color="#365d8d"/><stop offset="0.9062" stop-color="#297b8e"/><stop offset="0.9688" stop-color="#1f948c"/></linearGradient>
<path d="M324.3 70.7 L330.2 70.7 L336.1 70.4 L342.0 70.1 L347.9 69.8 L353.8 69.4 L359.7 69.1 L365.6 68.7 L371.6 68.3 L377.5 67.9 L383.4 67.5 L389.3 67.0 L395.2 66.6 L401.1 66.1 L407.0 65.7 L412.9 65.2 L418.8 64.7 L424.7 64.2 L430.6 63.7 L436.5 63.2 L442.4 62.6 L448.3 62.1 L454.3 61.6 L460.2 61.0 L466.1 60.5 L472.0 59.9 L477.9 59.3 L483.8 58.8 L489.7 58.2 L495.6 58.2 L495.6 72.7 L324.3 72.7Z" fill="url(#ub16)"/>
<linearGradient id="ub17" gradientUnits="userSpaceOnUse" x1="330.3" x2="489.6" y1="0" y2="0"><stop offset="0.0312" stop-color="#481769"/><stop offset="0.0938" stop-color="#472c7a"/><stop offset="0.1562" stop-color="#481769"/><stop offset="0.2188" stop-color="#472c7a"/><stop offset="0.2812" stop-color="#38598c"/><stop offset="0.3438" stop-color="#24868e"/><stop offset="0.4062" stop-color="#1f948c"/><stop offset="0.4688" stop-color="#25ab82"/><stop offset="0.5312" stop-color="#25ab82"/><stop offset="0.5938" stop-color="#6ece58"/><stop offset="0.6562" stop-color="#6ece58"/><stop offset="0.7188" stop-color="#38b977"/><stop offset="0.7812" stop-color="#1fa088"/><stop offset="0.8438" stop-color="#2d708e"/><stop offset="0.9062" stop-color="#24868e"/><stop offset="0.9688" stop-color="#1e9c89"/></linearGradient>
<path d="M324.3 70.7 L330.2 70.7 L336.1 70.5 L342.0 70.2 L347.9 70.0 L353.8 69.7 L359.7 69.5 L365.6 69.2 L371.6 68.9 L377.5 68.6 L383.4 68.3 L389.3 67.9 L395.2 67.6 L401.1 67.3 L407.0 66.9 L412.9 66.6 L418.8 66.2 L424.7 65.8 L430.6 65.4 L436.5 65.0 L442.4 64.6 L448.3 64.2 L454.3 63.8 L460.2 63.4 L466.1 63.0 L472.0 62.6 L477.9 62.2 L483.8 61.8 L489.7 61.3 L495.6 61.3 L495.6 72.7 L324.3 72.7Z" fill="url(#ub17)"/>
<linearGradient id="ub18" gradientUnits="userSpaceOnUse" x1="330.3" x2="489.6" y1="0" y2="0"><stop offset="0.0312" stop-color="#481769"/><stop offset="0.0938" stop-color="#472c7a"/><stop offset="0.1562" stop-color="#481769"/><stop offset="0.2188" stop-color="#472c7a"/><stop offset="0.2812" stop-color="#3f4788"/><stop offset="0.3438" stop-color="#2a778e"/><stop offset="0.4062" stop-color="#24868e"/><stop offset="0.4688" stop-color="#2d708e"/><stop offset="0.5312" stop-color="#218e8d"/><stop offset="0.5938" stop-color="#5cc863"/><stop offset="0.6562" stop-color="#5cc863"/><stop offset="0.7188" stop-color="#38b977"/><stop offset="0.7812" stop-color="#22a785"/><stop offset="0.8438" stop-color="#218e8d"/><stop offset="0.9062" stop-color="#1f948c"/><stop offset="0.9688" stop-color="#1e9c89"/></linearGradient>
<path d="M324.3 70.7 L330.2 70.7 L336.1 70.5 L342.0 70.4 L347.9 70.2 L353.8 70.0 L359.7 69.9 L365.6 69.7 L371.6 69.5 L377.5 69.3 L383.4 69.1 L389.3 68.9 L395.2 68.6 L401.1 68.4 L407.0 68.2 L412.9 67.9 L418.8 67.7 L424.7 67.4 L430.6 67.2 L436.5 66.9 L442.4 66.7 L448.3 66.4 L454.3 66.1 L460.2 65.8 L466.1 65.6 L472.0 65.3 L477.9 65.0 L483.8 64.7 L489.7 64.5 L495.6 64.5 L495.6 72.7 L324.3 72.7Z" fill="url(#ub18)"/>
<linearGradient id="ub19" gradientUnits="userSpaceOnUse" x1="330.3" x2="489.6" y1="0" y2="0"><stop offset="0.0312" stop-color="#48186a"/><stop offset="0.0938" stop-color="#482374"/><stop offset="0.1562" stop-color="#472c7a"/><stop offset="0.2188" stop-color="#453581"/><stop offset="0.2812" stop-color="#424186"/><stop offset="0.3438" stop-color="#306a8e"/><stop offset="0.4062" stop-color="#2c718e"/><stop offset="0.4688" stop-color="#30698e"/><stop offset="0.5312" stop-color="#27808e"/><stop offset="0.5938" stop-color="#42be71"/><stop offset="0.6562" stop-color="#5ec962"/><stop offset="0.7188" stop-color="#37b878"/><stop offset="0.7812" stop-color="#20a386"/><stop offset="0.8438" stop-color="#1e9c89"/><stop offset="0.9062" stop-color="#1e9c89"/><stop offset="0.9688" stop-color="#1e9c89"/></linearGradient>
<path d="M324.3 70.7 L330.2 70.7 L336.1 70.6 L342.0 70.5 L347.9 70.5 L353.8 70.4 L359.7 70.3 L365.6 70.2 L371.6 70.1 L377.5 70.0 L383.4 69.9 L389.3 69.8 L395.2 69.7 L401.1 69.5 L407.0 69.4 L412.9 69.3 L418.8 69.2 L424.7 69.1 L430.6 68.9 L436.5 68.8 L442.4 68.7 L448.3 68.5 L454.3 68.4 L460.2 68.3 L466.1 68.1 L472.0 68.0 L477.9 67.8 L483.8 67.7 L489.7 67.6 L495.6 67.6 L495.6 72.7 L324.3 72.7Z" fill="url(#ub19)"/>
</g>
</g>
<g filter="url(#bl2)">
<ellipse cx="355.4" cy="83.0" rx="12" ry="1.8" fill="#470e61" opacity="0.8"/>
<ellipse cx="349.0" cy="99.7" rx="12" ry="1.8" fill="#470e61" opacity="0.8"/>
<ellipse cx="350.6" cy="108.9" rx="10" ry="3" fill="#470e61" opacity="0.8"/>
<ellipse cx="356.1" cy="123.4" rx="16" ry="1.8" fill="#470e61" opacity="0.8"/>
<ellipse cx="387.8" cy="117.6" rx="7" ry="2.2" fill="#470e61" opacity="0.8"/>
<ellipse cx="347.4" cy="78.8" rx="13" ry="2" fill="#2d708e" opacity="0.8"/>
<ellipse cx="356.1" cy="92.2" rx="10" ry="2" fill="#218e8d" opacity="0.8"/>
<ellipse cx="337.9" cy="119.2" rx="7" ry="2" fill="#277f8e" opacity="0.8"/>
</g>
</g>
<path d="M367.2 8.4 V138.9" stroke="#c6c6c6" stroke-width="0.8" fill="none" opacity="0.9"/>
<path d="M330.3 70.7 H489.6 M330.3 133.0 H489.6" stroke="#c6c6c6" stroke-width="0.8" fill="none" opacity="0.6"/>
<path d="M340.0 138.9 v2.2 M348.2 138.9 v2.2 M355.3 138.9 v2.2 M361.6 138.9 v2.2 M404.0 138.9 v2.2 M425.6 138.9 v2.2 M440.9 138.9 v2.2 M452.7 138.9 v2.2 M462.4 138.9 v2.2 M470.6 138.9 v2.2 M477.7 138.9 v2.2 M484.0 138.9 v2.2 M330.3 135.8 h-2.2 M330.3 114.2 h-2.2 M330.3 103.2 h-2.2 M330.3 95.5 h-2.2 M330.3 89.4 h-2.2 M330.3 84.5 h-2.2 M330.3 80.3 h-2.2 M330.3 76.7 h-2.2 M330.3 73.5 h-2.2 M330.3 51.9 h-2.2 M330.3 41.0 h-2.2 M330.3 33.2 h-2.2 M330.3 27.1 h-2.2 M330.3 22.2 h-2.2 M330.3 18.0 h-2.2 M330.3 14.4 h-2.2 M330.3 11.2 h-2.2" stroke="#bdbdbd" stroke-width="0.7" fill="none"/>
<path d="M367.2 138.9 v4.2 M489.6 138.9 v4.2 M330.3 133.0 h-4.2 M330.3 70.7 h-4.2 M330.3 8.4 h-4.2" stroke="#b8b8b8" stroke-width="0.8" fill="none"/>
<rect x="330.3" y="8.4" width="159.3" height="130.5" fill="none" stroke="#333" stroke-width="0.75"/>
<rect x="509.2" y="8.40" width="14.3" height="6.17" fill="#f1e51d" shape-rendering="crispEdges"/>
<rect x="509.2" y="14.07" width="14.3" height="6.17" fill="#d5e21a" shape-rendering="crispEdges"/>
<rect x="509.2" y="19.75" width="14.3" height="6.17" fill="#b8de29" shape-rendering="crispEdges"/>
<rect x="509.2" y="25.42" width="14.3" height="6.17" fill="#9bd93c" shape-rendering="crispEdges"/>
<rect x="509.2" y="31.10" width="14.3" height="6.17" fill="#7cd250" shape-rendering="crispEdges"/>
<rect x="509.2" y="36.77" width="14.3" height="6.17" fill="#63cb5f" shape-rendering="crispEdges"/>
<rect x="509.2" y="42.44" width="14.3" height="6.17" fill="#4cc26c" shape-rendering="crispEdges"/>
<rect x="509.2" y="48.12" width="14.3" height="6.17" fill="#38b977" shape-rendering="crispEdges"/>
<rect x="509.2" y="53.79" width="14.3" height="6.17" fill="#29af7f" shape-rendering="crispEdges"/>
<rect x="509.2" y="59.47" width="14.3" height="6.17" fill="#21a585" shape-rendering="crispEdges"/>
<rect x="509.2" y="65.14" width="14.3" height="6.17" fill="#1e9b8a" shape-rendering="crispEdges"/>
<rect x="509.2" y="70.81" width="14.3" height="6.17" fill="#21918c" shape-rendering="crispEdges"/>
<rect x="509.2" y="76.49" width="14.3" height="6.17" fill="#25858e" shape-rendering="crispEdges"/>
<rect x="509.2" y="82.16" width="14.3" height="6.17" fill="#297b8e" shape-rendering="crispEdges"/>
<rect x="509.2" y="87.83" width="14.3" height="6.17" fill="#2d718e" shape-rendering="crispEdges"/>
<rect x="509.2" y="93.51" width="14.3" height="6.17" fill="#31668e" shape-rendering="crispEdges"/>
<rect x="509.2" y="99.18" width="14.3" height="6.17" fill="#375b8d" shape-rendering="crispEdges"/>
<rect x="509.2" y="104.86" width="14.3" height="6.17" fill="#3c4f8a" shape-rendering="crispEdges"/>
<rect x="509.2" y="110.53" width="14.3" height="6.17" fill="#414287" shape-rendering="crispEdges"/>
<rect x="509.2" y="116.20" width="14.3" height="6.17" fill="#463480" shape-rendering="crispEdges"/>
<rect x="509.2" y="121.88" width="14.3" height="6.17" fill="#482677" shape-rendering="crispEdges"/>
<rect x="509.2" y="127.55" width="14.3" height="6.17" fill="#48186a" shape-rendering="crispEdges"/>
<rect x="509.2" y="133.23" width="14.3" height="6.17" fill="#46085c" shape-rendering="crispEdges"/>
<rect x="509.2" y="8.4" width="14.3" height="130.5" fill="none" stroke="#444" stroke-width="0.55"/>
<text x="527.3" y="13.1" class="t">10<tspan dy="-4.1" class="s">0</tspan></text>
<text x="527.3" y="56.6" class="t">10<tspan dy="-4.1" class="s">−1</tspan></text>
<text x="527.3" y="100.1" class="t">10<tspan dy="-4.1" class="s">−2</tspan></text>
<text x="527.3" y="143.6" class="t">10<tspan dy="-4.1" class="s">−3</tspan></text>
<text x="308.7" y="13.1" class="t">10<tspan dy="-4.1" class="s">2</tspan></text>
<text x="308.7" y="75.4" class="t">10<tspan dy="-4.1" class="s">1</tspan></text>
<text x="308.7" y="137.7" class="t">10<tspan dy="-4.1" class="s">0</tspan></text>
<text x="360.7" y="156.9" class="t">10<tspan dy="-4.1" class="s">1</tspan></text>
<text x="483.1" y="156.9" class="t">10<tspan dy="-4.1" class="s">2</tspan></text>
<text x="361.6" y="171.0" class="l" textLength="96.3" lengthAdjust="spacingAndGlyphs">motion frequency, Hz</text>
<text transform="translate(298.6 114.8) rotate(-90)" class="l" textLength="83.8" lengthAdjust="spacingAndGlyphs">motion intensity, g</text>
<text x="416.4" y="194.7" class="c" text-anchor="middle">(b)</text>
<clipPath id="cpc"><path d="M41.5 348.7 L41.5 279.9 L45.6 278.8 L49.7 277.8 L53.8 276.7 L58.0 275.6 L62.1 274.4 L66.2 273.2 L70.3 271.9 L74.4 270.6 L78.5 269.3 L82.6 267.9 L86.7 266.5 L90.9 265.1 L95.0 263.6 L99.1 262.1 L103.2 260.6 L107.3 259.0 L111.4 257.4 L115.5 255.8 L119.6 254.1 L123.8 252.5 L127.9 250.8 L132.0 249.0 L136.1 247.3 L140.2 245.5 L144.3 243.7 L148.4 241.9 L152.5 240.1 L156.7 238.2 L160.8 236.4 L164.9 234.5 L169.0 232.6 L173.1 230.7 L177.2 228.8 L181.3 226.8 L185.4 224.9 L189.6 222.9 L193.7 221.0 L197.8 219.0 L201.9 217.0 L201.9 348.7Z"/></clipPath>
<g clip-path="url(#cpc)"><g filter="url(#bl)">
<linearGradient id="gc0" gradientUnits="userSpaceOnUse" x1="41.5" x2="201.9" y1="0" y2="0"><stop offset="0.0312" stop-color="#433e85"/><stop offset="0.0938" stop-color="#34618d"/><stop offset="0.1562" stop-color="#277f8e"/><stop offset="0.2188" stop-color="#277f8e"/><stop offset="0.2812" stop-color="#2e6d8e"/><stop offset="0.3438" stop-color="#21918c"/><stop offset="0.4062" stop-color="#38b977"/><stop offset="0.4688" stop-color="#2ab07f"/><stop offset="0.5312" stop-color="#3dbc74"/><stop offset="0.5938" stop-color="#38b977"/><stop offset="0.6562" stop-color="#48c16e"/><stop offset="0.7188" stop-color="#38b977"/><stop offset="0.7812" stop-color="#24878e"/><stop offset="0.8438" stop-color="#2c738e"/><stop offset="0.9062" stop-color="#24878e"/><stop offset="0.9688" stop-color="#1e9c89"/></linearGradient>
<rect x="35.5" y="267.85" width="172.4" height="8.60" fill="url(#gc0)"/>
<linearGradient id="gc1" gradientUnits="userSpaceOnUse" x1="41.5" x2="201.9" y1="0" y2="0"><stop offset="0.0312" stop-color="#433e85"/><stop offset="0.0938" stop-color="#34618d"/><stop offset="0.1562" stop-color="#277f8e"/><stop offset="0.2188" stop-color="#277f8e"/><stop offset="0.2812" stop-color="#38588c"/><stop offset="0.3438" stop-color="#20a486"/><stop offset="0.4062" stop-color="#38b977"/><stop offset="0.4688" stop-color="#22a785"/><stop offset="0.5312" stop-color="#1f9f88"/><stop offset="0.5938" stop-color="#38b977"/><stop offset="0.6562" stop-color="#5cc863"/><stop offset="0.7188" stop-color="#38b977"/><stop offset="0.7812" stop-color="#20928c"/><stop offset="0.8438" stop-color="#24878e"/><stop offset="0.9062" stop-color="#20928c"/><stop offset="0.9688" stop-color="#1e9c89"/></linearGradient>
<rect x="35.5" y="276.06" width="172.4" height="2.60" fill="url(#gc1)"/>
<linearGradient id="gc2" gradientUnits="userSpaceOnUse" x1="41.5" x2="201.9" y1="0" y2="0"><stop offset="0.0312" stop-color="#433e85"/><stop offset="0.0938" stop-color="#34618d"/><stop offset="0.1562" stop-color="#277f8e"/><stop offset="0.2188" stop-color="#277f8e"/><stop offset="0.2812" stop-color="#424086"/><stop offset="0.3438" stop-color="#35b779"/><stop offset="0.4062" stop-color="#38b977"/><stop offset="0.4688" stop-color="#1e9d89"/><stop offset="0.5312" stop-color="#26828e"/><stop offset="0.5938" stop-color="#38b977"/><stop offset="0.6562" stop-color="#75d054"/><stop offset="0.7188" stop-color="#38b977"/><stop offset="0.7812" stop-color="#1e9b8a"/><stop offset="0.8438" stop-color="#1f9a8a"/><stop offset="0.9062" stop-color="#1e9b8a"/><stop offset="0.9688" stop-color="#1e9c89"/></linearGradient>
<rect x="35.5" y="278.26" width="172.4" height="2.60" fill="url(#gc2)"/>
<linearGradient id="gc3" gradientUnits="userSpaceOnUse" x1="41.5" x2="201.9" y1="0" y2="0"><stop offset="0.0312" stop-color="#433e85"/><stop offset="0.0938" stop-color="#306a8e"/><stop offset="0.1562" stop-color="#277f8e"/><stop offset="0.2188" stop-color="#2b758e"/><stop offset="0.2812" stop-color="#2d718e"/><stop offset="0.3438" stop-color="#2ab07f"/><stop offset="0.4062" stop-color="#2ab07f"/><stop offset="0.4688" stop-color="#1e9c89"/><stop offset="0.5312" stop-color="#23888e"/><stop offset="0.5938" stop-color="#2ab07f"/><stop offset="0.6562" stop-color="#3bbb75"/><stop offset="0.7188" stop-color="#22a884"/><stop offset="0.7812" stop-color="#1e9c89"/><stop offset="0.8438" stop-color="#1e9c89"/><stop offset="0.9062" stop-color="#1e9c89"/><stop offset="0.9688" stop-color="#1e9c89"/></linearGradient>
<rect x="35.5" y="280.46" width="172.4" height="2.60" fill="url(#gc3)"/>
<linearGradient id="gc4" gradientUnits="userSpaceOnUse" x1="41.5" x2="201.9" y1="0" y2="0"><stop offset="0.0312" stop-color="#433e85"/><stop offset="0.0938" stop-color="#2b748e"/><stop offset="0.1562" stop-color="#277f8e"/><stop offset="0.2188" stop-color="#2f6c8e"/><stop offset="0.2812" stop-color="#1fa187"/><stop offset="0.3438" stop-color="#22a785"/><stop offset="0.4062" stop-color="#22a785"/><stop offset="0.4688" stop-color="#1e9c89"/><stop offset="0.5312" stop-color="#20928c"/><stop offset="0.5938" stop-color="#22a785"/><stop offset="0.6562" stop-color="#1f9f88"/><stop offset="0.7188" stop-color="#1f948c"/><stop offset="0.7812" stop-color="#1e9c89"/><stop offset="0.8438" stop-color="#1e9c89"/><stop offset="0.9062" stop-color="#1e9c89"/><stop offset="0.9688" stop-color="#1e9c89"/></linearGradient>
<rect x="35.5" y="282.67" width="172.4" height="2.60" fill="url(#gc4)"/>
<linearGradient id="gc5" gradientUnits="userSpaceOnUse" x1="41.5" x2="201.9" y1="0" y2="0"><stop offset="0.0312" stop-color="#433e85"/><stop offset="0.0938" stop-color="#277e8e"/><stop offset="0.1562" stop-color="#277f8e"/><stop offset="0.2188" stop-color="#33628d"/><stop offset="0.2812" stop-color="#6ece58"/><stop offset="0.3438" stop-color="#1e9d89"/><stop offset="0.4062" stop-color="#1e9d89"/><stop offset="0.4688" stop-color="#1e9c89"/><stop offset="0.5312" stop-color="#1e9b8a"/><stop offset="0.5938" stop-color="#1e9d89"/><stop offset="0.6562" stop-color="#26818e"/><stop offset="0.7188" stop-color="#26818e"/><stop offset="0.7812" stop-color="#1e9c89"/><stop offset="0.8438" stop-color="#1e9c89"/><stop offset="0.9062" stop-color="#1e9c89"/><stop offset="0.9688" stop-color="#1e9c89"/></linearGradient>
<rect x="35.5" y="284.87" width="172.4" height="2.60" fill="url(#gc5)"/>
<linearGradient id="gc6" gradientUnits="userSpaceOnUse" x1="41.5" x2="201.9" y1="0" y2="0"><stop offset="0.0312" stop-color="#433e85"/><stop offset="0.0938" stop-color="#277f8e"/><stop offset="0.1562" stop-color="#277f8e"/><stop offset="0.2188" stop-color="#34618d"/><stop offset="0.2812" stop-color="#4ec36b"/><stop offset="0.3438" stop-color="#1e9c89"/><stop offset="0.4062" stop-color="#21a585"/><stop offset="0.4688" stop-color="#21a585"/><stop offset="0.5312" stop-color="#1e9c89"/><stop offset="0.5938" stop-color="#1e9c89"/><stop offset="0.6562" stop-color="#23888e"/><stop offset="0.7188" stop-color="#23888e"/><stop offset="0.7812" stop-color="#20938c"/><stop offset="0.8438" stop-color="#2a788e"/><stop offset="0.9062" stop-color="#238a8d"/><stop offset="0.9688" stop-color="#1e9c89"/></linearGradient>
<rect x="35.5" y="287.07" width="172.4" height="2.60" fill="url(#gc6)"/>
<linearGradient id="gc7" gradientUnits="userSpaceOnUse" x1="41.5" x2="201.9" y1="0" y2="0"><stop offset="0.0312" stop-color="#433e85"/><stop offset="0.0938" stop-color="#277f8e"/><stop offset="0.1562" stop-color="#277f8e"/><stop offset="0.2188" stop-color="#34618d"/><stop offset="0.2812" stop-color="#2cb17e"/><stop offset="0.3438" stop-color="#1e9c89"/><stop offset="0.4062" stop-color="#28ae80"/><stop offset="0.4688" stop-color="#28ae80"/><stop offset="0.5312" stop-color="#1e9c89"/><stop offset="0.5938" stop-color="#1e9c89"/><stop offset="0.6562" stop-color="#20928c"/><stop offset="0.7188" stop-color="#20928c"/><stop offset="0.7812" stop-color="#23898e"/><stop offset="0.8438" stop-color="#3d4e8a"/><stop offset="0.9062" stop-color="#2a768e"/><stop offset="0.9688" stop-color="#1e9c89"/></linearGradient>
<rect x="35.5" y="289.27" width="172.4" height="2.60" fill="url(#gc7)"/>
<linearGradient id="gc8" gradientUnits="userSpaceOnUse" x1="41.5" x2="201.9" y1="0" y2="0"><stop offset="0.0312" stop-color="#433e85"/><stop offset="0.0938" stop-color="#277f8e"/><stop offset="0.1562" stop-color="#277f8e"/><stop offset="0.2188" stop-color="#34618d"/><stop offset="0.2812" stop-color="#1f9e89"/><stop offset="0.3438" stop-color="#1e9c89"/><stop offset="0.4062" stop-color="#37b878"/><stop offset="0.4688" stop-color="#37b878"/><stop offset="0.5312" stop-color="#1e9c89"/><stop offset="0.5938" stop-color="#1e9c89"/><stop offset="0.6562" stop-color="#1e9c89"/><stop offset="0.7188" stop-color="#1e9c89"/><stop offset="0.7812" stop-color="#27808e"/><stop offset="0.8438" stop-color="#481b6d"/><stop offset="0.9062" stop-color="#33628d"/><stop offset="0.9688" stop-color="#1e9c89"/></linearGradient>
<rect x="35.5" y="291.48" width="172.4" height="2.60" fill="url(#gc8)"/>
<linearGradient id="gc9" gradientUnits="userSpaceOnUse" x1="41.5" x2="201.9" y1="0" y2="0"><stop offset="0.0312" stop-color="#3a548c"/><stop offset="0.0938" stop-color="#277f8e"/><stop offset="0.1562" stop-color="#2b758e"/><stop offset="0.2188" stop-color="#2c738e"/><stop offset="0.2812" stop-color="#1e9c89"/><stop offset="0.3438" stop-color="#28ae80"/><stop offset="0.4062" stop-color="#5cc863"/><stop offset="0.4688" stop-color="#5cc863"/><stop offset="0.5312" stop-color="#35b779"/><stop offset="0.5938" stop-color="#35b779"/><stop offset="0.6562" stop-color="#35b779"/><stop offset="0.7188" stop-color="#28ae80"/><stop offset="0.7812" stop-color="#20928c"/><stop offset="0.8438" stop-color="#3b528b"/><stop offset="0.9062" stop-color="#2c738e"/><stop offset="0.9688" stop-color="#1e9c89"/></linearGradient>
<rect x="35.5" y="293.68" width="172.4" height="2.60" fill="url(#gc9)"/>
<linearGradient id="gc10" gradientUnits="userSpaceOnUse" x1="41.5" x2="201.9" y1="0" y2="0"><stop offset="0.0312" stop-color="#306a8e"/><stop offset="0.0938" stop-color="#277f8e"/><stop offset="0.1562" stop-color="#2f6c8e"/><stop offset="0.2188" stop-color="#24878e"/><stop offset="0.2812" stop-color="#1e9c89"/><stop offset="0.3438" stop-color="#48c16e"/><stop offset="0.4062" stop-color="#8ed645"/><stop offset="0.4688" stop-color="#8ed645"/><stop offset="0.5312" stop-color="#73d056"/><stop offset="0.5938" stop-color="#73d056"/><stop offset="0.6562" stop-color="#73d056"/><stop offset="0.7188" stop-color="#48c16e"/><stop offset="0.7812" stop-color="#20a486"/><stop offset="0.8438" stop-color="#25858e"/><stop offset="0.9062" stop-color="#24878e"/><stop offset="0.9688" stop-color="#1e9c89"/></linearGradient>
<rect x="35.5" y="295.88" width="172.4" height="2.60" fill="url(#gc10)"/>
<linearGradient id="gc11" gradientUnits="userSpaceOnUse" x1="41.5" x2="201.9" y1="0" y2="0"><stop offset="0.0312" stop-color="#277e8e"/><stop offset="0.0938" stop-color="#277f8e"/><stop offset="0.1562" stop-color="#34618d"/><stop offset="0.2188" stop-color="#1e9b8a"/><stop offset="0.2812" stop-color="#1e9c89"/><stop offset="0.3438" stop-color="#75d054"/><stop offset="0.4062" stop-color="#c5e021"/><stop offset="0.4688" stop-color="#c5e021"/><stop offset="0.5312" stop-color="#c2df23"/><stop offset="0.5938" stop-color="#c2df23"/><stop offset="0.6562" stop-color="#c2df23"/><stop offset="0.7188" stop-color="#75d054"/><stop offset="0.7812" stop-color="#35b779"/><stop offset="0.8438" stop-color="#34b679"/><stop offset="0.9062" stop-color="#1e9b8a"/><stop offset="0.9688" stop-color="#1e9c89"/></linearGradient>
<rect x="35.5" y="298.08" width="172.4" height="2.60" fill="url(#gc11)"/>
<linearGradient id="gc12" gradientUnits="userSpaceOnUse" x1="41.5" x2="201.9" y1="0" y2="0"><stop offset="0.0312" stop-color="#277f8e"/><stop offset="0.0938" stop-color="#277f8e"/><stop offset="0.1562" stop-color="#2f6b8e"/><stop offset="0.2188" stop-color="#20928c"/><stop offset="0.2812" stop-color="#26818e"/><stop offset="0.3438" stop-color="#2cb17e"/><stop offset="0.4062" stop-color="#65cb5e"/><stop offset="0.4688" stop-color="#65cb5e"/><stop offset="0.5312" stop-color="#93d741"/><stop offset="0.5938" stop-color="#93d741"/><stop offset="0.6562" stop-color="#93d741"/><stop offset="0.7188" stop-color="#60ca60"/><stop offset="0.7812" stop-color="#38b977"/><stop offset="0.8438" stop-color="#2ab07f"/><stop offset="0.9062" stop-color="#20928c"/><stop offset="0.9688" stop-color="#238a8d"/></linearGradient>
<rect x="35.5" y="300.29" width="172.4" height="2.60" fill="url(#gc12)"/>
<linearGradient id="gc13" gradientUnits="userSpaceOnUse" x1="41.5" x2="201.9" y1="0" y2="0"><stop offset="0.0312" stop-color="#277f8e"/><stop offset="0.0938" stop-color="#277f8e"/><stop offset="0.1562" stop-color="#2b748e"/><stop offset="0.2188" stop-color="#23898e"/><stop offset="0.2812" stop-color="#33628d"/><stop offset="0.3438" stop-color="#228b8d"/><stop offset="0.4062" stop-color="#22a884"/><stop offset="0.4688" stop-color="#22a884"/><stop offset="0.5312" stop-color="#63cb5f"/><stop offset="0.5938" stop-color="#63cb5f"/><stop offset="0.6562" stop-color="#63cb5f"/><stop offset="0.7188" stop-color="#4cc26c"/><stop offset="0.7812" stop-color="#38b977"/><stop offset="0.8438" stop-color="#21a685"/><stop offset="0.9062" stop-color="#23898e"/><stop offset="0.9688" stop-color="#2a768e"/></linearGradient>
<rect x="35.5" y="302.49" width="172.4" height="2.60" fill="url(#gc13)"/>
<linearGradient id="gc14" gradientUnits="userSpaceOnUse" x1="41.5" x2="201.9" y1="0" y2="0"><stop offset="0.0312" stop-color="#277f8e"/><stop offset="0.0938" stop-color="#277f8e"/><stop offset="0.1562" stop-color="#277f8e"/><stop offset="0.2188" stop-color="#27808e"/><stop offset="0.2812" stop-color="#424086"/><stop offset="0.3438" stop-color="#33638d"/><stop offset="0.4062" stop-color="#26818e"/><stop offset="0.4688" stop-color="#26818e"/><stop offset="0.5312" stop-color="#3aba76"/><stop offset="0.5938" stop-color="#3aba76"/><stop offset="0.6562" stop-color="#3aba76"/><stop offset="0.7188" stop-color="#38b977"/><stop offset="0.7812" stop-color="#38b977"/><stop offset="0.8438" stop-color="#1e9d89"/><stop offset="0.9062" stop-color="#27808e"/><stop offset="0.9688" stop-color="#33628d"/></linearGradient>
<rect x="35.5" y="304.69" width="172.4" height="2.60" fill="url(#gc14)"/>
<linearGradient id="gc15" gradientUnits="userSpaceOnUse" x1="41.5" x2="201.9" y1="0" y2="0"><stop offset="0.0312" stop-color="#277f8e"/><stop offset="0.0938" stop-color="#277f8e"/><stop offset="0.1562" stop-color="#2b758e"/><stop offset="0.2188" stop-color="#2f6c8e"/><stop offset="0.2812" stop-color="#46327e"/><stop offset="0.3438" stop-color="#34618d"/><stop offset="0.4062" stop-color="#277f8e"/><stop offset="0.4688" stop-color="#2b758e"/><stop offset="0.5312" stop-color="#22a785"/><stop offset="0.5938" stop-color="#22a785"/><stop offset="0.6562" stop-color="#22a785"/><stop offset="0.7188" stop-color="#22a785"/><stop offset="0.7812" stop-color="#22a785"/><stop offset="0.8438" stop-color="#20928c"/><stop offset="0.9062" stop-color="#2f6c8e"/><stop offset="0.9688" stop-color="#39568c"/></linearGradient>
<rect x="35.5" y="306.90" width="172.4" height="2.60" fill="url(#gc15)"/>
<linearGradient id="gc16" gradientUnits="userSpaceOnUse" x1="41.5" x2="201.9" y1="0" y2="0"><stop offset="0.0312" stop-color="#277f8e"/><stop offset="0.0938" stop-color="#277f8e"/><stop offset="0.1562" stop-color="#2f6c8e"/><stop offset="0.2188" stop-color="#39568c"/><stop offset="0.2812" stop-color="#482576"/><stop offset="0.3438" stop-color="#34618d"/><stop offset="0.4062" stop-color="#277f8e"/><stop offset="0.4688" stop-color="#2f6c8e"/><stop offset="0.5312" stop-color="#20938c"/><stop offset="0.5938" stop-color="#20938c"/><stop offset="0.6562" stop-color="#20938c"/><stop offset="0.7188" stop-color="#20938c"/><stop offset="0.7812" stop-color="#20938c"/><stop offset="0.8438" stop-color="#23898e"/><stop offset="0.9062" stop-color="#39568c"/><stop offset="0.9688" stop-color="#3e4a89"/></linearGradient>
<rect x="35.5" y="309.10" width="172.4" height="2.60" fill="url(#gc16)"/>
<linearGradient id="gc17" gradientUnits="userSpaceOnUse" x1="41.5" x2="201.9" y1="0" y2="0"><stop offset="0.0312" stop-color="#277f8e"/><stop offset="0.0938" stop-color="#277f8e"/><stop offset="0.1562" stop-color="#34618d"/><stop offset="0.2188" stop-color="#423f85"/><stop offset="0.2812" stop-color="#48186a"/><stop offset="0.3438" stop-color="#34618d"/><stop offset="0.4062" stop-color="#277f8e"/><stop offset="0.4688" stop-color="#34618d"/><stop offset="0.5312" stop-color="#27808e"/><stop offset="0.5938" stop-color="#27808e"/><stop offset="0.6562" stop-color="#27808e"/><stop offset="0.7188" stop-color="#27808e"/><stop offset="0.7812" stop-color="#27808e"/><stop offset="0.8438" stop-color="#277f8e"/><stop offset="0.9062" stop-color="#423f85"/><stop offset="0.9688" stop-color="#423f85"/></linearGradient>
<rect x="35.5" y="311.30" width="172.4" height="2.60" fill="url(#gc17)"/>
<linearGradient id="gc18" gradientUnits="userSpaceOnUse" x1="41.5" x2="201.9" y1="0" y2="0"><stop offset="0.0312" stop-color="#2f6c8e"/><stop offset="0.0938" stop-color="#33628d"/><stop offset="0.1562" stop-color="#3e4c8a"/><stop offset="0.2188" stop-color="#46327e"/><stop offset="0.2812" stop-color="#46307e"/><stop offset="0.3438" stop-color="#2f6b8e"/><stop offset="0.4062" stop-color="#277f8e"/><stop offset="0.4688" stop-color="#34618d"/><stop offset="0.5312" stop-color="#2b758e"/><stop offset="0.5938" stop-color="#33628d"/><stop offset="0.6562" stop-color="#33628d"/><stop offset="0.7188" stop-color="#33628d"/><stop offset="0.7812" stop-color="#2f6c8e"/><stop offset="0.8438" stop-color="#2b758e"/><stop offset="0.9062" stop-color="#39558c"/><stop offset="0.9688" stop-color="#433e85"/></linearGradient>
<rect x="35.5" y="313.50" width="172.4" height="2.60" fill="url(#gc18)"/>
<linearGradient id="gc19" gradientUnits="userSpaceOnUse" x1="41.5" x2="201.9" y1="0" y2="0"><stop offset="0.0312" stop-color="#39568c"/><stop offset="0.0938" stop-color="#423f85"/><stop offset="0.1562" stop-color="#46337f"/><stop offset="0.2188" stop-color="#482576"/><stop offset="0.2812" stop-color="#3e4989"/><stop offset="0.3438" stop-color="#2b748e"/><stop offset="0.4062" stop-color="#277f8e"/><stop offset="0.4688" stop-color="#34618d"/><stop offset="0.5312" stop-color="#2f6b8e"/><stop offset="0.5938" stop-color="#423f85"/><stop offset="0.6562" stop-color="#423f85"/><stop offset="0.7188" stop-color="#423f85"/><stop offset="0.7812" stop-color="#39568c"/><stop offset="0.8438" stop-color="#2f6b8e"/><stop offset="0.9062" stop-color="#2f6b8e"/><stop offset="0.9688" stop-color="#433e85"/></linearGradient>
<rect x="35.5" y="315.71" width="172.4" height="2.60" fill="url(#gc19)"/>
<linearGradient id="gc20" gradientUnits="userSpaceOnUse" x1="41.5" x2="201.9" y1="0" y2="0"><stop offset="0.0312" stop-color="#423f85"/><stop offset="0.0938" stop-color="#48186a"/><stop offset="0.1562" stop-color="#48186a"/><stop offset="0.2188" stop-color="#481769"/><stop offset="0.2812" stop-color="#34608d"/><stop offset="0.3438" stop-color="#277f8e"/><stop offset="0.4062" stop-color="#277f8e"/><stop offset="0.4688" stop-color="#34618d"/><stop offset="0.5312" stop-color="#34618d"/><stop offset="0.5938" stop-color="#48186a"/><stop offset="0.6562" stop-color="#48186a"/><stop offset="0.7188" stop-color="#48186a"/><stop offset="0.7812" stop-color="#423f85"/><stop offset="0.8438" stop-color="#34618d"/><stop offset="0.9062" stop-color="#277e8e"/><stop offset="0.9688" stop-color="#433e85"/></linearGradient>
<rect x="35.5" y="317.91" width="172.4" height="2.60" fill="url(#gc20)"/>
<linearGradient id="gc21" gradientUnits="userSpaceOnUse" x1="41.5" x2="201.9" y1="0" y2="0"><stop offset="0.0312" stop-color="#39558c"/><stop offset="0.0938" stop-color="#433e85"/><stop offset="0.1562" stop-color="#433e85"/><stop offset="0.2188" stop-color="#3e4989"/><stop offset="0.2812" stop-color="#2b748e"/><stop offset="0.3438" stop-color="#23888e"/><stop offset="0.4062" stop-color="#23888e"/><stop offset="0.4688" stop-color="#2b748e"/><stop offset="0.5312" stop-color="#2f6b8e"/><stop offset="0.5938" stop-color="#433e85"/><stop offset="0.6562" stop-color="#433e85"/><stop offset="0.7188" stop-color="#433e85"/><stop offset="0.7812" stop-color="#3e4a89"/><stop offset="0.8438" stop-color="#2f6b8e"/><stop offset="0.9062" stop-color="#277f8e"/><stop offset="0.9688" stop-color="#39558c"/></linearGradient>
<rect x="35.5" y="320.11" width="172.4" height="2.60" fill="url(#gc21)"/>
<linearGradient id="gc22" gradientUnits="userSpaceOnUse" x1="41.5" x2="201.9" y1="0" y2="0"><stop offset="0.0312" stop-color="#2f6b8e"/><stop offset="0.0938" stop-color="#34608d"/><stop offset="0.1562" stop-color="#34608d"/><stop offset="0.2188" stop-color="#2b748e"/><stop offset="0.2812" stop-color="#23888e"/><stop offset="0.3438" stop-color="#20928c"/><stop offset="0.4062" stop-color="#20928c"/><stop offset="0.4688" stop-color="#23888e"/><stop offset="0.5312" stop-color="#2b748e"/><stop offset="0.5938" stop-color="#34608d"/><stop offset="0.6562" stop-color="#34608d"/><stop offset="0.7188" stop-color="#34608d"/><stop offset="0.7812" stop-color="#39558c"/><stop offset="0.8438" stop-color="#2b748e"/><stop offset="0.9062" stop-color="#277f8e"/><stop offset="0.9688" stop-color="#2f6b8e"/></linearGradient>
<rect x="35.5" y="322.31" width="172.4" height="2.60" fill="url(#gc22)"/>
<linearGradient id="gc23" gradientUnits="userSpaceOnUse" x1="41.5" x2="201.9" y1="0" y2="0"><stop offset="0.0312" stop-color="#277f8e"/><stop offset="0.0938" stop-color="#277f8e"/><stop offset="0.1562" stop-color="#277f8e"/><stop offset="0.2188" stop-color="#1e9c89"/><stop offset="0.2812" stop-color="#1e9c89"/><stop offset="0.3438" stop-color="#1e9c89"/><stop offset="0.4062" stop-color="#1e9c89"/><stop offset="0.4688" stop-color="#1e9c89"/><stop offset="0.5312" stop-color="#277f8e"/><stop offset="0.5938" stop-color="#277f8e"/><stop offset="0.6562" stop-color="#277f8e"/><stop offset="0.7188" stop-color="#277f8e"/><stop offset="0.7812" stop-color="#34618d"/><stop offset="0.8438" stop-color="#277f8e"/><stop offset="0.9062" stop-color="#277f8e"/><stop offset="0.9688" stop-color="#277f8e"/></linearGradient>
<rect x="35.5" y="324.52" width="172.4" height="2.60" fill="url(#gc23)"/>
<linearGradient id="gc24" gradientUnits="userSpaceOnUse" x1="41.5" x2="201.9" y1="0" y2="0"><stop offset="0.0312" stop-color="#34618d"/><stop offset="0.0938" stop-color="#34618d"/><stop offset="0.1562" stop-color="#2f6b8e"/><stop offset="0.2188" stop-color="#1e9c89"/><stop offset="0.2812" stop-color="#21a685"/><stop offset="0.3438" stop-color="#21a685"/><stop offset="0.4062" stop-color="#1e9c89"/><stop offset="0.4688" stop-color="#1e9c89"/><stop offset="0.5312" stop-color="#20928c"/><stop offset="0.5938" stop-color="#23888e"/><stop offset="0.6562" stop-color="#23888e"/><stop offset="0.7188" stop-color="#23888e"/><stop offset="0.7812" stop-color="#2b748e"/><stop offset="0.8438" stop-color="#23888e"/><stop offset="0.9062" stop-color="#23888e"/><stop offset="0.9688" stop-color="#23888e"/></linearGradient>
<rect x="35.5" y="326.72" width="172.4" height="2.60" fill="url(#gc24)"/>
<linearGradient id="gc25" gradientUnits="userSpaceOnUse" x1="41.5" x2="201.9" y1="0" y2="0"><stop offset="0.0312" stop-color="#423f85"/><stop offset="0.0938" stop-color="#423f85"/><stop offset="0.1562" stop-color="#39558c"/><stop offset="0.2188" stop-color="#1e9c89"/><stop offset="0.2812" stop-color="#29af7f"/><stop offset="0.3438" stop-color="#29af7f"/><stop offset="0.4062" stop-color="#1e9c89"/><stop offset="0.4688" stop-color="#1e9c89"/><stop offset="0.5312" stop-color="#21a685"/><stop offset="0.5938" stop-color="#20928c"/><stop offset="0.6562" stop-color="#20928c"/><stop offset="0.7188" stop-color="#20928c"/><stop offset="0.7812" stop-color="#23888e"/><stop offset="0.8438" stop-color="#20928c"/><stop offset="0.9062" stop-color="#20928c"/><stop offset="0.9688" stop-color="#20928c"/></linearGradient>
<rect x="35.5" y="328.92" width="172.4" height="2.60" fill="url(#gc25)"/>
<linearGradient id="gc26" gradientUnits="userSpaceOnUse" x1="41.5" x2="201.9" y1="0" y2="0"><stop offset="0.0312" stop-color="#481769"/><stop offset="0.0938" stop-color="#481769"/><stop offset="0.1562" stop-color="#423f85"/><stop offset="0.2188" stop-color="#1e9c89"/><stop offset="0.2812" stop-color="#38b977"/><stop offset="0.3438" stop-color="#38b977"/><stop offset="0.4062" stop-color="#1e9c89"/><stop offset="0.4688" stop-color="#1e9c89"/><stop offset="0.5312" stop-color="#37b878"/><stop offset="0.5938" stop-color="#1e9c89"/><stop offset="0.6562" stop-color="#1e9c89"/><stop offset="0.7188" stop-color="#1e9c89"/><stop offset="0.7812" stop-color="#1e9c89"/><stop offset="0.8438" stop-color="#1e9c89"/><stop offset="0.9062" stop-color="#1e9c89"/><stop offset="0.9688" stop-color="#1e9c89"/></linearGradient>
<rect x="35.5" y="331.12" width="172.4" height="2.60" fill="url(#gc26)"/>
<linearGradient id="gc27" gradientUnits="userSpaceOnUse" x1="41.5" x2="201.9" y1="0" y2="0"><stop offset="0.0312" stop-color="#375a8c"/><stop offset="0.0938" stop-color="#375a8c"/><stop offset="0.1562" stop-color="#2c718e"/><stop offset="0.2188" stop-color="#32b67a"/><stop offset="0.2812" stop-color="#5ec962"/><stop offset="0.3438" stop-color="#50c46a"/><stop offset="0.4062" stop-color="#29af7f"/><stop offset="0.4688" stop-color="#23a983"/><stop offset="0.5312" stop-color="#50c46a"/><stop offset="0.5938" stop-color="#29af7f"/><stop offset="0.6562" stop-color="#29af7f"/><stop offset="0.7188" stop-color="#23a983"/><stop offset="0.7812" stop-color="#23a983"/><stop offset="0.8438" stop-color="#23a983"/><stop offset="0.9062" stop-color="#1fa287"/><stop offset="0.9688" stop-color="#1fa287"/></linearGradient>
<rect x="35.5" y="333.33" width="172.4" height="2.60" fill="url(#gc27)"/>
<linearGradient id="gc28" gradientUnits="userSpaceOnUse" x1="41.5" x2="201.9" y1="0" y2="0"><stop offset="0.0312" stop-color="#23888e"/><stop offset="0.0938" stop-color="#23888e"/><stop offset="0.1562" stop-color="#1f9a8a"/><stop offset="0.2188" stop-color="#5ec962"/><stop offset="0.2812" stop-color="#8bd646"/><stop offset="0.3438" stop-color="#6ccd5a"/><stop offset="0.4062" stop-color="#44bf70"/><stop offset="0.4688" stop-color="#2fb47c"/><stop offset="0.5312" stop-color="#6ccd5a"/><stop offset="0.5938" stop-color="#44bf70"/><stop offset="0.6562" stop-color="#44bf70"/><stop offset="0.7188" stop-color="#2fb47c"/><stop offset="0.7812" stop-color="#2fb47c"/><stop offset="0.8438" stop-color="#2fb47c"/><stop offset="0.9062" stop-color="#22a884"/><stop offset="0.9688" stop-color="#22a884"/></linearGradient>
<rect x="35.5" y="335.53" width="172.4" height="2.05" fill="url(#gc28)"/>
<linearGradient id="gc29" gradientUnits="userSpaceOnUse" x1="41.5" x2="201.9" y1="0" y2="0"><stop offset="0.0312" stop-color="#218e8d"/><stop offset="0.0938" stop-color="#20928c"/><stop offset="0.1562" stop-color="#28ae80"/><stop offset="0.2188" stop-color="#8bd646"/><stop offset="0.2812" stop-color="#bddf26"/><stop offset="0.3438" stop-color="#95d840"/><stop offset="0.4062" stop-color="#65cb5e"/><stop offset="0.4688" stop-color="#44bf70"/><stop offset="0.5312" stop-color="#8bd646"/><stop offset="0.5938" stop-color="#65cb5e"/><stop offset="0.6562" stop-color="#5cc863"/><stop offset="0.7188" stop-color="#44bf70"/><stop offset="0.7812" stop-color="#44bf70"/><stop offset="0.8438" stop-color="#3fbc73"/><stop offset="0.9062" stop-color="#28ae80"/><stop offset="0.9688" stop-color="#28ae80"/></linearGradient>
<rect x="35.5" y="337.18" width="172.4" height="2.05" fill="url(#gc29)"/>
<linearGradient id="gc30" gradientUnits="userSpaceOnUse" x1="41.5" x2="201.9" y1="0" y2="0"><stop offset="0.0312" stop-color="#2d708e"/><stop offset="0.0938" stop-color="#297b8e"/><stop offset="0.1562" stop-color="#32b67a"/><stop offset="0.2188" stop-color="#b2dd2d"/><stop offset="0.2812" stop-color="#fbe723"/><stop offset="0.3438" stop-color="#d2e21b"/><stop offset="0.4062" stop-color="#8bd646"/><stop offset="0.4688" stop-color="#65cb5e"/><stop offset="0.5312" stop-color="#b2dd2d"/><stop offset="0.5938" stop-color="#8bd646"/><stop offset="0.6562" stop-color="#6ece58"/><stop offset="0.7188" stop-color="#65cb5e"/><stop offset="0.7812" stop-color="#65cb5e"/><stop offset="0.8438" stop-color="#4cc26c"/><stop offset="0.9062" stop-color="#32b67a"/><stop offset="0.9688" stop-color="#32b67a"/></linearGradient>
<rect x="35.5" y="338.82" width="172.4" height="2.05" fill="url(#gc30)"/>
<linearGradient id="gc31" gradientUnits="userSpaceOnUse" x1="41.5" x2="201.9" y1="0" y2="0"><stop offset="0.0312" stop-color="#238a8d"/><stop offset="0.0938" stop-color="#26828e"/><stop offset="0.1562" stop-color="#25ab82"/><stop offset="0.2188" stop-color="#bddf26"/><stop offset="0.2812" stop-color="#fde725"/><stop offset="0.3438" stop-color="#fbe723"/><stop offset="0.4062" stop-color="#b2dd2d"/><stop offset="0.4688" stop-color="#8bd646"/><stop offset="0.5312" stop-color="#a8db34"/><stop offset="0.5938" stop-color="#95d840"/><stop offset="0.6562" stop-color="#81d34d"/><stop offset="0.7188" stop-color="#81d34d"/><stop offset="0.7812" stop-color="#81d34d"/><stop offset="0.8438" stop-color="#5cc863"/><stop offset="0.9062" stop-color="#2db27d"/><stop offset="0.9688" stop-color="#32b67a"/></linearGradient>
<rect x="35.5" y="340.47" width="172.4" height="2.05" fill="url(#gc31)"/>
<linearGradient id="gc32" gradientUnits="userSpaceOnUse" x1="41.5" x2="201.9" y1="0" y2="0"><stop offset="0.0312" stop-color="#81d34d"/><stop offset="0.0938" stop-color="#22a785"/><stop offset="0.1562" stop-color="#218e8d"/><stop offset="0.2188" stop-color="#a8db34"/><stop offset="0.2812" stop-color="#fde725"/><stop offset="0.3438" stop-color="#fde725"/><stop offset="0.4062" stop-color="#dde318"/><stop offset="0.4688" stop-color="#b2dd2d"/><stop offset="0.5312" stop-color="#6ece58"/><stop offset="0.5938" stop-color="#81d34d"/><stop offset="0.6562" stop-color="#95d840"/><stop offset="0.7188" stop-color="#95d840"/><stop offset="0.7812" stop-color="#95d840"/><stop offset="0.8438" stop-color="#6ece58"/><stop offset="0.9062" stop-color="#20a386"/><stop offset="0.9688" stop-color="#28ae80"/></linearGradient>
<rect x="35.5" y="342.12" width="172.4" height="2.05" fill="url(#gc32)"/>
<linearGradient id="gc33" gradientUnits="userSpaceOnUse" x1="41.5" x2="201.9" y1="0" y2="0"><stop offset="0.0312" stop-color="#fbe723"/><stop offset="0.0938" stop-color="#65cb5e"/><stop offset="0.1562" stop-color="#1fa088"/><stop offset="0.2188" stop-color="#b2dd2d"/><stop offset="0.2812" stop-color="#fde725"/><stop offset="0.3438" stop-color="#fde725"/><stop offset="0.4062" stop-color="#f1e51d"/><stop offset="0.4688" stop-color="#c8e020"/><stop offset="0.5312" stop-color="#65cb5e"/><stop offset="0.5938" stop-color="#8bd646"/><stop offset="0.6562" stop-color="#a8db34"/><stop offset="0.7188" stop-color="#b2dd2d"/><stop offset="0.7812" stop-color="#a8db34"/><stop offset="0.8438" stop-color="#81d34d"/><stop offset="0.9062" stop-color="#238a8d"/><stop offset="0.9688" stop-color="#1f948c"/></linearGradient>
<rect x="35.5" y="343.76" width="172.4" height="2.05" fill="url(#gc33)"/>
<linearGradient id="gc34" gradientUnits="userSpaceOnUse" x1="41.5" x2="201.9" y1="0" y2="0"><stop offset="0.0312" stop-color="#fde725"/><stop offset="0.0938" stop-color="#dde318"/><stop offset="0.1562" stop-color="#95d840"/><stop offset="0.2188" stop-color="#dde318"/><stop offset="0.2812" stop-color="#fde725"/><stop offset="0.3438" stop-color="#fde725"/><stop offset="0.4062" stop-color="#f1e51d"/><stop offset="0.4688" stop-color="#c8e020"/><stop offset="0.5312" stop-color="#8bd646"/><stop offset="0.5938" stop-color="#b2dd2d"/><stop offset="0.6562" stop-color="#bddf26"/><stop offset="0.7188" stop-color="#dde318"/><stop offset="0.7812" stop-color="#bddf26"/><stop offset="0.8438" stop-color="#95d840"/><stop offset="0.9062" stop-color="#32658e"/><stop offset="0.9688" stop-color="#30698e"/></linearGradient>
<rect x="35.5" y="345.41" width="172.4" height="2.05" fill="url(#gc34)"/>
<linearGradient id="gc35" gradientUnits="userSpaceOnUse" x1="41.5" x2="201.9" y1="0" y2="0"><stop offset="0.0312" stop-color="#fde725"/><stop offset="0.0938" stop-color="#fde725"/><stop offset="0.1562" stop-color="#f1e51d"/><stop offset="0.2188" stop-color="#f1e51d"/><stop offset="0.2812" stop-color="#fde725"/><stop offset="0.3438" stop-color="#fde725"/><stop offset="0.4062" stop-color="#f1e51d"/><stop offset="0.4688" stop-color="#c8e020"/><stop offset="0.5312" stop-color="#a0da39"/><stop offset="0.5938" stop-color="#c8e020"/><stop offset="0.6562" stop-color="#c8e020"/><stop offset="0.7188" stop-color="#f1e51d"/><stop offset="0.7812" stop-color="#c8e020"/><stop offset="0.8438" stop-color="#a0da39"/><stop offset="0.9062" stop-color="#3c508b"/><stop offset="0.9688" stop-color="#3c508b"/></linearGradient>
<rect x="35.5" y="347.05" width="172.4" height="8.05" fill="url(#gc35)"/>
<clipPath id="cuc"><rect x="33.5" y="209.0" width="176.4" height="70.85"/></clipPath>
<g clip-path="url(#cuc)">
<linearGradient id="uc0" gradientUnits="userSpaceOnUse" x1="41.5" x2="201.9" y1="0" y2="0"><stop offset="0.0312" stop-color="#3c508b"/><stop offset="0.0938" stop-color="#2d708e"/><stop offset="0.1562" stop-color="#277f8e"/><stop offset="0.2188" stop-color="#277f8e"/><stop offset="0.2812" stop-color="#277f8e"/><stop offset="0.3438" stop-color="#2d708e"/><stop offset="0.4062" stop-color="#277f8e"/><stop offset="0.4688" stop-color="#1e9c89"/><stop offset="0.5312" stop-color="#c8e020"/><stop offset="0.5938" stop-color="#f1e51d"/><stop offset="0.6562" stop-color="#77d153"/><stop offset="0.7188" stop-color="#1e9c89"/><stop offset="0.7812" stop-color="#1e9c89"/><stop offset="0.8438" stop-color="#1e9c89"/><stop offset="0.9062" stop-color="#1e9c89"/><stop offset="0.9688" stop-color="#1e9c89"/></linearGradient>
<path d="M35.5 279.9 L41.4 279.9 L47.4 277.7 L53.3 275.3 L59.3 272.9 L65.2 270.3 L71.2 267.5 L77.1 264.7 L83.1 261.8 L89.0 258.7 L94.9 255.5 L100.9 252.2 L106.8 248.9 L112.8 245.4 L118.7 241.8 L124.7 238.2 L130.6 234.5 L136.6 230.7 L142.5 226.8 L148.5 222.9 L154.4 218.9 L160.3 214.9 L166.3 210.8 L172.2 206.7 L178.2 202.5 L184.1 198.3 L190.1 194.1 L196.0 189.8 L202.0 185.6 L207.9 185.6 L207.9 281.9 L35.5 281.9Z" fill="url(#uc0)"/>
<linearGradient id="uc1" gradientUnits="userSpaceOnUse" x1="41.5" x2="201.9" y1="0" y2="0"><stop offset="0.0312" stop-color="#3c508b"/><stop offset="0.0938" stop-color="#2d708e"/><stop offset="0.1562" stop-color="#277f8e"/><stop offset="0.2188" stop-color="#277f8e"/><stop offset="0.2812" stop-color="#277f8e"/><stop offset="0.3438" stop-color="#2f6c8e"/><stop offset="0.4062" stop-color="#26828e"/><stop offset="0.4688" stop-color="#20a386"/><stop offset="0.5312" stop-color="#a8db34"/><stop offset="0.5938" stop-color="#c8e020"/><stop offset="0.6562" stop-color="#5cc863"/><stop offset="0.7188" stop-color="#1f988b"/><stop offset="0.7812" stop-color="#20928c"/><stop offset="0.8438" stop-color="#1e9c89"/><stop offset="0.9062" stop-color="#1e9c89"/><stop offset="0.9688" stop-color="#1f988b"/></linearGradient>
<path d="M35.5 279.9 L41.4 279.9 L47.4 278.5 L53.3 277.0 L59.3 275.4 L65.2 273.8 L71.2 272.1 L77.1 270.3 L83.1 268.4 L89.0 266.5 L94.9 264.4 L100.9 262.4 L106.8 260.2 L112.8 258.0 L118.7 255.8 L124.7 253.5 L130.6 251.1 L136.6 248.7 L142.5 246.3 L148.5 243.8 L154.4 241.3 L160.3 238.7 L166.3 236.1 L172.2 233.5 L178.2 230.9 L184.1 228.2 L190.1 225.5 L196.0 222.8 L202.0 220.1 L207.9 220.1 L207.9 281.9 L35.5 281.9Z" fill="url(#uc1)"/>
<linearGradient id="uc2" gradientUnits="userSpaceOnUse" x1="41.5" x2="201.9" y1="0" y2="0"><stop offset="0.0312" stop-color="#3c508b"/><stop offset="0.0938" stop-color="#2d708e"/><stop offset="0.1562" stop-color="#277f8e"/><stop offset="0.2188" stop-color="#277f8e"/><stop offset="0.2812" stop-color="#277f8e"/><stop offset="0.3438" stop-color="#32658e"/><stop offset="0.4062" stop-color="#238a8d"/><stop offset="0.4688" stop-color="#2db27d"/><stop offset="0.5312" stop-color="#6ece58"/><stop offset="0.5938" stop-color="#77d153"/><stop offset="0.6562" stop-color="#32b67a"/><stop offset="0.7188" stop-color="#20928c"/><stop offset="0.7812" stop-color="#297b8e"/><stop offset="0.8438" stop-color="#1e9c89"/><stop offset="0.9062" stop-color="#1e9c89"/><stop offset="0.9688" stop-color="#20928c"/></linearGradient>
<path d="M35.5 279.9 L41.4 279.9 L47.4 278.5 L53.3 277.1 L59.3 275.7 L65.2 274.1 L71.2 272.5 L77.1 270.8 L83.1 269.0 L89.0 267.2 L94.9 265.3 L100.9 263.3 L106.8 261.3 L112.8 259.2 L118.7 257.0 L124.7 254.9 L130.6 252.6 L136.6 250.4 L142.5 248.0 L148.5 245.7 L154.4 243.3 L160.3 240.9 L166.3 238.4 L172.2 236.0 L178.2 233.5 L184.1 230.9 L190.1 228.4 L196.0 225.8 L202.0 223.3 L207.9 223.3 L207.9 281.9 L35.5 281.9Z" fill="url(#uc2)"/>
<linearGradient id="uc3" gradientUnits="userSpaceOnUse" x1="41.5" x2="201.9" y1="0" y2="0"><stop offset="0.0312" stop-color="#3c508b"/><stop offset="0.0938" stop-color="#2d708e"/><stop offset="0.1562" stop-color="#277f8e"/><stop offset="0.2188" stop-color="#277f8e"/><stop offset="0.2812" stop-color="#277f8e"/><stop offset="0.3438" stop-color="#34618d"/><stop offset="0.4062" stop-color="#20928c"/><stop offset="0.4688" stop-color="#44bf70"/><stop offset="0.5312" stop-color="#4cc26c"/><stop offset="0.5938" stop-color="#4cc26c"/><stop offset="0.6562" stop-color="#2db27d"/><stop offset="0.7188" stop-color="#1fa088"/><stop offset="0.7812" stop-color="#297b8e"/><stop offset="0.8438" stop-color="#1f948c"/><stop offset="0.9062" stop-color="#1f988b"/><stop offset="0.9688" stop-color="#218e8d"/></linearGradient>
<path d="M35.5 279.9 L41.4 279.9 L47.4 278.6 L53.3 277.3 L59.3 275.9 L65.2 274.4 L71.2 272.9 L77.1 271.3 L83.1 269.6 L89.0 267.9 L94.9 266.1 L100.9 264.2 L106.8 262.3 L112.8 260.3 L118.7 258.3 L124.7 256.3 L130.6 254.1 L136.6 252.0 L142.5 249.8 L148.5 247.6 L154.4 245.3 L160.3 243.0 L166.3 240.7 L172.2 238.4 L178.2 236.0 L184.1 233.7 L190.1 231.3 L196.0 228.8 L202.0 226.4 L207.9 226.4 L207.9 281.9 L35.5 281.9Z" fill="url(#uc3)"/>
<linearGradient id="uc4" gradientUnits="userSpaceOnUse" x1="41.5" x2="201.9" y1="0" y2="0"><stop offset="0.0312" stop-color="#3c508b"/><stop offset="0.0938" stop-color="#2d708e"/><stop offset="0.1562" stop-color="#277f8e"/><stop offset="0.2188" stop-color="#277f8e"/><stop offset="0.2812" stop-color="#277f8e"/><stop offset="0.3438" stop-color="#34618d"/><stop offset="0.4062" stop-color="#1f988b"/><stop offset="0.4688" stop-color="#65cb5e"/><stop offset="0.5312" stop-color="#3fbc73"/><stop offset="0.5938" stop-color="#3fbc73"/><stop offset="0.6562" stop-color="#44bf70"/><stop offset="0.7188" stop-color="#4cc26c"/><stop offset="0.7812" stop-color="#20928c"/><stop offset="0.8438" stop-color="#24868e"/><stop offset="0.9062" stop-color="#20928c"/><stop offset="0.9688" stop-color="#218e8d"/></linearGradient>
<path d="M35.5 279.9 L41.4 279.9 L47.4 278.7 L53.3 277.4 L59.3 276.1 L65.2 274.7 L71.2 273.3 L77.1 271.8 L83.1 270.2 L89.0 268.6 L94.9 266.9 L100.9 265.1 L106.8 263.3 L112.8 261.5 L118.7 259.6 L124.7 257.6 L130.6 255.7 L136.6 253.6 L142.5 251.6 L148.5 249.5 L154.4 247.4 L160.3 245.2 L166.3 243.0 L172.2 240.8 L178.2 238.6 L184.1 236.4 L190.1 234.1 L196.0 231.8 L202.0 229.6 L207.9 229.6 L207.9 281.9 L35.5 281.9Z" fill="url(#uc4)"/>
<linearGradient id="uc5" gradientUnits="userSpaceOnUse" x1="41.5" x2="201.9" y1="0" y2="0"><stop offset="0.0312" stop-color="#3c508b"/><stop offset="0.0938" stop-color="#2d708e"/><stop offset="0.1562" stop-color="#277f8e"/><stop offset="0.2188" stop-color="#277f8e"/><stop offset="0.2812" stop-color="#277f8e"/><stop offset="0.3438" stop-color="#32658e"/><stop offset="0.4062" stop-color="#1fa088"/><stop offset="0.4688" stop-color="#81d34d"/><stop offset="0.5312" stop-color="#32b67a"/><stop offset="0.5938" stop-color="#38b977"/><stop offset="0.6562" stop-color="#5cc863"/><stop offset="0.7188" stop-color="#81d34d"/><stop offset="0.7812" stop-color="#22a785"/><stop offset="0.8438" stop-color="#297b8e"/><stop offset="0.9062" stop-color="#238a8d"/><stop offset="0.9688" stop-color="#238a8d"/></linearGradient>
<path d="M35.5 279.9 L41.4 279.9 L47.4 278.8 L53.3 277.6 L59.3 276.4 L65.2 275.1 L71.2 273.7 L77.1 272.3 L83.1 270.8 L89.0 269.3 L94.9 267.7 L100.9 266.1 L106.8 264.4 L112.8 262.6 L118.7 260.8 L124.7 259.0 L130.6 257.2 L136.6 255.3 L142.5 253.3 L148.5 251.4 L154.4 249.4 L160.3 247.4 L166.3 245.3 L172.2 243.3 L178.2 241.2 L184.1 239.1 L190.1 237.0 L196.0 234.8 L202.0 232.7 L207.9 232.7 L207.9 281.9 L35.5 281.9Z" fill="url(#uc5)"/>
<linearGradient id="uc6" gradientUnits="userSpaceOnUse" x1="41.5" x2="201.9" y1="0" y2="0"><stop offset="0.0312" stop-color="#3c508b"/><stop offset="0.0938" stop-color="#2d708e"/><stop offset="0.1562" stop-color="#277f8e"/><stop offset="0.2188" stop-color="#277f8e"/><stop offset="0.2812" stop-color="#277f8e"/><stop offset="0.3438" stop-color="#2f6c8e"/><stop offset="0.4062" stop-color="#22a785"/><stop offset="0.4688" stop-color="#95d840"/><stop offset="0.5312" stop-color="#28ae80"/><stop offset="0.5938" stop-color="#38b977"/><stop offset="0.6562" stop-color="#6ece58"/><stop offset="0.7188" stop-color="#95d840"/><stop offset="0.7812" stop-color="#3fbc73"/><stop offset="0.8438" stop-color="#2c738e"/><stop offset="0.9062" stop-color="#26828e"/><stop offset="0.9688" stop-color="#26828e"/></linearGradient>
<path d="M35.5 279.9 L41.4 279.9 L47.4 278.8 L53.3 277.7 L59.3 276.6 L65.2 275.4 L71.2 274.1 L77.1 272.8 L83.1 271.4 L89.0 270.0 L94.9 268.5 L100.9 267.0 L106.8 265.4 L112.8 263.8 L118.7 262.1 L124.7 260.4 L130.6 258.7 L136.6 256.9 L142.5 255.1 L148.5 253.3 L154.4 251.4 L160.3 249.5 L166.3 247.6 L172.2 245.7 L178.2 243.8 L184.1 241.8 L190.1 239.8 L196.0 237.8 L202.0 235.9 L207.9 235.9 L207.9 281.9 L35.5 281.9Z" fill="url(#uc6)"/>
<linearGradient id="uc7" gradientUnits="userSpaceOnUse" x1="41.5" x2="201.9" y1="0" y2="0"><stop offset="0.0312" stop-color="#3c508b"/><stop offset="0.0938" stop-color="#2d708e"/><stop offset="0.1562" stop-color="#277f8e"/><stop offset="0.2188" stop-color="#277f8e"/><stop offset="0.2812" stop-color="#277f8e"/><stop offset="0.3438" stop-color="#2c738e"/><stop offset="0.4062" stop-color="#22a785"/><stop offset="0.4688" stop-color="#95d840"/><stop offset="0.5312" stop-color="#32b67a"/><stop offset="0.5938" stop-color="#32b67a"/><stop offset="0.6562" stop-color="#65cb5e"/><stop offset="0.7188" stop-color="#81d34d"/><stop offset="0.7812" stop-color="#44bf70"/><stop offset="0.8438" stop-color="#2c738e"/><stop offset="0.9062" stop-color="#277f8e"/><stop offset="0.9688" stop-color="#277f8e"/></linearGradient>
<path d="M35.5 279.9 L41.4 279.9 L47.4 278.9 L53.3 277.9 L59.3 276.8 L65.2 275.7 L71.2 274.5 L77.1 273.3 L83.1 272.0 L89.0 270.7 L94.9 269.3 L100.9 267.9 L106.8 266.4 L112.8 264.9 L118.7 263.4 L124.7 261.8 L130.6 260.2 L136.6 258.6 L142.5 256.9 L148.5 255.2 L154.4 253.5 L160.3 251.7 L166.3 249.9 L172.2 248.2 L178.2 246.3 L184.1 244.5 L190.1 242.7 L196.0 240.8 L202.0 239.0 L207.9 239.0 L207.9 281.9 L35.5 281.9Z" fill="url(#uc7)"/>
<linearGradient id="uc8" gradientUnits="userSpaceOnUse" x1="41.5" x2="201.9" y1="0" y2="0"><stop offset="0.0312" stop-color="#3c508b"/><stop offset="0.0938" stop-color="#2d708e"/><stop offset="0.1562" stop-color="#277f8e"/><stop offset="0.2188" stop-color="#277f8e"/><stop offset="0.2812" stop-color="#277f8e"/><stop offset="0.3438" stop-color="#297b8e"/><stop offset="0.4062" stop-color="#1fa088"/><stop offset="0.4688" stop-color="#81d34d"/><stop offset="0.5312" stop-color="#5cc863"/><stop offset="0.5938" stop-color="#28ae80"/><stop offset="0.6562" stop-color="#44bf70"/><stop offset="0.7188" stop-color="#4cc26c"/><stop offset="0.7812" stop-color="#2db27d"/><stop offset="0.8438" stop-color="#297b8e"/><stop offset="0.9062" stop-color="#277f8e"/><stop offset="0.9688" stop-color="#277f8e"/></linearGradient>
<path d="M35.5 279.9 L41.4 279.9 L47.4 279.0 L53.3 278.0 L59.3 277.1 L65.2 276.0 L71.2 274.9 L77.1 273.8 L83.1 272.6 L89.0 271.4 L94.9 270.1 L100.9 268.8 L106.8 267.5 L112.8 266.1 L118.7 264.6 L124.7 263.2 L130.6 261.7 L136.6 260.2 L142.5 258.6 L148.5 257.1 L154.4 255.5 L160.3 253.9 L166.3 252.2 L172.2 250.6 L178.2 248.9 L184.1 247.2 L190.1 245.5 L196.0 243.8 L202.0 242.1 L207.9 242.1 L207.9 281.9 L35.5 281.9Z" fill="url(#uc8)"/>
<linearGradient id="uc9" gradientUnits="userSpaceOnUse" x1="41.5" x2="201.9" y1="0" y2="0"><stop offset="0.0312" stop-color="#3c508b"/><stop offset="0.0938" stop-color="#2d708e"/><stop offset="0.1562" stop-color="#297b8e"/><stop offset="0.2188" stop-color="#277f8e"/><stop offset="0.2812" stop-color="#297b8e"/><stop offset="0.3438" stop-color="#26828e"/><stop offset="0.4062" stop-color="#1f988b"/><stop offset="0.4688" stop-color="#65cb5e"/><stop offset="0.5312" stop-color="#8bd646"/><stop offset="0.5938" stop-color="#2db27d"/><stop offset="0.6562" stop-color="#2db27d"/><stop offset="0.7188" stop-color="#2db27d"/><stop offset="0.7812" stop-color="#22a785"/><stop offset="0.8438" stop-color="#26828e"/><stop offset="0.9062" stop-color="#297b8e"/><stop offset="0.9688" stop-color="#297b8e"/></linearGradient>
<path d="M35.5 279.9 L41.4 279.9 L47.4 279.0 L53.3 278.2 L59.3 277.3 L65.2 276.3 L71.2 275.3 L77.1 274.3 L83.1 273.2 L89.0 272.1 L94.9 270.9 L100.9 269.7 L106.8 268.5 L112.8 267.2 L118.7 265.9 L124.7 264.6 L130.6 263.2 L136.6 261.8 L142.5 260.4 L148.5 259.0 L154.4 257.5 L160.3 256.0 L166.3 254.5 L172.2 253.0 L178.2 251.5 L184.1 250.0 L190.1 248.4 L196.0 246.8 L202.0 245.3 L207.9 245.3 L207.9 281.9 L35.5 281.9Z" fill="url(#uc9)"/>
<linearGradient id="uc10" gradientUnits="userSpaceOnUse" x1="41.5" x2="201.9" y1="0" y2="0"><stop offset="0.0312" stop-color="#3c508b"/><stop offset="0.0938" stop-color="#2d708e"/><stop offset="0.1562" stop-color="#2c738e"/><stop offset="0.2188" stop-color="#277f8e"/><stop offset="0.2812" stop-color="#2c738e"/><stop offset="0.3438" stop-color="#238a8d"/><stop offset="0.4062" stop-color="#20928c"/><stop offset="0.4688" stop-color="#44bf70"/><stop offset="0.5312" stop-color="#b2dd2d"/><stop offset="0.5938" stop-color="#44bf70"/><stop offset="0.6562" stop-color="#20a386"/><stop offset="0.7188" stop-color="#20a386"/><stop offset="0.7812" stop-color="#1fa088"/><stop offset="0.8438" stop-color="#238a8d"/><stop offset="0.9062" stop-color="#2c738e"/><stop offset="0.9688" stop-color="#2c738e"/></linearGradient>
<path d="M35.5 279.9 L41.4 279.9 L47.4 279.1 L53.3 278.3 L59.3 277.5 L65.2 276.7 L71.2 275.8 L77.1 274.8 L83.1 273.8 L89.0 272.8 L94.9 271.7 L100.9 270.7 L106.8 269.5 L112.8 268.4 L118.7 267.2 L124.7 266.0 L130.6 264.7 L136.6 263.5 L142.5 262.2 L148.5 260.9 L154.4 259.5 L160.3 258.2 L166.3 256.8 L172.2 255.5 L178.2 254.1 L184.1 252.7 L190.1 251.3 L196.0 249.8 L202.0 248.4 L207.9 248.4 L207.9 281.9 L35.5 281.9Z" fill="url(#uc10)"/>
<linearGradient id="uc11" gradientUnits="userSpaceOnUse" x1="41.5" x2="201.9" y1="0" y2="0"><stop offset="0.0312" stop-color="#3c508b"/><stop offset="0.0938" stop-color="#2d708e"/><stop offset="0.1562" stop-color="#2d708e"/><stop offset="0.2188" stop-color="#277f8e"/><stop offset="0.2812" stop-color="#2f6c8e"/><stop offset="0.3438" stop-color="#20928c"/><stop offset="0.4062" stop-color="#20928c"/><stop offset="0.4688" stop-color="#2db27d"/><stop offset="0.5312" stop-color="#c8e020"/><stop offset="0.5938" stop-color="#5cc863"/><stop offset="0.6562" stop-color="#20a386"/><stop offset="0.7188" stop-color="#20a386"/><stop offset="0.7812" stop-color="#1fa088"/><stop offset="0.8438" stop-color="#218e8d"/><stop offset="0.9062" stop-color="#34618d"/><stop offset="0.9688" stop-color="#365d8d"/></linearGradient>
<path d="M35.5 279.9 L41.4 279.9 L47.4 279.2 L53.3 278.5 L59.3 277.8 L65.2 277.0 L71.2 276.2 L77.1 275.3 L83.1 274.4 L89.0 273.5 L94.9 272.6 L100.9 271.6 L106.8 270.6 L112.8 269.5 L118.7 268.5 L124.7 267.4 L130.6 266.2 L136.6 265.1 L142.5 263.9 L148.5 262.8 L154.4 261.6 L160.3 260.4 L166.3 259.1 L172.2 257.9 L178.2 256.7 L184.1 255.4 L190.1 254.1 L196.0 252.8 L202.0 251.6 L207.9 251.6 L207.9 281.9 L35.5 281.9Z" fill="url(#uc11)"/>
<linearGradient id="uc12" gradientUnits="userSpaceOnUse" x1="41.5" x2="201.9" y1="0" y2="0"><stop offset="0.0312" stop-color="#3c508b"/><stop offset="0.0938" stop-color="#2d708e"/><stop offset="0.1562" stop-color="#2d708e"/><stop offset="0.2188" stop-color="#277f8e"/><stop offset="0.2812" stop-color="#32658e"/><stop offset="0.3438" stop-color="#1f988b"/><stop offset="0.4062" stop-color="#1f988b"/><stop offset="0.4688" stop-color="#20a386"/><stop offset="0.5312" stop-color="#c8e020"/><stop offset="0.5938" stop-color="#6ece58"/><stop offset="0.6562" stop-color="#2db27d"/><stop offset="0.7188" stop-color="#2db27d"/><stop offset="0.7812" stop-color="#22a785"/><stop offset="0.8438" stop-color="#218e8d"/><stop offset="0.9062" stop-color="#433e85"/><stop offset="0.9688" stop-color="#46307e"/></linearGradient>
<path d="M35.5 279.9 L41.4 279.9 L47.4 279.3 L53.3 278.6 L59.3 278.0 L65.2 277.3 L71.2 276.6 L77.1 275.8 L83.1 275.0 L89.0 274.2 L94.9 273.4 L100.9 272.5 L106.8 271.6 L112.8 270.7 L118.7 269.7 L124.7 268.7 L130.6 267.8 L136.6 266.7 L142.5 265.7 L148.5 264.7 L154.4 263.6 L160.3 262.5 L166.3 261.4 L172.2 260.3 L178.2 259.2 L184.1 258.1 L190.1 257.0 L196.0 255.8 L202.0 254.7 L207.9 254.7 L207.9 281.9 L35.5 281.9Z" fill="url(#uc12)"/>
<linearGradient id="uc13" gradientUnits="userSpaceOnUse" x1="41.5" x2="201.9" y1="0" y2="0"><stop offset="0.0312" stop-color="#3c508b"/><stop offset="0.0938" stop-color="#2d708e"/><stop offset="0.1562" stop-color="#2d708e"/><stop offset="0.2188" stop-color="#277f8e"/><stop offset="0.2812" stop-color="#38598c"/><stop offset="0.3438" stop-color="#1fa088"/><stop offset="0.4062" stop-color="#20a386"/><stop offset="0.4688" stop-color="#20a386"/><stop offset="0.5312" stop-color="#b2dd2d"/><stop offset="0.5938" stop-color="#6ece58"/><stop offset="0.6562" stop-color="#3fbc73"/><stop offset="0.7188" stop-color="#3fbc73"/><stop offset="0.7812" stop-color="#22a785"/><stop offset="0.8438" stop-color="#26828e"/><stop offset="0.9062" stop-color="#433e85"/><stop offset="0.9688" stop-color="#443a83"/></linearGradient>
<path d="M35.5 279.9 L41.4 279.9 L47.4 279.3 L53.3 278.8 L59.3 278.2 L65.2 277.6 L71.2 277.0 L77.1 276.3 L83.1 275.6 L89.0 274.9 L94.9 274.2 L100.9 273.4 L106.8 272.6 L112.8 271.8 L118.7 271.0 L124.7 270.1 L130.6 269.3 L136.6 268.4 L142.5 267.5 L148.5 266.6 L154.4 265.6 L160.3 264.7 L166.3 263.7 L172.2 262.8 L178.2 261.8 L184.1 260.8 L190.1 259.8 L196.0 258.8 L202.0 257.9 L207.9 257.9 L207.9 281.9 L35.5 281.9Z" fill="url(#uc13)"/>
<linearGradient id="uc14" gradientUnits="userSpaceOnUse" x1="41.5" x2="201.9" y1="0" y2="0"><stop offset="0.0312" stop-color="#3c508b"/><stop offset="0.0938" stop-color="#2d708e"/><stop offset="0.1562" stop-color="#2d708e"/><stop offset="0.2188" stop-color="#277f8e"/><stop offset="0.2812" stop-color="#3f4788"/><stop offset="0.3438" stop-color="#22a785"/><stop offset="0.4062" stop-color="#2db27d"/><stop offset="0.4688" stop-color="#2db27d"/><stop offset="0.5312" stop-color="#8bd646"/><stop offset="0.5938" stop-color="#5cc863"/><stop offset="0.6562" stop-color="#4cc26c"/><stop offset="0.7188" stop-color="#4cc26c"/><stop offset="0.7812" stop-color="#1fa088"/><stop offset="0.8438" stop-color="#2f6c8e"/><stop offset="0.9062" stop-color="#34618d"/><stop offset="0.9688" stop-color="#2c738e"/></linearGradient>
<path d="M35.5 279.9 L41.4 279.9 L47.4 279.4 L53.3 278.9 L59.3 278.5 L65.2 277.9 L71.2 277.4 L77.1 276.8 L83.1 276.2 L89.0 275.6 L94.9 275.0 L100.9 274.3 L106.8 273.7 L112.8 273.0 L118.7 272.3 L124.7 271.5 L130.6 270.8 L136.6 270.0 L142.5 269.3 L148.5 268.5 L154.4 267.7 L160.3 266.9 L166.3 266.0 L172.2 265.2 L178.2 264.4 L184.1 263.5 L190.1 262.7 L196.0 261.8 L202.0 261.0 L207.9 261.0 L207.9 281.9 L35.5 281.9Z" fill="url(#uc14)"/>
<linearGradient id="uc15" gradientUnits="userSpaceOnUse" x1="41.5" x2="201.9" y1="0" y2="0"><stop offset="0.0312" stop-color="#3c508b"/><stop offset="0.0938" stop-color="#2d708e"/><stop offset="0.1562" stop-color="#2d708e"/><stop offset="0.2188" stop-color="#297b8e"/><stop offset="0.2812" stop-color="#433e85"/><stop offset="0.3438" stop-color="#28ae80"/><stop offset="0.4062" stop-color="#44bf70"/><stop offset="0.4688" stop-color="#44bf70"/><stop offset="0.5312" stop-color="#5cc863"/><stop offset="0.5938" stop-color="#4cc26c"/><stop offset="0.6562" stop-color="#54c568"/><stop offset="0.7188" stop-color="#4cc26c"/><stop offset="0.7812" stop-color="#1e9c89"/><stop offset="0.8438" stop-color="#32658e"/><stop offset="0.9062" stop-color="#2c738e"/><stop offset="0.9688" stop-color="#20928c"/></linearGradient>
<path d="M35.5 279.9 L41.4 279.9 L47.4 279.5 L53.3 279.1 L59.3 278.7 L65.2 278.3 L71.2 277.8 L77.1 277.3 L83.1 276.8 L89.0 276.3 L94.9 275.8 L100.9 275.3 L106.8 274.7 L112.8 274.1 L118.7 273.5 L124.7 272.9 L130.6 272.3 L136.6 271.7 L142.5 271.0 L148.5 270.4 L154.4 269.7 L160.3 269.0 L166.3 268.3 L172.2 267.7 L178.2 267.0 L184.1 266.3 L190.1 265.6 L196.0 264.9 L202.0 264.1 L207.9 264.1 L207.9 281.9 L35.5 281.9Z" fill="url(#uc15)"/>
<linearGradient id="uc16" gradientUnits="userSpaceOnUse" x1="41.5" x2="201.9" y1="0" y2="0"><stop offset="0.0312" stop-color="#3c508b"/><stop offset="0.0938" stop-color="#2d708e"/><stop offset="0.1562" stop-color="#2d708e"/><stop offset="0.2188" stop-color="#2c738e"/><stop offset="0.2812" stop-color="#433e85"/><stop offset="0.3438" stop-color="#32b67a"/><stop offset="0.4062" stop-color="#65cb5e"/><stop offset="0.4688" stop-color="#65cb5e"/><stop offset="0.5312" stop-color="#32b67a"/><stop offset="0.5938" stop-color="#3fbc73"/><stop offset="0.6562" stop-color="#54c568"/><stop offset="0.7188" stop-color="#3fbc73"/><stop offset="0.7812" stop-color="#1e9c89"/><stop offset="0.8438" stop-color="#2f6c8e"/><stop offset="0.9062" stop-color="#297b8e"/><stop offset="0.9688" stop-color="#1f988b"/></linearGradient>
<path d="M35.5 279.9 L41.4 279.9 L47.4 279.6 L53.3 279.3 L59.3 278.9 L65.2 278.6 L71.2 278.2 L77.1 277.8 L83.1 277.4 L89.0 277.0 L94.9 276.6 L100.9 276.2 L106.8 275.7 L112.8 275.3 L118.7 274.8 L124.7 274.3 L130.6 273.8 L136.6 273.3 L142.5 272.8 L148.5 272.3 L154.4 271.7 L160.3 271.2 L166.3 270.7 L172.2 270.1 L178.2 269.5 L184.1 269.0 L190.1 268.4 L196.0 267.9 L202.0 267.3 L207.9 267.3 L207.9 281.9 L35.5 281.9Z" fill="url(#uc16)"/>
<linearGradient id="uc17" gradientUnits="userSpaceOnUse" x1="41.5" x2="201.9" y1="0" y2="0"><stop offset="0.0312" stop-color="#3c508b"/><stop offset="0.0938" stop-color="#2d708e"/><stop offset="0.1562" stop-color="#2d708e"/><stop offset="0.2188" stop-color="#2d708e"/><stop offset="0.2812" stop-color="#3f4788"/><stop offset="0.3438" stop-color="#3fbc73"/><stop offset="0.4062" stop-color="#77d153"/><stop offset="0.4688" stop-color="#6ece58"/><stop offset="0.5312" stop-color="#1fa088"/><stop offset="0.5938" stop-color="#38b977"/><stop offset="0.6562" stop-color="#5cc863"/><stop offset="0.7188" stop-color="#38b977"/><stop offset="0.7812" stop-color="#1fa088"/><stop offset="0.8438" stop-color="#297b8e"/><stop offset="0.9062" stop-color="#24868e"/><stop offset="0.9688" stop-color="#1e9c89"/></linearGradient>
<path d="M35.5 279.9 L41.4 279.9 L47.4 279.6 L53.3 279.4 L59.3 279.2 L65.2 278.9 L71.2 278.6 L77.1 278.3 L83.1 278.0 L89.0 277.7 L94.9 277.4 L100.9 277.1 L106.8 276.8 L112.8 276.4 L118.7 276.1 L124.7 275.7 L130.6 275.3 L136.6 274.9 L142.5 274.6 L148.5 274.2 L154.4 273.8 L160.3 273.4 L166.3 273.0 L172.2 272.5 L178.2 272.1 L184.1 271.7 L190.1 271.3 L196.0 270.9 L202.0 270.4 L207.9 270.4 L207.9 281.9 L35.5 281.9Z" fill="url(#uc17)"/>
<linearGradient id="uc18" gradientUnits="userSpaceOnUse" x1="41.5" x2="201.9" y1="0" y2="0"><stop offset="0.0312" stop-color="#3c508b"/><stop offset="0.0938" stop-color="#2d708e"/><stop offset="0.1562" stop-color="#2d708e"/><stop offset="0.2188" stop-color="#2d708e"/><stop offset="0.2812" stop-color="#38598c"/><stop offset="0.3438" stop-color="#4cc26c"/><stop offset="0.4062" stop-color="#77d153"/><stop offset="0.4688" stop-color="#5cc863"/><stop offset="0.5312" stop-color="#238a8d"/><stop offset="0.5938" stop-color="#38b977"/><stop offset="0.6562" stop-color="#6ece58"/><stop offset="0.7188" stop-color="#38b977"/><stop offset="0.7812" stop-color="#22a785"/><stop offset="0.8438" stop-color="#20928c"/><stop offset="0.9062" stop-color="#1f948c"/><stop offset="0.9688" stop-color="#1e9c89"/></linearGradient>
<path d="M35.5 279.9 L41.4 279.9 L47.4 279.7 L53.3 279.6 L59.3 279.4 L65.2 279.2 L71.2 279.0 L77.1 278.8 L83.1 278.6 L89.0 278.4 L94.9 278.2 L100.9 278.0 L106.8 277.8 L112.8 277.6 L118.7 277.3 L124.7 277.1 L130.6 276.8 L136.6 276.6 L142.5 276.3 L148.5 276.1 L154.4 275.8 L160.3 275.5 L166.3 275.3 L172.2 275.0 L178.2 274.7 L184.1 274.4 L190.1 274.1 L196.0 273.9 L202.0 273.6 L207.9 273.6 L207.9 281.9 L35.5 281.9Z" fill="url(#uc18)"/>
<linearGradient id="uc19" gradientUnits="userSpaceOnUse" x1="41.5" x2="201.9" y1="0" y2="0"><stop offset="0.0312" stop-color="#3f4788"/><stop offset="0.0938" stop-color="#30698e"/><stop offset="0.1562" stop-color="#2a778e"/><stop offset="0.2188" stop-color="#2a768e"/><stop offset="0.2812" stop-color="#3a548c"/><stop offset="0.3438" stop-color="#44bf70"/><stop offset="0.4062" stop-color="#54c568"/><stop offset="0.4688" stop-color="#2db27d"/><stop offset="0.5312" stop-color="#27808e"/><stop offset="0.5938" stop-color="#37b878"/><stop offset="0.6562" stop-color="#73d056"/><stop offset="0.7188" stop-color="#35b779"/><stop offset="0.7812" stop-color="#20a386"/><stop offset="0.8438" stop-color="#1e9c89"/><stop offset="0.9062" stop-color="#1e9c89"/><stop offset="0.9688" stop-color="#1e9c89"/></linearGradient>
<path d="M35.5 279.9 L41.4 279.9 L47.4 279.8 L53.3 279.7 L59.3 279.6 L65.2 279.5 L71.2 279.4 L77.1 279.4 L83.1 279.3 L89.0 279.1 L94.9 279.0 L100.9 278.9 L106.8 278.8 L112.8 278.7 L118.7 278.6 L124.7 278.5 L130.6 278.3 L136.6 278.2 L142.5 278.1 L148.5 278.0 L154.4 277.8 L160.3 277.7 L166.3 277.6 L172.2 277.4 L178.2 277.3 L184.1 277.1 L190.1 277.0 L196.0 276.9 L202.0 276.7 L207.9 276.7 L207.9 281.9 L35.5 281.9Z" fill="url(#uc19)"/>
</g>
</g>
<g filter="url(#bl2)">
<ellipse cx="78.3" cy="297.0" rx="5" ry="1.6" fill="#f1e51d" opacity="1"/>
<ellipse cx="73.5" cy="301.5" rx="10" ry="1.8" fill="#472c7a" opacity="1"/>
<ellipse cx="91.2" cy="285.7" rx="4" ry="1.5" fill="#f1e51d" opacity="1"/>
<ellipse cx="76.7" cy="289.2" rx="4" ry="2" fill="#433e85" opacity="1"/>
</g>
</g>
<path d="M78.6 217.0 V348.7" stroke="#c6c6c6" stroke-width="0.8" fill="none" opacity="0.9"/>
<path d="M41.5 279.9 H201.9 M41.5 342.7 H201.9" stroke="#c6c6c6" stroke-width="0.8" fill="none" opacity="0.6"/>
<path d="M51.3 348.7 v2.2 M59.5 348.7 v2.2 M66.7 348.7 v2.2 M73.0 348.7 v2.2 M115.7 348.7 v2.2 M137.4 348.7 v2.2 M152.8 348.7 v2.2 M164.8 348.7 v2.2 M174.5 348.7 v2.2 M182.8 348.7 v2.2 M190.0 348.7 v2.2 M196.3 348.7 v2.2 M41.5 345.6 h-2.2 M41.5 323.8 h-2.2 M41.5 312.7 h-2.2 M41.5 304.9 h-2.2 M41.5 298.8 h-2.2 M41.5 293.8 h-2.2 M41.5 289.6 h-2.2 M41.5 285.9 h-2.2 M41.5 282.7 h-2.2 M41.5 260.9 h-2.2 M41.5 249.9 h-2.2 M41.5 242.0 h-2.2 M41.5 235.9 h-2.2 M41.5 230.9 h-2.2 M41.5 226.7 h-2.2 M41.5 223.1 h-2.2 M41.5 219.9 h-2.2" stroke="#bdbdbd" stroke-width="0.7" fill="none"/>
<path d="M78.6 348.7 v4.2 M201.9 348.7 v4.2 M41.5 342.7 h-4.2 M41.5 279.9 h-4.2 M41.5 217.0 h-4.2" stroke="#b8b8b8" stroke-width="0.8" fill="none"/>
<rect x="41.5" y="217.0" width="160.4" height="131.7" fill="none" stroke="#333" stroke-width="0.75"/>
<rect x="221.0" y="217.00" width="14.2" height="6.23" fill="#f1e51d" shape-rendering="crispEdges"/>
<rect x="221.0" y="222.73" width="14.2" height="6.23" fill="#d5e21a" shape-rendering="crispEdges"/>
<rect x="221.0" y="228.45" width="14.2" height="6.23" fill="#b8de29" shape-rendering="crispEdges"/>
<rect x="221.0" y="234.18" width="14.2" height="6.23" fill="#9bd93c" shape-rendering="crispEdges"/>
<rect x="221.0" y="239.90" width="14.2" height="6.23" fill="#7cd250" shape-rendering="crispEdges"/>
<rect x="221.0" y="245.63" width="14.2" height="6.23" fill="#63cb5f" shape-rendering="crispEdges"/>
<rect x="221.0" y="251.36" width="14.2" height="6.23" fill="#4cc26c" shape-rendering="crispEdges"/>
<rect x="221.0" y="257.08" width="14.2" height="6.23" fill="#38b977" shape-rendering="crispEdges"/>
<rect x="221.0" y="262.81" width="14.2" height="6.23" fill="#29af7f" shape-rendering="crispEdges"/>
<rect x="221.0" y="268.53" width="14.2" height="6.23" fill="#21a585" shape-rendering="crispEdges"/>
<rect x="221.0" y="274.26" width="14.2" height="6.23" fill="#1e9b8a" shape-rendering="crispEdges"/>
<rect x="221.0" y="279.99" width="14.2" height="6.23" fill="#21918c" shape-rendering="crispEdges"/>
<rect x="221.0" y="285.71" width="14.2" height="6.23" fill="#25858e" shape-rendering="crispEdges"/>
<rect x="221.0" y="291.44" width="14.2" height="6.23" fill="#297b8e" shape-rendering="crispEdges"/>
<rect x="221.0" y="297.17" width="14.2" height="6.23" fill="#2d718e" shape-rendering="crispEdges"/>
<rect x="221.0" y="302.89" width="14.2" height="6.23" fill="#31668e" shape-rendering="crispEdges"/>
<rect x="221.0" y="308.62" width="14.2" height="6.23" fill="#375b8d" shape-rendering="crispEdges"/>
<rect x="221.0" y="314.34" width="14.2" height="6.23" fill="#3c4f8a" shape-rendering="crispEdges"/>
<rect x="221.0" y="320.07" width="14.2" height="6.23" fill="#414287" shape-rendering="crispEdges"/>
<rect x="221.0" y="325.80" width="14.2" height="6.23" fill="#463480" shape-rendering="crispEdges"/>
<rect x="221.0" y="331.52" width="14.2" height="6.23" fill="#482677" shape-rendering="crispEdges"/>
<rect x="221.0" y="337.25" width="14.2" height="6.23" fill="#48186a" shape-rendering="crispEdges"/>
<rect x="221.0" y="342.97" width="14.2" height="6.23" fill="#46085c" shape-rendering="crispEdges"/>
<rect x="221.0" y="217.0" width="14.2" height="131.7" fill="none" stroke="#444" stroke-width="0.55"/>
<text x="239.0" y="221.7" class="t">10<tspan dy="-4.1" class="s">0</tspan></text>
<text x="239.0" y="265.6" class="t">10<tspan dy="-4.1" class="s">−1</tspan></text>
<text x="239.0" y="309.5" class="t">10<tspan dy="-4.1" class="s">−2</tspan></text>
<text x="239.0" y="353.4" class="t">10<tspan dy="-4.1" class="s">−3</tspan></text>
<text x="19.9" y="221.7" class="t">10<tspan dy="-4.1" class="s">2</tspan></text>
<text x="19.9" y="284.6" class="t">10<tspan dy="-4.1" class="s">1</tspan></text>
<text x="19.9" y="347.4" class="t">10<tspan dy="-4.1" class="s">0</tspan></text>
<text x="72.1" y="366.7" class="t">10<tspan dy="-4.1" class="s">1</tspan></text>
<text x="195.4" y="366.7" class="t">10<tspan dy="-4.1" class="s">2</tspan></text>
<text x="72.8" y="380.8" class="l" textLength="96.3" lengthAdjust="spacingAndGlyphs">motion frequency, Hz</text>
<text transform="translate(9.8 323.4) rotate(-90)" class="l" textLength="83.8" lengthAdjust="spacingAndGlyphs">motion intensity, g</text>
<text x="128.4" y="404.5" class="c" text-anchor="middle">(c)</text>
<clipPath id="cpd"><path d="M328.2 349.4 L328.2 280.9 L332.3 279.9 L336.4 278.8 L340.5 277.7 L344.5 276.6 L348.6 275.4 L352.7 274.2 L356.8 273.0 L360.9 271.7 L365.0 270.4 L369.1 269.0 L373.2 267.6 L377.2 266.2 L381.3 264.7 L385.4 263.2 L389.5 261.7 L393.6 260.1 L397.7 258.5 L401.8 256.9 L405.9 255.3 L409.9 253.6 L414.0 251.9 L418.1 250.2 L422.2 248.4 L426.3 246.7 L430.4 244.9 L434.5 243.1 L438.6 241.3 L442.6 239.4 L446.7 237.6 L450.8 235.7 L454.9 233.8 L459.0 231.9 L463.1 230.0 L467.2 228.1 L471.3 226.1 L475.3 224.2 L479.4 222.2 L483.5 220.3 L487.6 218.3 L487.6 349.4Z"/></clipPath>
<g clip-path="url(#cpd)"><g filter="url(#bl)">
<linearGradient id="gd0" gradientUnits="userSpaceOnUse" x1="328.2" x2="487.6" y1="0" y2="0"><stop offset="0.0312" stop-color="#433e85"/><stop offset="0.0938" stop-color="#277f8e"/><stop offset="0.1562" stop-color="#24878e"/><stop offset="0.2188" stop-color="#277f8e"/><stop offset="0.2812" stop-color="#228b8d"/><stop offset="0.3438" stop-color="#21918c"/><stop offset="0.4062" stop-color="#48c16e"/><stop offset="0.4688" stop-color="#63cb5f"/><stop offset="0.5312" stop-color="#98d83e"/><stop offset="0.5938" stop-color="#63cb5f"/><stop offset="0.6562" stop-color="#38b977"/><stop offset="0.7188" stop-color="#38b977"/><stop offset="0.7812" stop-color="#24878e"/><stop offset="0.8438" stop-color="#365d8d"/><stop offset="0.9062" stop-color="#24878e"/><stop offset="0.9688" stop-color="#1e9c89"/></linearGradient>
<rect x="322.2" y="268.87" width="171.4" height="8.59" fill="url(#gd0)"/>
<linearGradient id="gd1" gradientUnits="userSpaceOnUse" x1="328.2" x2="487.6" y1="0" y2="0"><stop offset="0.0312" stop-color="#433e85"/><stop offset="0.0938" stop-color="#277f8e"/><stop offset="0.1562" stop-color="#20928c"/><stop offset="0.2188" stop-color="#277f8e"/><stop offset="0.2812" stop-color="#2a778e"/><stop offset="0.3438" stop-color="#20a486"/><stop offset="0.4062" stop-color="#5cc863"/><stop offset="0.4688" stop-color="#4cc26c"/><stop offset="0.5312" stop-color="#65cb5e"/><stop offset="0.5938" stop-color="#4cc26c"/><stop offset="0.6562" stop-color="#38b977"/><stop offset="0.7188" stop-color="#38b977"/><stop offset="0.7812" stop-color="#20928c"/><stop offset="0.8438" stop-color="#287c8e"/><stop offset="0.9062" stop-color="#20928c"/><stop offset="0.9688" stop-color="#1e9c89"/></linearGradient>
<rect x="322.2" y="277.06" width="171.4" height="2.59" fill="url(#gd1)"/>
<linearGradient id="gd2" gradientUnits="userSpaceOnUse" x1="328.2" x2="487.6" y1="0" y2="0"><stop offset="0.0312" stop-color="#433e85"/><stop offset="0.0938" stop-color="#277f8e"/><stop offset="0.1562" stop-color="#1e9b8a"/><stop offset="0.2188" stop-color="#277f8e"/><stop offset="0.2812" stop-color="#33638d"/><stop offset="0.3438" stop-color="#34b679"/><stop offset="0.4062" stop-color="#75d054"/><stop offset="0.4688" stop-color="#3aba76"/><stop offset="0.5312" stop-color="#3bbb75"/><stop offset="0.5938" stop-color="#3aba76"/><stop offset="0.6562" stop-color="#38b977"/><stop offset="0.7188" stop-color="#38b977"/><stop offset="0.7812" stop-color="#1e9b8a"/><stop offset="0.8438" stop-color="#1f998a"/><stop offset="0.9062" stop-color="#1e9b8a"/><stop offset="0.9688" stop-color="#1e9c89"/></linearGradient>
<rect x="322.2" y="279.26" width="171.4" height="2.59" fill="url(#gd2)"/>
<linearGradient id="gd3" gradientUnits="userSpaceOnUse" x1="328.2" x2="487.6" y1="0" y2="0"><stop offset="0.0312" stop-color="#3a538b"/><stop offset="0.0938" stop-color="#24878e"/><stop offset="0.1562" stop-color="#1e9c89"/><stop offset="0.2188" stop-color="#2e6d8e"/><stop offset="0.2812" stop-color="#25848e"/><stop offset="0.3438" stop-color="#2ab07f"/><stop offset="0.4062" stop-color="#4ec36b"/><stop offset="0.4688" stop-color="#2ab07f"/><stop offset="0.5312" stop-color="#2ab07f"/><stop offset="0.5938" stop-color="#2ab07f"/><stop offset="0.6562" stop-color="#22a884"/><stop offset="0.7188" stop-color="#22a884"/><stop offset="0.7812" stop-color="#1e9c89"/><stop offset="0.8438" stop-color="#1e9c89"/><stop offset="0.9062" stop-color="#1e9c89"/><stop offset="0.9688" stop-color="#1e9c89"/></linearGradient>
<rect x="322.2" y="281.45" width="171.4" height="2.59" fill="url(#gd3)"/>
<linearGradient id="gd4" gradientUnits="userSpaceOnUse" x1="328.2" x2="487.6" y1="0" y2="0"><stop offset="0.0312" stop-color="#30698e"/><stop offset="0.0938" stop-color="#20928c"/><stop offset="0.1562" stop-color="#1e9c89"/><stop offset="0.2188" stop-color="#38588c"/><stop offset="0.2812" stop-color="#25ac82"/><stop offset="0.3438" stop-color="#22a785"/><stop offset="0.4062" stop-color="#2cb17e"/><stop offset="0.4688" stop-color="#22a785"/><stop offset="0.5312" stop-color="#22a785"/><stop offset="0.5938" stop-color="#22a785"/><stop offset="0.6562" stop-color="#1f948c"/><stop offset="0.7188" stop-color="#1f948c"/><stop offset="0.7812" stop-color="#1e9c89"/><stop offset="0.8438" stop-color="#1e9c89"/><stop offset="0.9062" stop-color="#1e9c89"/><stop offset="0.9688" stop-color="#1e9c89"/></linearGradient>
<rect x="322.2" y="283.64" width="171.4" height="2.59" fill="url(#gd4)"/>
<linearGradient id="gd5" gradientUnits="userSpaceOnUse" x1="328.2" x2="487.6" y1="0" y2="0"><stop offset="0.0312" stop-color="#287d8e"/><stop offset="0.0938" stop-color="#1e9b8a"/><stop offset="0.1562" stop-color="#1e9c89"/><stop offset="0.2188" stop-color="#424086"/><stop offset="0.2812" stop-color="#6ece58"/><stop offset="0.3438" stop-color="#1e9d89"/><stop offset="0.4062" stop-color="#1f9e89"/><stop offset="0.4688" stop-color="#1e9d89"/><stop offset="0.5312" stop-color="#1e9d89"/><stop offset="0.5938" stop-color="#1e9d89"/><stop offset="0.6562" stop-color="#26818e"/><stop offset="0.7188" stop-color="#26818e"/><stop offset="0.7812" stop-color="#1e9c89"/><stop offset="0.8438" stop-color="#1e9c89"/><stop offset="0.9062" stop-color="#1e9c89"/><stop offset="0.9688" stop-color="#1e9c89"/></linearGradient>
<rect x="322.2" y="285.84" width="171.4" height="2.59" fill="url(#gd5)"/>
<linearGradient id="gd6" gradientUnits="userSpaceOnUse" x1="328.2" x2="487.6" y1="0" y2="0"><stop offset="0.0312" stop-color="#23888e"/><stop offset="0.0938" stop-color="#1e9c89"/><stop offset="0.1562" stop-color="#1e9c89"/><stop offset="0.2188" stop-color="#2d718e"/><stop offset="0.2812" stop-color="#4ec36b"/><stop offset="0.3438" stop-color="#1e9c89"/><stop offset="0.4062" stop-color="#1e9c89"/><stop offset="0.4688" stop-color="#20938c"/><stop offset="0.5312" stop-color="#1e9c89"/><stop offset="0.5938" stop-color="#1e9c89"/><stop offset="0.6562" stop-color="#23888e"/><stop offset="0.7188" stop-color="#23888e"/><stop offset="0.7812" stop-color="#20938c"/><stop offset="0.8438" stop-color="#2a788e"/><stop offset="0.9062" stop-color="#238a8d"/><stop offset="0.9688" stop-color="#1e9c89"/></linearGradient>
<rect x="322.2" y="288.03" width="171.4" height="2.59" fill="url(#gd6)"/>
<linearGradient id="gd7" gradientUnits="userSpaceOnUse" x1="328.2" x2="487.6" y1="0" y2="0"><stop offset="0.0312" stop-color="#20928c"/><stop offset="0.0938" stop-color="#1e9c89"/><stop offset="0.1562" stop-color="#1e9c89"/><stop offset="0.2188" stop-color="#1fa287"/><stop offset="0.2812" stop-color="#2cb17e"/><stop offset="0.3438" stop-color="#1e9c89"/><stop offset="0.4062" stop-color="#1e9c89"/><stop offset="0.4688" stop-color="#23898e"/><stop offset="0.5312" stop-color="#1e9c89"/><stop offset="0.5938" stop-color="#1e9c89"/><stop offset="0.6562" stop-color="#20928c"/><stop offset="0.7188" stop-color="#20928c"/><stop offset="0.7812" stop-color="#23898e"/><stop offset="0.8438" stop-color="#3d4e8a"/><stop offset="0.9062" stop-color="#2a768e"/><stop offset="0.9688" stop-color="#1e9c89"/></linearGradient>
<rect x="322.2" y="290.22" width="171.4" height="2.59" fill="url(#gd7)"/>
<linearGradient id="gd8" gradientUnits="userSpaceOnUse" x1="328.2" x2="487.6" y1="0" y2="0"><stop offset="0.0312" stop-color="#1e9b8a"/><stop offset="0.0938" stop-color="#1e9c89"/><stop offset="0.1562" stop-color="#1e9c89"/><stop offset="0.2188" stop-color="#6ece58"/><stop offset="0.2812" stop-color="#1f9e89"/><stop offset="0.3438" stop-color="#1e9c89"/><stop offset="0.4062" stop-color="#1e9c89"/><stop offset="0.4688" stop-color="#27808e"/><stop offset="0.5312" stop-color="#1e9c89"/><stop offset="0.5938" stop-color="#1e9c89"/><stop offset="0.6562" stop-color="#1e9b8a"/><stop offset="0.7188" stop-color="#1e9b8a"/><stop offset="0.7812" stop-color="#27808e"/><stop offset="0.8438" stop-color="#481b6d"/><stop offset="0.9062" stop-color="#33628d"/><stop offset="0.9688" stop-color="#1e9c89"/></linearGradient>
<rect x="322.2" y="292.42" width="171.4" height="2.59" fill="url(#gd8)"/>
<linearGradient id="gd9" gradientUnits="userSpaceOnUse" x1="328.2" x2="487.6" y1="0" y2="0"><stop offset="0.0312" stop-color="#1e9c89"/><stop offset="0.0938" stop-color="#20938c"/><stop offset="0.1562" stop-color="#238a8d"/><stop offset="0.2188" stop-color="#2db27d"/><stop offset="0.2812" stop-color="#21a585"/><stop offset="0.3438" stop-color="#34b679"/><stop offset="0.4062" stop-color="#34b679"/><stop offset="0.4688" stop-color="#1f9a8a"/><stop offset="0.5312" stop-color="#34b679"/><stop offset="0.5938" stop-color="#34b679"/><stop offset="0.6562" stop-color="#34b679"/><stop offset="0.7188" stop-color="#28ae80"/><stop offset="0.7812" stop-color="#21918c"/><stop offset="0.8438" stop-color="#3b518b"/><stop offset="0.9062" stop-color="#2c738e"/><stop offset="0.9688" stop-color="#1e9c89"/></linearGradient>
<rect x="322.2" y="294.61" width="171.4" height="2.59" fill="url(#gd9)"/>
<linearGradient id="gd10" gradientUnits="userSpaceOnUse" x1="328.2" x2="487.6" y1="0" y2="0"><stop offset="0.0312" stop-color="#1e9c89"/><stop offset="0.0938" stop-color="#23898e"/><stop offset="0.1562" stop-color="#2a768e"/><stop offset="0.2188" stop-color="#228b8d"/><stop offset="0.2812" stop-color="#28ae80"/><stop offset="0.3438" stop-color="#73d056"/><stop offset="0.4062" stop-color="#73d056"/><stop offset="0.4688" stop-color="#34b679"/><stop offset="0.5312" stop-color="#73d056"/><stop offset="0.5938" stop-color="#73d056"/><stop offset="0.6562" stop-color="#73d056"/><stop offset="0.7188" stop-color="#48c16e"/><stop offset="0.7812" stop-color="#20a486"/><stop offset="0.8438" stop-color="#25858e"/><stop offset="0.9062" stop-color="#24878e"/><stop offset="0.9688" stop-color="#1e9c89"/></linearGradient>
<rect x="322.2" y="296.80" width="171.4" height="2.59" fill="url(#gd10)"/>
<linearGradient id="gd11" gradientUnits="userSpaceOnUse" x1="328.2" x2="487.6" y1="0" y2="0"><stop offset="0.0312" stop-color="#1e9c89"/><stop offset="0.0938" stop-color="#27808e"/><stop offset="0.1562" stop-color="#33628d"/><stop offset="0.2188" stop-color="#33638d"/><stop offset="0.2812" stop-color="#37b878"/><stop offset="0.3438" stop-color="#c2df23"/><stop offset="0.4062" stop-color="#c2df23"/><stop offset="0.4688" stop-color="#73d056"/><stop offset="0.5312" stop-color="#c2df23"/><stop offset="0.5938" stop-color="#c2df23"/><stop offset="0.6562" stop-color="#c2df23"/><stop offset="0.7188" stop-color="#75d054"/><stop offset="0.7812" stop-color="#35b779"/><stop offset="0.8438" stop-color="#32b67a"/><stop offset="0.9062" stop-color="#1e9b8a"/><stop offset="0.9688" stop-color="#1e9c89"/></linearGradient>
<rect x="322.2" y="299.00" width="171.4" height="2.59" fill="url(#gd11)"/>
<linearGradient id="gd12" gradientUnits="userSpaceOnUse" x1="328.2" x2="487.6" y1="0" y2="0"><stop offset="0.0312" stop-color="#20938c"/><stop offset="0.0938" stop-color="#23888e"/><stop offset="0.1562" stop-color="#24868e"/><stop offset="0.2188" stop-color="#2c738e"/><stop offset="0.2812" stop-color="#1f9e89"/><stop offset="0.3438" stop-color="#65cb5e"/><stop offset="0.4062" stop-color="#7cd250"/><stop offset="0.4688" stop-color="#4cc26c"/><stop offset="0.5312" stop-color="#95d840"/><stop offset="0.5938" stop-color="#95d840"/><stop offset="0.6562" stop-color="#95d840"/><stop offset="0.7188" stop-color="#60ca60"/><stop offset="0.7812" stop-color="#38b977"/><stop offset="0.8438" stop-color="#2ab07f"/><stop offset="0.9062" stop-color="#20938c"/><stop offset="0.9688" stop-color="#238a8d"/></linearGradient>
<rect x="322.2" y="301.19" width="171.4" height="2.59" fill="url(#gd12)"/>
<linearGradient id="gd13" gradientUnits="userSpaceOnUse" x1="328.2" x2="487.6" y1="0" y2="0"><stop offset="0.0312" stop-color="#23898e"/><stop offset="0.0938" stop-color="#20928c"/><stop offset="0.1562" stop-color="#27ad81"/><stop offset="0.2188" stop-color="#24878e"/><stop offset="0.2812" stop-color="#26818e"/><stop offset="0.3438" stop-color="#22a884"/><stop offset="0.4062" stop-color="#3aba76"/><stop offset="0.4688" stop-color="#2ab07f"/><stop offset="0.5312" stop-color="#63cb5f"/><stop offset="0.5938" stop-color="#63cb5f"/><stop offset="0.6562" stop-color="#63cb5f"/><stop offset="0.7188" stop-color="#4cc26c"/><stop offset="0.7812" stop-color="#38b977"/><stop offset="0.8438" stop-color="#21a685"/><stop offset="0.9062" stop-color="#23898e"/><stop offset="0.9688" stop-color="#2a768e"/></linearGradient>
<rect x="322.2" y="303.39" width="171.4" height="2.59" fill="url(#gd13)"/>
<linearGradient id="gd14" gradientUnits="userSpaceOnUse" x1="328.2" x2="487.6" y1="0" y2="0"><stop offset="0.0312" stop-color="#27808e"/><stop offset="0.0938" stop-color="#1e9c89"/><stop offset="0.1562" stop-color="#73d056"/><stop offset="0.2188" stop-color="#1e9b8a"/><stop offset="0.2812" stop-color="#33628d"/><stop offset="0.3438" stop-color="#26818e"/><stop offset="0.4062" stop-color="#1f9e89"/><stop offset="0.4688" stop-color="#1e9d89"/><stop offset="0.5312" stop-color="#3aba76"/><stop offset="0.5938" stop-color="#3aba76"/><stop offset="0.6562" stop-color="#3aba76"/><stop offset="0.7188" stop-color="#38b977"/><stop offset="0.7812" stop-color="#38b977"/><stop offset="0.8438" stop-color="#1e9d89"/><stop offset="0.9062" stop-color="#27808e"/><stop offset="0.9688" stop-color="#33628d"/></linearGradient>
<rect x="322.2" y="305.58" width="171.4" height="2.59" fill="url(#gd14)"/>
<linearGradient id="gd15" gradientUnits="userSpaceOnUse" x1="328.2" x2="487.6" y1="0" y2="0"><stop offset="0.0312" stop-color="#277f8e"/><stop offset="0.0938" stop-color="#1e9c89"/><stop offset="0.1562" stop-color="#60ca60"/><stop offset="0.2188" stop-color="#1e9c89"/><stop offset="0.2812" stop-color="#2f6b8e"/><stop offset="0.3438" stop-color="#277f8e"/><stop offset="0.4062" stop-color="#23898e"/><stop offset="0.4688" stop-color="#23898e"/><stop offset="0.5312" stop-color="#22a785"/><stop offset="0.5938" stop-color="#22a785"/><stop offset="0.6562" stop-color="#22a785"/><stop offset="0.7188" stop-color="#22a785"/><stop offset="0.7812" stop-color="#22a785"/><stop offset="0.8438" stop-color="#20928c"/><stop offset="0.9062" stop-color="#2f6c8e"/><stop offset="0.9688" stop-color="#39568c"/></linearGradient>
<rect x="322.2" y="307.77" width="171.4" height="2.59" fill="url(#gd15)"/>
<linearGradient id="gd16" gradientUnits="userSpaceOnUse" x1="328.2" x2="487.6" y1="0" y2="0"><stop offset="0.0312" stop-color="#277f8e"/><stop offset="0.0938" stop-color="#1e9c89"/><stop offset="0.1562" stop-color="#4ac16d"/><stop offset="0.2188" stop-color="#1e9c89"/><stop offset="0.2812" stop-color="#2b748e"/><stop offset="0.3438" stop-color="#277f8e"/><stop offset="0.4062" stop-color="#2a768e"/><stop offset="0.4688" stop-color="#2a768e"/><stop offset="0.5312" stop-color="#20938c"/><stop offset="0.5938" stop-color="#20938c"/><stop offset="0.6562" stop-color="#20938c"/><stop offset="0.7188" stop-color="#20938c"/><stop offset="0.7812" stop-color="#20938c"/><stop offset="0.8438" stop-color="#23898e"/><stop offset="0.9062" stop-color="#39568c"/><stop offset="0.9688" stop-color="#3e4a89"/></linearGradient>
<rect x="322.2" y="309.97" width="171.4" height="2.59" fill="url(#gd16)"/>
<linearGradient id="gd17" gradientUnits="userSpaceOnUse" x1="328.2" x2="487.6" y1="0" y2="0"><stop offset="0.0312" stop-color="#277f8e"/><stop offset="0.0938" stop-color="#1e9c89"/><stop offset="0.1562" stop-color="#38b977"/><stop offset="0.2188" stop-color="#1e9c89"/><stop offset="0.2812" stop-color="#277f8e"/><stop offset="0.3438" stop-color="#277f8e"/><stop offset="0.4062" stop-color="#33628d"/><stop offset="0.4688" stop-color="#33628d"/><stop offset="0.5312" stop-color="#27808e"/><stop offset="0.5938" stop-color="#27808e"/><stop offset="0.6562" stop-color="#27808e"/><stop offset="0.7188" stop-color="#27808e"/><stop offset="0.7812" stop-color="#27808e"/><stop offset="0.8438" stop-color="#277f8e"/><stop offset="0.9062" stop-color="#423f85"/><stop offset="0.9688" stop-color="#423f85"/></linearGradient>
<rect x="322.2" y="312.16" width="171.4" height="2.59" fill="url(#gd17)"/>
<linearGradient id="gd18" gradientUnits="userSpaceOnUse" x1="328.2" x2="487.6" y1="0" y2="0"><stop offset="0.0312" stop-color="#2f6c8e"/><stop offset="0.0938" stop-color="#2a768e"/><stop offset="0.1562" stop-color="#1e9d89"/><stop offset="0.2188" stop-color="#20928c"/><stop offset="0.2812" stop-color="#277f8e"/><stop offset="0.3438" stop-color="#2b758e"/><stop offset="0.4062" stop-color="#39568c"/><stop offset="0.4688" stop-color="#34618d"/><stop offset="0.5312" stop-color="#2b758e"/><stop offset="0.5938" stop-color="#33628d"/><stop offset="0.6562" stop-color="#33628d"/><stop offset="0.7188" stop-color="#33628d"/><stop offset="0.7812" stop-color="#2f6c8e"/><stop offset="0.8438" stop-color="#2b758e"/><stop offset="0.9062" stop-color="#39558c"/><stop offset="0.9688" stop-color="#433e85"/></linearGradient>
<rect x="322.2" y="314.35" width="171.4" height="2.59" fill="url(#gd18)"/>
<linearGradient id="gd19" gradientUnits="userSpaceOnUse" x1="328.2" x2="487.6" y1="0" y2="0"><stop offset="0.0312" stop-color="#39568c"/><stop offset="0.0938" stop-color="#3e4c8a"/><stop offset="0.1562" stop-color="#27808e"/><stop offset="0.2188" stop-color="#23898e"/><stop offset="0.2812" stop-color="#277f8e"/><stop offset="0.3438" stop-color="#2f6c8e"/><stop offset="0.4062" stop-color="#3e4a89"/><stop offset="0.4688" stop-color="#34618d"/><stop offset="0.5312" stop-color="#2f6c8e"/><stop offset="0.5938" stop-color="#423f85"/><stop offset="0.6562" stop-color="#423f85"/><stop offset="0.7188" stop-color="#423f85"/><stop offset="0.7812" stop-color="#39568c"/><stop offset="0.8438" stop-color="#2f6c8e"/><stop offset="0.9062" stop-color="#306a8e"/><stop offset="0.9688" stop-color="#433e85"/></linearGradient>
<rect x="322.2" y="316.55" width="171.4" height="2.59" fill="url(#gd19)"/>
<linearGradient id="gd20" gradientUnits="userSpaceOnUse" x1="328.2" x2="487.6" y1="0" y2="0"><stop offset="0.0312" stop-color="#423f85"/><stop offset="0.0938" stop-color="#48186a"/><stop offset="0.1562" stop-color="#33628d"/><stop offset="0.2188" stop-color="#277f8e"/><stop offset="0.2812" stop-color="#277f8e"/><stop offset="0.3438" stop-color="#34618d"/><stop offset="0.4062" stop-color="#423f85"/><stop offset="0.4688" stop-color="#34618d"/><stop offset="0.5312" stop-color="#34618d"/><stop offset="0.5938" stop-color="#48186a"/><stop offset="0.6562" stop-color="#48186a"/><stop offset="0.7188" stop-color="#48186a"/><stop offset="0.7812" stop-color="#423f85"/><stop offset="0.8438" stop-color="#34618d"/><stop offset="0.9062" stop-color="#277e8e"/><stop offset="0.9688" stop-color="#433e85"/></linearGradient>
<rect x="322.2" y="318.74" width="171.4" height="2.59" fill="url(#gd20)"/>
<linearGradient id="gd21" gradientUnits="userSpaceOnUse" x1="328.2" x2="487.6" y1="0" y2="0"><stop offset="0.0312" stop-color="#433e85"/><stop offset="0.0938" stop-color="#482475"/><stop offset="0.1562" stop-color="#2f6b8e"/><stop offset="0.2188" stop-color="#277f8e"/><stop offset="0.2812" stop-color="#277f8e"/><stop offset="0.3438" stop-color="#2f6b8e"/><stop offset="0.4062" stop-color="#39558c"/><stop offset="0.4688" stop-color="#2f6b8e"/><stop offset="0.5312" stop-color="#2f6b8e"/><stop offset="0.5938" stop-color="#433e85"/><stop offset="0.6562" stop-color="#433e85"/><stop offset="0.7188" stop-color="#433e85"/><stop offset="0.7812" stop-color="#3e4a89"/><stop offset="0.8438" stop-color="#2f6b8e"/><stop offset="0.9062" stop-color="#277f8e"/><stop offset="0.9688" stop-color="#39558c"/></linearGradient>
<rect x="322.2" y="320.93" width="171.4" height="2.59" fill="url(#gd21)"/>
<linearGradient id="gd22" gradientUnits="userSpaceOnUse" x1="328.2" x2="487.6" y1="0" y2="0"><stop offset="0.0312" stop-color="#433e85"/><stop offset="0.0938" stop-color="#46327e"/><stop offset="0.1562" stop-color="#2b748e"/><stop offset="0.2188" stop-color="#277f8e"/><stop offset="0.2812" stop-color="#277f8e"/><stop offset="0.3438" stop-color="#2b748e"/><stop offset="0.4062" stop-color="#2f6b8e"/><stop offset="0.4688" stop-color="#2b748e"/><stop offset="0.5312" stop-color="#2b748e"/><stop offset="0.5938" stop-color="#34608d"/><stop offset="0.6562" stop-color="#34608d"/><stop offset="0.7188" stop-color="#34608d"/><stop offset="0.7812" stop-color="#39558c"/><stop offset="0.8438" stop-color="#2b748e"/><stop offset="0.9062" stop-color="#277f8e"/><stop offset="0.9688" stop-color="#2f6b8e"/></linearGradient>
<rect x="322.2" y="323.13" width="171.4" height="2.59" fill="url(#gd22)"/>
<linearGradient id="gd23" gradientUnits="userSpaceOnUse" x1="328.2" x2="487.6" y1="0" y2="0"><stop offset="0.0312" stop-color="#433e85"/><stop offset="0.0938" stop-color="#433e85"/><stop offset="0.1562" stop-color="#277f8e"/><stop offset="0.2188" stop-color="#277f8e"/><stop offset="0.2812" stop-color="#277f8e"/><stop offset="0.3438" stop-color="#277f8e"/><stop offset="0.4062" stop-color="#277f8e"/><stop offset="0.4688" stop-color="#277f8e"/><stop offset="0.5312" stop-color="#277f8e"/><stop offset="0.5938" stop-color="#277e8e"/><stop offset="0.6562" stop-color="#277e8e"/><stop offset="0.7188" stop-color="#277e8e"/><stop offset="0.7812" stop-color="#34618d"/><stop offset="0.8438" stop-color="#277f8e"/><stop offset="0.9062" stop-color="#277f8e"/><stop offset="0.9688" stop-color="#277f8e"/></linearGradient>
<rect x="322.2" y="325.32" width="171.4" height="2.59" fill="url(#gd23)"/>
<linearGradient id="gd24" gradientUnits="userSpaceOnUse" x1="328.2" x2="487.6" y1="0" y2="0"><stop offset="0.0312" stop-color="#34608d"/><stop offset="0.0938" stop-color="#34608d"/><stop offset="0.1562" stop-color="#23888e"/><stop offset="0.2188" stop-color="#23888e"/><stop offset="0.2812" stop-color="#23888e"/><stop offset="0.3438" stop-color="#23888e"/><stop offset="0.4062" stop-color="#23888e"/><stop offset="0.4688" stop-color="#23888e"/><stop offset="0.5312" stop-color="#20928c"/><stop offset="0.5938" stop-color="#23888e"/><stop offset="0.6562" stop-color="#23888e"/><stop offset="0.7188" stop-color="#23888e"/><stop offset="0.7812" stop-color="#2b748e"/><stop offset="0.8438" stop-color="#23888e"/><stop offset="0.9062" stop-color="#23888e"/><stop offset="0.9688" stop-color="#23888e"/></linearGradient>
<rect x="322.2" y="327.52" width="171.4" height="2.59" fill="url(#gd24)"/>
<linearGradient id="gd25" gradientUnits="userSpaceOnUse" x1="328.2" x2="487.6" y1="0" y2="0"><stop offset="0.0312" stop-color="#277f8e"/><stop offset="0.0938" stop-color="#277f8e"/><stop offset="0.1562" stop-color="#20928c"/><stop offset="0.2188" stop-color="#20928c"/><stop offset="0.2812" stop-color="#20928c"/><stop offset="0.3438" stop-color="#20928c"/><stop offset="0.4062" stop-color="#20928c"/><stop offset="0.4688" stop-color="#20928c"/><stop offset="0.5312" stop-color="#21a685"/><stop offset="0.5938" stop-color="#20928c"/><stop offset="0.6562" stop-color="#20928c"/><stop offset="0.7188" stop-color="#20928c"/><stop offset="0.7812" stop-color="#23888e"/><stop offset="0.8438" stop-color="#20928c"/><stop offset="0.9062" stop-color="#20928c"/><stop offset="0.9688" stop-color="#20928c"/></linearGradient>
<rect x="322.2" y="329.71" width="171.4" height="2.59" fill="url(#gd25)"/>
<linearGradient id="gd26" gradientUnits="userSpaceOnUse" x1="328.2" x2="487.6" y1="0" y2="0"><stop offset="0.0312" stop-color="#1e9c89"/><stop offset="0.0938" stop-color="#1e9c89"/><stop offset="0.1562" stop-color="#1e9c89"/><stop offset="0.2188" stop-color="#1e9c89"/><stop offset="0.2812" stop-color="#1e9c89"/><stop offset="0.3438" stop-color="#1e9c89"/><stop offset="0.4062" stop-color="#1e9c89"/><stop offset="0.4688" stop-color="#1e9c89"/><stop offset="0.5312" stop-color="#37b878"/><stop offset="0.5938" stop-color="#1e9c89"/><stop offset="0.6562" stop-color="#1e9c89"/><stop offset="0.7188" stop-color="#1e9c89"/><stop offset="0.7812" stop-color="#1e9c89"/><stop offset="0.8438" stop-color="#1e9c89"/><stop offset="0.9062" stop-color="#1e9c89"/><stop offset="0.9688" stop-color="#1e9c89"/></linearGradient>
<rect x="322.2" y="331.90" width="171.4" height="2.59" fill="url(#gd26)"/>
<linearGradient id="gd27" gradientUnits="userSpaceOnUse" x1="328.2" x2="487.6" y1="0" y2="0"><stop offset="0.0312" stop-color="#23a983"/><stop offset="0.0938" stop-color="#29af7f"/><stop offset="0.1562" stop-color="#32b67a"/><stop offset="0.2188" stop-color="#32b67a"/><stop offset="0.2812" stop-color="#32b67a"/><stop offset="0.3438" stop-color="#29af7f"/><stop offset="0.4062" stop-color="#23a983"/><stop offset="0.4688" stop-color="#23a983"/><stop offset="0.5312" stop-color="#50c46a"/><stop offset="0.5938" stop-color="#29af7f"/><stop offset="0.6562" stop-color="#29af7f"/><stop offset="0.7188" stop-color="#23a983"/><stop offset="0.7812" stop-color="#23a983"/><stop offset="0.8438" stop-color="#23a983"/><stop offset="0.9062" stop-color="#1fa287"/><stop offset="0.9688" stop-color="#1fa287"/></linearGradient>
<rect x="322.2" y="334.10" width="171.4" height="2.59" fill="url(#gd27)"/>
<linearGradient id="gd28" gradientUnits="userSpaceOnUse" x1="328.2" x2="487.6" y1="0" y2="0"><stop offset="0.0312" stop-color="#2fb47c"/><stop offset="0.0938" stop-color="#44bf70"/><stop offset="0.1562" stop-color="#5ec962"/><stop offset="0.2188" stop-color="#5ec962"/><stop offset="0.2812" stop-color="#5ec962"/><stop offset="0.3438" stop-color="#44bf70"/><stop offset="0.4062" stop-color="#2fb47c"/><stop offset="0.4688" stop-color="#2fb47c"/><stop offset="0.5312" stop-color="#6ccd5a"/><stop offset="0.5938" stop-color="#44bf70"/><stop offset="0.6562" stop-color="#44bf70"/><stop offset="0.7188" stop-color="#2fb47c"/><stop offset="0.7812" stop-color="#2fb47c"/><stop offset="0.8438" stop-color="#2fb47c"/><stop offset="0.9062" stop-color="#22a884"/><stop offset="0.9688" stop-color="#22a884"/></linearGradient>
<rect x="322.2" y="336.29" width="171.4" height="2.04" fill="url(#gd28)"/>
<linearGradient id="gd29" gradientUnits="userSpaceOnUse" x1="328.2" x2="487.6" y1="0" y2="0"><stop offset="0.0312" stop-color="#5cc863"/><stop offset="0.0938" stop-color="#77d153"/><stop offset="0.1562" stop-color="#95d840"/><stop offset="0.2188" stop-color="#95d840"/><stop offset="0.2812" stop-color="#95d840"/><stop offset="0.3438" stop-color="#6ece58"/><stop offset="0.4062" stop-color="#44bf70"/><stop offset="0.4688" stop-color="#3fbc73"/><stop offset="0.5312" stop-color="#8bd646"/><stop offset="0.5938" stop-color="#65cb5e"/><stop offset="0.6562" stop-color="#5cc863"/><stop offset="0.7188" stop-color="#44bf70"/><stop offset="0.7812" stop-color="#44bf70"/><stop offset="0.8438" stop-color="#3fbc73"/><stop offset="0.9062" stop-color="#28ae80"/><stop offset="0.9688" stop-color="#28ae80"/></linearGradient>
<rect x="322.2" y="337.93" width="171.4" height="2.04" fill="url(#gd29)"/>
<linearGradient id="gd30" gradientUnits="userSpaceOnUse" x1="328.2" x2="487.6" y1="0" y2="0"><stop offset="0.0312" stop-color="#bddf26"/><stop offset="0.0938" stop-color="#c8e020"/><stop offset="0.1562" stop-color="#d2e21b"/><stop offset="0.2188" stop-color="#d2e21b"/><stop offset="0.2812" stop-color="#d2e21b"/><stop offset="0.3438" stop-color="#a8db34"/><stop offset="0.4062" stop-color="#65cb5e"/><stop offset="0.4688" stop-color="#4cc26c"/><stop offset="0.5312" stop-color="#b2dd2d"/><stop offset="0.5938" stop-color="#8bd646"/><stop offset="0.6562" stop-color="#6ece58"/><stop offset="0.7188" stop-color="#65cb5e"/><stop offset="0.7812" stop-color="#65cb5e"/><stop offset="0.8438" stop-color="#4cc26c"/><stop offset="0.9062" stop-color="#32b67a"/><stop offset="0.9688" stop-color="#32b67a"/></linearGradient>
<rect x="322.2" y="339.57" width="171.4" height="2.04" fill="url(#gd30)"/>
<linearGradient id="gd31" gradientUnits="userSpaceOnUse" x1="328.2" x2="487.6" y1="0" y2="0"><stop offset="0.0312" stop-color="#f1e51d"/><stop offset="0.0938" stop-color="#f1e51d"/><stop offset="0.1562" stop-color="#dde318"/><stop offset="0.2188" stop-color="#e7e419"/><stop offset="0.2812" stop-color="#fbe723"/><stop offset="0.3438" stop-color="#d2e21b"/><stop offset="0.4062" stop-color="#8bd646"/><stop offset="0.4688" stop-color="#65cb5e"/><stop offset="0.5312" stop-color="#a8db34"/><stop offset="0.5938" stop-color="#95d840"/><stop offset="0.6562" stop-color="#81d34d"/><stop offset="0.7188" stop-color="#81d34d"/><stop offset="0.7812" stop-color="#81d34d"/><stop offset="0.8438" stop-color="#5cc863"/><stop offset="0.9062" stop-color="#2db27d"/><stop offset="0.9688" stop-color="#32b67a"/></linearGradient>
<rect x="322.2" y="341.21" width="171.4" height="2.04" fill="url(#gd31)"/>
<linearGradient id="gd32" gradientUnits="userSpaceOnUse" x1="328.2" x2="487.6" y1="0" y2="0"><stop offset="0.0312" stop-color="#f1e51d"/><stop offset="0.0938" stop-color="#f1e51d"/><stop offset="0.1562" stop-color="#b2dd2d"/><stop offset="0.2188" stop-color="#d2e21b"/><stop offset="0.2812" stop-color="#fde725"/><stop offset="0.3438" stop-color="#e7e419"/><stop offset="0.4062" stop-color="#b2dd2d"/><stop offset="0.4688" stop-color="#8bd646"/><stop offset="0.5312" stop-color="#6ece58"/><stop offset="0.5938" stop-color="#81d34d"/><stop offset="0.6562" stop-color="#95d840"/><stop offset="0.7188" stop-color="#95d840"/><stop offset="0.7812" stop-color="#95d840"/><stop offset="0.8438" stop-color="#6ece58"/><stop offset="0.9062" stop-color="#20a386"/><stop offset="0.9688" stop-color="#28ae80"/></linearGradient>
<rect x="322.2" y="342.84" width="171.4" height="2.04" fill="url(#gd32)"/>
<linearGradient id="gd33" gradientUnits="userSpaceOnUse" x1="328.2" x2="487.6" y1="0" y2="0"><stop offset="0.0312" stop-color="#d2e21b"/><stop offset="0.0938" stop-color="#dde318"/><stop offset="0.1562" stop-color="#95d840"/><stop offset="0.2188" stop-color="#bddf26"/><stop offset="0.2812" stop-color="#fde725"/><stop offset="0.3438" stop-color="#f1e51d"/><stop offset="0.4062" stop-color="#c8e020"/><stop offset="0.4688" stop-color="#a0da39"/><stop offset="0.5312" stop-color="#65cb5e"/><stop offset="0.5938" stop-color="#8bd646"/><stop offset="0.6562" stop-color="#a8db34"/><stop offset="0.7188" stop-color="#b2dd2d"/><stop offset="0.7812" stop-color="#a8db34"/><stop offset="0.8438" stop-color="#81d34d"/><stop offset="0.9062" stop-color="#238a8d"/><stop offset="0.9688" stop-color="#1f948c"/></linearGradient>
<rect x="322.2" y="344.48" width="171.4" height="2.04" fill="url(#gd33)"/>
<linearGradient id="gd34" gradientUnits="userSpaceOnUse" x1="328.2" x2="487.6" y1="0" y2="0"><stop offset="0.0312" stop-color="#95d840"/><stop offset="0.0938" stop-color="#b2dd2d"/><stop offset="0.1562" stop-color="#81d34d"/><stop offset="0.2188" stop-color="#a8db34"/><stop offset="0.2812" stop-color="#fbe723"/><stop offset="0.3438" stop-color="#f1e51d"/><stop offset="0.4062" stop-color="#c8e020"/><stop offset="0.4688" stop-color="#a0da39"/><stop offset="0.5312" stop-color="#8bd646"/><stop offset="0.5938" stop-color="#b2dd2d"/><stop offset="0.6562" stop-color="#bddf26"/><stop offset="0.7188" stop-color="#dde318"/><stop offset="0.7812" stop-color="#bddf26"/><stop offset="0.8438" stop-color="#95d840"/><stop offset="0.9062" stop-color="#32658e"/><stop offset="0.9688" stop-color="#30698e"/></linearGradient>
<rect x="322.2" y="346.12" width="171.4" height="2.04" fill="url(#gd34)"/>
<linearGradient id="gd35" gradientUnits="userSpaceOnUse" x1="328.2" x2="487.6" y1="0" y2="0"><stop offset="0.0312" stop-color="#77d153"/><stop offset="0.0938" stop-color="#a0da39"/><stop offset="0.1562" stop-color="#77d153"/><stop offset="0.2188" stop-color="#a0da39"/><stop offset="0.2812" stop-color="#f1e51d"/><stop offset="0.3438" stop-color="#f1e51d"/><stop offset="0.4062" stop-color="#c8e020"/><stop offset="0.4688" stop-color="#a0da39"/><stop offset="0.5312" stop-color="#a0da39"/><stop offset="0.5938" stop-color="#c8e020"/><stop offset="0.6562" stop-color="#c8e020"/><stop offset="0.7188" stop-color="#f1e51d"/><stop offset="0.7812" stop-color="#c8e020"/><stop offset="0.8438" stop-color="#a0da39"/><stop offset="0.9062" stop-color="#3c508b"/><stop offset="0.9688" stop-color="#3c508b"/></linearGradient>
<rect x="322.2" y="347.76" width="171.4" height="8.04" fill="url(#gd35)"/>
<clipPath id="cud"><rect x="320.2" y="210.3" width="175.40000000000003" height="70.57"/></clipPath>
<g clip-path="url(#cud)">
<linearGradient id="ud0" gradientUnits="userSpaceOnUse" x1="328.2" x2="487.6" y1="0" y2="0"><stop offset="0.0312" stop-color="#34618d"/><stop offset="0.0938" stop-color="#277f8e"/><stop offset="0.1562" stop-color="#218e8d"/><stop offset="0.2188" stop-color="#1e9c89"/><stop offset="0.2812" stop-color="#218e8d"/><stop offset="0.3438" stop-color="#277f8e"/><stop offset="0.4062" stop-color="#218e8d"/><stop offset="0.4688" stop-color="#25ab82"/><stop offset="0.5312" stop-color="#a0da39"/><stop offset="0.5938" stop-color="#c8e020"/><stop offset="0.6562" stop-color="#f1e51d"/><stop offset="0.7188" stop-color="#25ab82"/><stop offset="0.7812" stop-color="#1e9c89"/><stop offset="0.8438" stop-color="#1e9c89"/><stop offset="0.9062" stop-color="#1e9c89"/><stop offset="0.9688" stop-color="#1e9c89"/></linearGradient>
<path d="M322.2 280.9 L328.1 280.9 L334.0 278.7 L339.9 276.4 L345.8 273.9 L351.8 271.3 L357.7 268.6 L363.6 265.8 L369.5 262.9 L375.4 259.8 L381.3 256.7 L387.2 253.4 L393.1 250.0 L399.0 246.6 L404.9 243.0 L410.9 239.4 L416.8 235.7 L422.7 231.9 L428.6 228.1 L434.5 224.2 L440.4 220.2 L446.3 216.2 L452.2 212.1 L458.1 208.0 L464.0 203.9 L470.0 199.7 L475.9 195.5 L481.8 191.2 L487.7 187.0 L493.6 187.0 L493.6 282.9 L322.2 282.9Z" fill="url(#ud0)"/>
<linearGradient id="ud1" gradientUnits="userSpaceOnUse" x1="328.2" x2="487.6" y1="0" y2="0"><stop offset="0.0312" stop-color="#34618d"/><stop offset="0.0938" stop-color="#277f8e"/><stop offset="0.1562" stop-color="#218e8d"/><stop offset="0.2188" stop-color="#1e9c89"/><stop offset="0.2812" stop-color="#218e8d"/><stop offset="0.3438" stop-color="#297b8e"/><stop offset="0.4062" stop-color="#20928c"/><stop offset="0.4688" stop-color="#32b67a"/><stop offset="0.5312" stop-color="#a0da39"/><stop offset="0.5938" stop-color="#bddf26"/><stop offset="0.6562" stop-color="#dde318"/><stop offset="0.7188" stop-color="#28ae80"/><stop offset="0.7812" stop-color="#1e9c89"/><stop offset="0.8438" stop-color="#1f988b"/><stop offset="0.9062" stop-color="#1f988b"/><stop offset="0.9688" stop-color="#1f988b"/></linearGradient>
<path d="M322.2 280.9 L328.1 280.9 L334.0 279.5 L339.9 278.0 L345.8 276.5 L351.8 274.8 L357.7 273.1 L363.6 271.3 L369.5 269.5 L375.4 267.5 L381.3 265.5 L387.2 263.5 L393.1 261.3 L399.0 259.1 L404.9 256.9 L410.9 254.6 L416.8 252.3 L422.7 249.9 L428.6 247.4 L434.5 245.0 L440.4 242.5 L446.3 239.9 L452.2 237.3 L458.1 234.7 L464.0 232.1 L470.0 229.5 L475.9 226.8 L481.8 224.1 L487.7 221.4 L493.6 221.4 L493.6 282.9 L322.2 282.9Z" fill="url(#ud1)"/>
<linearGradient id="ud2" gradientUnits="userSpaceOnUse" x1="328.2" x2="487.6" y1="0" y2="0"><stop offset="0.0312" stop-color="#34618d"/><stop offset="0.0938" stop-color="#277f8e"/><stop offset="0.1562" stop-color="#218e8d"/><stop offset="0.2188" stop-color="#1e9c89"/><stop offset="0.2812" stop-color="#218e8d"/><stop offset="0.3438" stop-color="#2c738e"/><stop offset="0.4062" stop-color="#1f988b"/><stop offset="0.4688" stop-color="#5cc863"/><stop offset="0.5312" stop-color="#a0da39"/><stop offset="0.5938" stop-color="#a8db34"/><stop offset="0.6562" stop-color="#b2dd2d"/><stop offset="0.7188" stop-color="#32b67a"/><stop offset="0.7812" stop-color="#1e9c89"/><stop offset="0.8438" stop-color="#20928c"/><stop offset="0.9062" stop-color="#20928c"/><stop offset="0.9688" stop-color="#20928c"/></linearGradient>
<path d="M322.2 280.9 L328.1 280.9 L334.0 279.6 L339.9 278.2 L345.8 276.7 L351.8 275.1 L357.7 273.5 L363.6 271.8 L369.5 270.1 L375.4 268.2 L381.3 266.3 L387.2 264.4 L393.1 262.4 L399.0 260.3 L404.9 258.2 L410.9 256.0 L416.8 253.8 L422.7 251.5 L428.6 249.2 L434.5 246.9 L440.4 244.5 L446.3 242.1 L452.2 239.6 L458.1 237.2 L464.0 234.7 L470.0 232.2 L475.9 229.6 L481.8 227.1 L487.7 224.6 L493.6 224.6 L493.6 282.9 L322.2 282.9Z" fill="url(#ud2)"/>
<linearGradient id="ud3" gradientUnits="userSpaceOnUse" x1="328.2" x2="487.6" y1="0" y2="0"><stop offset="0.0312" stop-color="#34618d"/><stop offset="0.0938" stop-color="#277f8e"/><stop offset="0.1562" stop-color="#218e8d"/><stop offset="0.2188" stop-color="#1e9c89"/><stop offset="0.2812" stop-color="#218e8d"/><stop offset="0.3438" stop-color="#2d708e"/><stop offset="0.4062" stop-color="#1fa088"/><stop offset="0.4688" stop-color="#81d34d"/><stop offset="0.5312" stop-color="#95d840"/><stop offset="0.5938" stop-color="#8bd646"/><stop offset="0.6562" stop-color="#8bd646"/><stop offset="0.7188" stop-color="#3fbc73"/><stop offset="0.7812" stop-color="#1fa088"/><stop offset="0.8438" stop-color="#238a8d"/><stop offset="0.9062" stop-color="#218e8d"/><stop offset="0.9688" stop-color="#218e8d"/></linearGradient>
<path d="M322.2 280.9 L328.1 280.9 L334.0 279.6 L339.9 278.3 L345.8 276.9 L351.8 275.5 L357.7 273.9 L363.6 272.3 L369.5 270.7 L375.4 268.9 L381.3 267.1 L387.2 265.3 L393.1 263.4 L399.0 261.4 L404.9 259.4 L410.9 257.4 L416.8 255.3 L422.7 253.1 L428.6 251.0 L434.5 248.7 L440.4 246.5 L446.3 244.2 L452.2 241.9 L458.1 239.6 L464.0 237.2 L470.0 234.9 L475.9 232.5 L481.8 230.1 L487.7 227.7 L493.6 227.7 L493.6 282.9 L322.2 282.9Z" fill="url(#ud3)"/>
<linearGradient id="ud4" gradientUnits="userSpaceOnUse" x1="328.2" x2="487.6" y1="0" y2="0"><stop offset="0.0312" stop-color="#34618d"/><stop offset="0.0938" stop-color="#277f8e"/><stop offset="0.1562" stop-color="#218e8d"/><stop offset="0.2188" stop-color="#1e9c89"/><stop offset="0.2812" stop-color="#218e8d"/><stop offset="0.3438" stop-color="#2d708e"/><stop offset="0.4062" stop-color="#22a785"/><stop offset="0.4688" stop-color="#95d840"/><stop offset="0.5312" stop-color="#81d34d"/><stop offset="0.5938" stop-color="#65cb5e"/><stop offset="0.6562" stop-color="#65cb5e"/><stop offset="0.7188" stop-color="#4cc26c"/><stop offset="0.7812" stop-color="#22a785"/><stop offset="0.8438" stop-color="#26828e"/><stop offset="0.9062" stop-color="#218e8d"/><stop offset="0.9688" stop-color="#218e8d"/></linearGradient>
<path d="M322.2 280.9 L328.1 280.9 L334.0 279.7 L339.9 278.5 L345.8 277.2 L351.8 275.8 L357.7 274.3 L363.6 272.8 L369.5 271.3 L375.4 269.6 L381.3 268.0 L387.2 266.2 L393.1 264.4 L399.0 262.6 L404.9 260.7 L410.9 258.8 L416.8 256.8 L422.7 254.8 L428.6 252.7 L434.5 250.6 L440.4 248.5 L446.3 246.4 L452.2 244.2 L458.1 242.0 L464.0 239.8 L470.0 237.6 L475.9 235.3 L481.8 233.1 L487.7 230.8 L493.6 230.8 L493.6 282.9 L322.2 282.9Z" fill="url(#ud4)"/>
<linearGradient id="ud5" gradientUnits="userSpaceOnUse" x1="328.2" x2="487.6" y1="0" y2="0"><stop offset="0.0312" stop-color="#34618d"/><stop offset="0.0938" stop-color="#277f8e"/><stop offset="0.1562" stop-color="#218e8d"/><stop offset="0.2188" stop-color="#1e9c89"/><stop offset="0.2812" stop-color="#218e8d"/><stop offset="0.3438" stop-color="#2c738e"/><stop offset="0.4062" stop-color="#28ae80"/><stop offset="0.4688" stop-color="#95d840"/><stop offset="0.5312" stop-color="#65cb5e"/><stop offset="0.5938" stop-color="#38b977"/><stop offset="0.6562" stop-color="#32b67a"/><stop offset="0.7188" stop-color="#65cb5e"/><stop offset="0.7812" stop-color="#2db27d"/><stop offset="0.8438" stop-color="#297b8e"/><stop offset="0.9062" stop-color="#238a8d"/><stop offset="0.9688" stop-color="#238a8d"/></linearGradient>
<path d="M322.2 280.9 L328.1 280.9 L334.0 279.8 L339.9 278.6 L345.8 277.4 L351.8 276.1 L357.7 274.7 L363.6 273.3 L369.5 271.9 L375.4 270.3 L381.3 268.8 L387.2 267.1 L393.1 265.4 L399.0 263.7 L404.9 261.9 L410.9 260.1 L416.8 258.3 L422.7 256.4 L428.6 254.5 L434.5 252.5 L440.4 250.5 L446.3 248.5 L452.2 246.5 L458.1 244.4 L464.0 242.4 L470.0 240.3 L475.9 238.2 L481.8 236.0 L487.7 233.9 L493.6 233.9 L493.6 282.9 L322.2 282.9Z" fill="url(#ud5)"/>
<linearGradient id="ud6" gradientUnits="userSpaceOnUse" x1="328.2" x2="487.6" y1="0" y2="0"><stop offset="0.0312" stop-color="#34618d"/><stop offset="0.0938" stop-color="#277f8e"/><stop offset="0.1562" stop-color="#218e8d"/><stop offset="0.2188" stop-color="#1e9c89"/><stop offset="0.2812" stop-color="#218e8d"/><stop offset="0.3438" stop-color="#297b8e"/><stop offset="0.4062" stop-color="#32b67a"/><stop offset="0.4688" stop-color="#81d34d"/><stop offset="0.5312" stop-color="#44bf70"/><stop offset="0.5938" stop-color="#1e9c89"/><stop offset="0.6562" stop-color="#20928c"/><stop offset="0.7188" stop-color="#8bd646"/><stop offset="0.7812" stop-color="#44bf70"/><stop offset="0.8438" stop-color="#2c738e"/><stop offset="0.9062" stop-color="#26828e"/><stop offset="0.9688" stop-color="#26828e"/></linearGradient>
<path d="M322.2 280.9 L328.1 280.9 L334.0 279.9 L339.9 278.8 L345.8 277.6 L351.8 276.4 L357.7 275.2 L363.6 273.8 L369.5 272.5 L375.4 271.0 L381.3 269.6 L387.2 268.0 L393.1 266.5 L399.0 264.9 L404.9 263.2 L410.9 261.5 L416.8 259.8 L422.7 258.0 L428.6 256.2 L434.5 254.4 L440.4 252.6 L446.3 250.7 L452.2 248.8 L458.1 246.9 L464.0 244.9 L470.0 243.0 L475.9 241.0 L481.8 239.0 L487.7 237.1 L493.6 237.1 L493.6 282.9 L322.2 282.9Z" fill="url(#ud6)"/>
<linearGradient id="ud7" gradientUnits="userSpaceOnUse" x1="328.2" x2="487.6" y1="0" y2="0"><stop offset="0.0312" stop-color="#34618d"/><stop offset="0.0938" stop-color="#277f8e"/><stop offset="0.1562" stop-color="#218e8d"/><stop offset="0.2188" stop-color="#1f988b"/><stop offset="0.2812" stop-color="#20928c"/><stop offset="0.3438" stop-color="#24868e"/><stop offset="0.4062" stop-color="#38b977"/><stop offset="0.4688" stop-color="#6ece58"/><stop offset="0.5312" stop-color="#3fbc73"/><stop offset="0.5938" stop-color="#24868e"/><stop offset="0.6562" stop-color="#30698e"/><stop offset="0.7188" stop-color="#6ece58"/><stop offset="0.7812" stop-color="#4cc26c"/><stop offset="0.8438" stop-color="#2c738e"/><stop offset="0.9062" stop-color="#277f8e"/><stop offset="0.9688" stop-color="#277f8e"/></linearGradient>
<path d="M322.2 280.9 L328.1 280.9 L334.0 279.9 L339.9 278.9 L345.8 277.9 L351.8 276.7 L357.7 275.6 L363.6 274.3 L369.5 273.1 L375.4 271.7 L381.3 270.4 L387.2 269.0 L393.1 267.5 L399.0 266.0 L404.9 264.5 L410.9 262.9 L416.8 261.3 L422.7 259.7 L428.6 258.0 L434.5 256.3 L440.4 254.6 L446.3 252.8 L452.2 251.1 L458.1 249.3 L464.0 247.5 L470.0 245.7 L475.9 243.9 L481.8 242.0 L487.7 240.2 L493.6 240.2 L493.6 282.9 L322.2 282.9Z" fill="url(#ud7)"/>
<linearGradient id="ud8" gradientUnits="userSpaceOnUse" x1="328.2" x2="487.6" y1="0" y2="0"><stop offset="0.0312" stop-color="#34618d"/><stop offset="0.0938" stop-color="#277f8e"/><stop offset="0.1562" stop-color="#218e8d"/><stop offset="0.2188" stop-color="#20928c"/><stop offset="0.2812" stop-color="#1f988b"/><stop offset="0.3438" stop-color="#1f948c"/><stop offset="0.4062" stop-color="#38b977"/><stop offset="0.4688" stop-color="#5cc863"/><stop offset="0.5312" stop-color="#4cc26c"/><stop offset="0.5938" stop-color="#2a778e"/><stop offset="0.6562" stop-color="#453581"/><stop offset="0.7188" stop-color="#28ae80"/><stop offset="0.7812" stop-color="#3fbc73"/><stop offset="0.8438" stop-color="#297b8e"/><stop offset="0.9062" stop-color="#277f8e"/><stop offset="0.9688" stop-color="#277f8e"/></linearGradient>
<path d="M322.2 280.9 L328.1 280.9 L334.0 280.0 L339.9 279.1 L345.8 278.1 L351.8 277.1 L357.7 276.0 L363.6 274.8 L369.5 273.7 L375.4 272.4 L381.3 271.2 L387.2 269.9 L393.1 268.5 L399.0 267.2 L404.9 265.7 L410.9 264.3 L416.8 262.8 L422.7 261.3 L428.6 259.8 L434.5 258.2 L440.4 256.6 L446.3 255.0 L452.2 253.4 L458.1 251.7 L464.0 250.1 L470.0 248.4 L475.9 246.7 L481.8 245.0 L487.7 243.3 L493.6 243.3 L493.6 282.9 L322.2 282.9Z" fill="url(#ud8)"/>
<linearGradient id="ud9" gradientUnits="userSpaceOnUse" x1="328.2" x2="487.6" y1="0" y2="0"><stop offset="0.0312" stop-color="#34618d"/><stop offset="0.0938" stop-color="#277f8e"/><stop offset="0.1562" stop-color="#218e8d"/><stop offset="0.2188" stop-color="#218e8d"/><stop offset="0.2812" stop-color="#1f988b"/><stop offset="0.3438" stop-color="#1e9c89"/><stop offset="0.4062" stop-color="#32b67a"/><stop offset="0.4688" stop-color="#5cc863"/><stop offset="0.5312" stop-color="#65cb5e"/><stop offset="0.5938" stop-color="#26828e"/><stop offset="0.6562" stop-color="#443a83"/><stop offset="0.7188" stop-color="#1f948c"/><stop offset="0.7812" stop-color="#2db27d"/><stop offset="0.8438" stop-color="#24868e"/><stop offset="0.9062" stop-color="#297b8e"/><stop offset="0.9688" stop-color="#297b8e"/></linearGradient>
<path d="M322.2 280.9 L328.1 280.9 L334.0 280.1 L339.9 279.2 L345.8 278.3 L351.8 277.4 L357.7 276.4 L363.6 275.3 L369.5 274.3 L375.4 273.1 L381.3 272.0 L387.2 270.8 L393.1 269.6 L399.0 268.3 L404.9 267.0 L410.9 265.7 L416.8 264.3 L422.7 262.9 L428.6 261.5 L434.5 260.1 L440.4 258.6 L446.3 257.2 L452.2 255.7 L458.1 254.2 L464.0 252.6 L470.0 251.1 L475.9 249.6 L481.8 248.0 L487.7 246.5 L493.6 246.5 L493.6 282.9 L322.2 282.9Z" fill="url(#ud9)"/>
<linearGradient id="ud10" gradientUnits="userSpaceOnUse" x1="328.2" x2="487.6" y1="0" y2="0"><stop offset="0.0312" stop-color="#34618d"/><stop offset="0.0938" stop-color="#277f8e"/><stop offset="0.1562" stop-color="#218e8d"/><stop offset="0.2188" stop-color="#218e8d"/><stop offset="0.2812" stop-color="#20928c"/><stop offset="0.3438" stop-color="#1e9c89"/><stop offset="0.4062" stop-color="#28ae80"/><stop offset="0.4688" stop-color="#6ece58"/><stop offset="0.5312" stop-color="#8bd646"/><stop offset="0.5938" stop-color="#22a785"/><stop offset="0.6562" stop-color="#2c738e"/><stop offset="0.7188" stop-color="#24868e"/><stop offset="0.7812" stop-color="#20a386"/><stop offset="0.8438" stop-color="#1f948c"/><stop offset="0.9062" stop-color="#2c738e"/><stop offset="0.9688" stop-color="#2c738e"/></linearGradient>
<path d="M322.2 280.9 L328.1 280.9 L334.0 280.1 L339.9 279.4 L345.8 278.5 L351.8 277.7 L357.7 276.8 L363.6 275.8 L369.5 274.9 L375.4 273.8 L381.3 272.8 L387.2 271.7 L393.1 270.6 L399.0 269.4 L404.9 268.3 L410.9 267.0 L416.8 265.8 L422.7 264.6 L428.6 263.3 L434.5 262.0 L440.4 260.7 L446.3 259.3 L452.2 258.0 L458.1 256.6 L464.0 255.2 L470.0 253.8 L475.9 252.4 L481.8 251.0 L487.7 249.6 L493.6 249.6 L493.6 282.9 L322.2 282.9Z" fill="url(#ud10)"/>
<linearGradient id="ud11" gradientUnits="userSpaceOnUse" x1="328.2" x2="487.6" y1="0" y2="0"><stop offset="0.0312" stop-color="#34618d"/><stop offset="0.0938" stop-color="#277f8e"/><stop offset="0.1562" stop-color="#218e8d"/><stop offset="0.2188" stop-color="#218e8d"/><stop offset="0.2812" stop-color="#238a8d"/><stop offset="0.3438" stop-color="#1fa088"/><stop offset="0.4062" stop-color="#28ae80"/><stop offset="0.4688" stop-color="#81d34d"/><stop offset="0.5312" stop-color="#b2dd2d"/><stop offset="0.5938" stop-color="#3fbc73"/><stop offset="0.6562" stop-color="#1f988b"/><stop offset="0.7188" stop-color="#238a8d"/><stop offset="0.7812" stop-color="#1fa088"/><stop offset="0.8438" stop-color="#1f988b"/><stop offset="0.9062" stop-color="#34618d"/><stop offset="0.9688" stop-color="#365d8d"/></linearGradient>
<path d="M322.2 280.9 L328.1 280.9 L334.0 280.2 L339.9 279.5 L345.8 278.8 L351.8 278.0 L357.7 277.2 L363.6 276.3 L369.5 275.5 L375.4 274.6 L381.3 273.6 L387.2 272.6 L393.1 271.6 L399.0 270.6 L404.9 269.5 L410.9 268.4 L416.8 267.3 L422.7 266.2 L428.6 265.0 L434.5 263.9 L440.4 262.7 L446.3 261.5 L452.2 260.2 L458.1 259.0 L464.0 257.8 L470.0 256.5 L475.9 255.3 L481.8 254.0 L487.7 252.7 L493.6 252.7 L493.6 282.9 L322.2 282.9Z" fill="url(#ud11)"/>
<linearGradient id="ud12" gradientUnits="userSpaceOnUse" x1="328.2" x2="487.6" y1="0" y2="0"><stop offset="0.0312" stop-color="#34618d"/><stop offset="0.0938" stop-color="#277f8e"/><stop offset="0.1562" stop-color="#218e8d"/><stop offset="0.2188" stop-color="#218e8d"/><stop offset="0.2812" stop-color="#26828e"/><stop offset="0.3438" stop-color="#22a785"/><stop offset="0.4062" stop-color="#32b67a"/><stop offset="0.4688" stop-color="#95d840"/><stop offset="0.5312" stop-color="#dde318"/><stop offset="0.5938" stop-color="#4cc26c"/><stop offset="0.6562" stop-color="#28ae80"/><stop offset="0.7188" stop-color="#1fa088"/><stop offset="0.7812" stop-color="#22a785"/><stop offset="0.8438" stop-color="#20928c"/><stop offset="0.9062" stop-color="#433e85"/><stop offset="0.9688" stop-color="#46307e"/></linearGradient>
<path d="M322.2 280.9 L328.1 280.9 L334.0 280.3 L339.9 279.7 L345.8 279.0 L351.8 278.3 L357.7 277.6 L363.6 276.9 L369.5 276.1 L375.4 275.3 L381.3 274.4 L387.2 273.5 L393.1 272.6 L399.0 271.7 L404.9 270.8 L410.9 269.8 L416.8 268.8 L422.7 267.8 L428.6 266.8 L434.5 265.8 L440.4 264.7 L446.3 263.6 L452.2 262.5 L458.1 261.4 L464.0 260.3 L470.0 259.2 L475.9 258.1 L481.8 257.0 L487.7 255.8 L493.6 255.8 L493.6 282.9 L322.2 282.9Z" fill="url(#ud12)"/>
<linearGradient id="ud13" gradientUnits="userSpaceOnUse" x1="328.2" x2="487.6" y1="0" y2="0"><stop offset="0.0312" stop-color="#34618d"/><stop offset="0.0938" stop-color="#277f8e"/><stop offset="0.1562" stop-color="#218e8d"/><stop offset="0.2188" stop-color="#218e8d"/><stop offset="0.2812" stop-color="#2a778e"/><stop offset="0.3438" stop-color="#2db27d"/><stop offset="0.4062" stop-color="#44bf70"/><stop offset="0.4688" stop-color="#8bd646"/><stop offset="0.5312" stop-color="#dde318"/><stop offset="0.5938" stop-color="#54c568"/><stop offset="0.6562" stop-color="#38b977"/><stop offset="0.7188" stop-color="#28ae80"/><stop offset="0.7812" stop-color="#20a386"/><stop offset="0.8438" stop-color="#277f8e"/><stop offset="0.9062" stop-color="#443a83"/><stop offset="0.9688" stop-color="#443a83"/></linearGradient>
<path d="M322.2 280.9 L328.1 280.9 L334.0 280.4 L339.9 279.8 L345.8 279.2 L351.8 278.6 L357.7 278.0 L363.6 277.4 L369.5 276.7 L375.4 276.0 L381.3 275.2 L387.2 274.5 L393.1 273.7 L399.0 272.9 L404.9 272.0 L410.9 271.2 L416.8 270.3 L422.7 269.4 L428.6 268.6 L434.5 267.6 L440.4 266.7 L446.3 265.8 L452.2 264.8 L458.1 263.9 L464.0 262.9 L470.0 261.9 L475.9 260.9 L481.8 260.0 L487.7 259.0 L493.6 259.0 L493.6 282.9 L322.2 282.9Z" fill="url(#ud13)"/>
<linearGradient id="ud14" gradientUnits="userSpaceOnUse" x1="328.2" x2="487.6" y1="0" y2="0"><stop offset="0.0312" stop-color="#34618d"/><stop offset="0.0938" stop-color="#277f8e"/><stop offset="0.1562" stop-color="#218e8d"/><stop offset="0.2188" stop-color="#218e8d"/><stop offset="0.2812" stop-color="#30698e"/><stop offset="0.3438" stop-color="#44bf70"/><stop offset="0.4062" stop-color="#65cb5e"/><stop offset="0.4688" stop-color="#65cb5e"/><stop offset="0.5312" stop-color="#b2dd2d"/><stop offset="0.5938" stop-color="#54c568"/><stop offset="0.6562" stop-color="#38b977"/><stop offset="0.7188" stop-color="#32b67a"/><stop offset="0.7812" stop-color="#1f948c"/><stop offset="0.8438" stop-color="#34618d"/><stop offset="0.9062" stop-color="#3a548c"/><stop offset="0.9688" stop-color="#2c738e"/></linearGradient>
<path d="M322.2 280.9 L328.1 280.9 L334.0 280.4 L339.9 280.0 L345.8 279.5 L351.8 279.0 L357.7 278.4 L363.6 277.9 L369.5 277.3 L375.4 276.7 L381.3 276.0 L387.2 275.4 L393.1 274.7 L399.0 274.0 L404.9 273.3 L410.9 272.6 L416.8 271.8 L422.7 271.1 L428.6 270.3 L434.5 269.5 L440.4 268.7 L446.3 267.9 L452.2 267.1 L458.1 266.3 L464.0 265.5 L470.0 264.6 L475.9 263.8 L481.8 262.9 L487.7 262.1 L493.6 262.1 L493.6 282.9 L322.2 282.9Z" fill="url(#ud14)"/>
<linearGradient id="ud15" gradientUnits="userSpaceOnUse" x1="328.2" x2="487.6" y1="0" y2="0"><stop offset="0.0312" stop-color="#34618d"/><stop offset="0.0938" stop-color="#277f8e"/><stop offset="0.1562" stop-color="#218e8d"/><stop offset="0.2188" stop-color="#238a8d"/><stop offset="0.2812" stop-color="#34618d"/><stop offset="0.3438" stop-color="#5cc863"/><stop offset="0.4062" stop-color="#77d153"/><stop offset="0.4688" stop-color="#5cc863"/><stop offset="0.5312" stop-color="#95d840"/><stop offset="0.5938" stop-color="#4cc26c"/><stop offset="0.6562" stop-color="#38b977"/><stop offset="0.7188" stop-color="#38b977"/><stop offset="0.7812" stop-color="#218e8d"/><stop offset="0.8438" stop-color="#3a548c"/><stop offset="0.9062" stop-color="#30698e"/><stop offset="0.9688" stop-color="#20928c"/></linearGradient>
<path d="M322.2 280.9 L328.1 280.9 L334.0 280.5 L339.9 280.1 L345.8 279.7 L351.8 279.3 L357.7 278.8 L363.6 278.4 L369.5 277.9 L375.4 277.4 L381.3 276.8 L387.2 276.3 L393.1 275.7 L399.0 275.2 L404.9 274.6 L410.9 274.0 L416.8 273.3 L422.7 272.7 L428.6 272.1 L434.5 271.4 L440.4 270.8 L446.3 270.1 L452.2 269.4 L458.1 268.7 L464.0 268.0 L470.0 267.3 L475.9 266.6 L481.8 265.9 L487.7 265.2 L493.6 265.2 L493.6 282.9 L322.2 282.9Z" fill="url(#ud15)"/>
<linearGradient id="ud16" gradientUnits="userSpaceOnUse" x1="328.2" x2="487.6" y1="0" y2="0"><stop offset="0.0312" stop-color="#34618d"/><stop offset="0.0938" stop-color="#277f8e"/><stop offset="0.1562" stop-color="#218e8d"/><stop offset="0.2188" stop-color="#26828e"/><stop offset="0.2812" stop-color="#34618d"/><stop offset="0.3438" stop-color="#6ece58"/><stop offset="0.4062" stop-color="#77d153"/><stop offset="0.4688" stop-color="#6ece58"/><stop offset="0.5312" stop-color="#81d34d"/><stop offset="0.5938" stop-color="#3fbc73"/><stop offset="0.6562" stop-color="#38b977"/><stop offset="0.7188" stop-color="#38b977"/><stop offset="0.7812" stop-color="#218e8d"/><stop offset="0.8438" stop-color="#365d8d"/><stop offset="0.9062" stop-color="#2a778e"/><stop offset="0.9688" stop-color="#1f988b"/></linearGradient>
<path d="M322.2 280.9 L328.1 280.9 L334.0 280.6 L339.9 280.3 L345.8 279.9 L351.8 279.6 L357.7 279.2 L363.6 278.9 L369.5 278.5 L375.4 278.1 L381.3 277.6 L387.2 277.2 L393.1 276.8 L399.0 276.3 L404.9 275.8 L410.9 275.3 L416.8 274.8 L422.7 274.3 L428.6 273.8 L434.5 273.3 L440.4 272.8 L446.3 272.2 L452.2 271.7 L458.1 271.2 L464.0 270.6 L470.0 270.0 L475.9 269.5 L481.8 268.9 L487.7 268.4 L493.6 268.4 L493.6 282.9 L322.2 282.9Z" fill="url(#ud16)"/>
<linearGradient id="ud17" gradientUnits="userSpaceOnUse" x1="328.2" x2="487.6" y1="0" y2="0"><stop offset="0.0312" stop-color="#34618d"/><stop offset="0.0938" stop-color="#277f8e"/><stop offset="0.1562" stop-color="#218e8d"/><stop offset="0.2188" stop-color="#277f8e"/><stop offset="0.2812" stop-color="#30698e"/><stop offset="0.3438" stop-color="#6ece58"/><stop offset="0.4062" stop-color="#6ece58"/><stop offset="0.4688" stop-color="#65cb5e"/><stop offset="0.5312" stop-color="#65cb5e"/><stop offset="0.5938" stop-color="#38b977"/><stop offset="0.6562" stop-color="#38b977"/><stop offset="0.7188" stop-color="#38b977"/><stop offset="0.7812" stop-color="#1f948c"/><stop offset="0.8438" stop-color="#2d708e"/><stop offset="0.9062" stop-color="#24868e"/><stop offset="0.9688" stop-color="#1e9c89"/></linearGradient>
<path d="M322.2 280.9 L328.1 280.9 L334.0 280.7 L339.9 280.4 L345.8 280.2 L351.8 279.9 L357.7 279.6 L363.6 279.4 L369.5 279.1 L375.4 278.8 L381.3 278.4 L387.2 278.1 L393.1 277.8 L399.0 277.4 L404.9 277.1 L410.9 276.7 L416.8 276.4 L422.7 276.0 L428.6 275.6 L434.5 275.2 L440.4 274.8 L446.3 274.4 L452.2 274.0 L458.1 273.6 L464.0 273.2 L470.0 272.8 L475.9 272.3 L481.8 271.9 L487.7 271.5 L493.6 271.5 L493.6 282.9 L322.2 282.9Z" fill="url(#ud17)"/>
<linearGradient id="ud18" gradientUnits="userSpaceOnUse" x1="328.2" x2="487.6" y1="0" y2="0"><stop offset="0.0312" stop-color="#34618d"/><stop offset="0.0938" stop-color="#277f8e"/><stop offset="0.1562" stop-color="#218e8d"/><stop offset="0.2188" stop-color="#277f8e"/><stop offset="0.2812" stop-color="#2a778e"/><stop offset="0.3438" stop-color="#5cc863"/><stop offset="0.4062" stop-color="#5cc863"/><stop offset="0.4688" stop-color="#44bf70"/><stop offset="0.5312" stop-color="#44bf70"/><stop offset="0.5938" stop-color="#38b977"/><stop offset="0.6562" stop-color="#38b977"/><stop offset="0.7188" stop-color="#38b977"/><stop offset="0.7812" stop-color="#20a386"/><stop offset="0.8438" stop-color="#218e8d"/><stop offset="0.9062" stop-color="#1f948c"/><stop offset="0.9688" stop-color="#1e9c89"/></linearGradient>
<path d="M322.2 280.9 L328.1 280.9 L334.0 280.7 L339.9 280.6 L345.8 280.4 L351.8 280.2 L357.7 280.1 L363.6 279.9 L369.5 279.7 L375.4 279.5 L381.3 279.3 L387.2 279.0 L393.1 278.8 L399.0 278.6 L404.9 278.3 L410.9 278.1 L416.8 277.9 L422.7 277.6 L428.6 277.3 L434.5 277.1 L440.4 276.8 L446.3 276.6 L452.2 276.3 L458.1 276.0 L464.0 275.7 L470.0 275.5 L475.9 275.2 L481.8 274.9 L487.7 274.6 L493.6 274.6 L493.6 282.9 L322.2 282.9Z" fill="url(#ud18)"/>
<linearGradient id="ud19" gradientUnits="userSpaceOnUse" x1="328.2" x2="487.6" y1="0" y2="0"><stop offset="0.0312" stop-color="#3b518b"/><stop offset="0.0938" stop-color="#27808e"/><stop offset="0.1562" stop-color="#1f948c"/><stop offset="0.2188" stop-color="#277e8e"/><stop offset="0.2812" stop-color="#2c728e"/><stop offset="0.3438" stop-color="#44bf70"/><stop offset="0.4062" stop-color="#63cb5f"/><stop offset="0.4688" stop-color="#37b878"/><stop offset="0.5312" stop-color="#37b878"/><stop offset="0.5938" stop-color="#37b878"/><stop offset="0.6562" stop-color="#35b779"/><stop offset="0.7188" stop-color="#35b779"/><stop offset="0.7812" stop-color="#20a386"/><stop offset="0.8438" stop-color="#1e9c89"/><stop offset="0.9062" stop-color="#1e9c89"/><stop offset="0.9688" stop-color="#1e9c89"/></linearGradient>
<path d="M322.2 280.9 L328.1 280.9 L334.0 280.8 L339.9 280.7 L345.8 280.6 L351.8 280.6 L357.7 280.5 L363.6 280.4 L369.5 280.3 L375.4 280.2 L381.3 280.1 L387.2 280.0 L393.1 279.8 L399.0 279.7 L404.9 279.6 L410.9 279.5 L416.8 279.4 L422.7 279.2 L428.6 279.1 L434.5 279.0 L440.4 278.8 L446.3 278.7 L452.2 278.6 L458.1 278.4 L464.0 278.3 L470.0 278.2 L475.9 278.0 L481.8 277.9 L487.7 277.7 L493.6 277.7 L493.6 282.9 L322.2 282.9Z" fill="url(#ud19)"/>
</g>
</g>
<g filter="url(#bl2)">
<ellipse cx="363.5" cy="290.0" rx="7" ry="2" fill="#472c7a" opacity="1"/>
<ellipse cx="378.0" cy="286.4" rx="4.5" ry="1.5" fill="#f1e51d" opacity="1"/>
<ellipse cx="364.3" cy="297.7" rx="5" ry="1.6" fill="#f1e51d" opacity="1"/>
<ellipse cx="353.8" cy="302.5" rx="9" ry="2" fill="#3c508b" opacity="1"/>
</g>
</g>
<path d="M365.1 218.3 V349.4" stroke="#c6c6c6" stroke-width="0.8" fill="none" opacity="0.9"/>
<path d="M328.2 280.9 H487.6 M328.2 343.4 H487.6" stroke="#c6c6c6" stroke-width="0.8" fill="none" opacity="0.6"/>
<path d="M337.9 349.4 v2.2 M346.1 349.4 v2.2 M353.2 349.4 v2.2 M359.5 349.4 v2.2 M402.0 349.4 v2.2 M423.5 349.4 v2.2 M438.8 349.4 v2.2 M450.7 349.4 v2.2 M460.4 349.4 v2.2 M468.6 349.4 v2.2 M475.7 349.4 v2.2 M482.0 349.4 v2.2 M328.2 346.3 h-2.2 M328.2 324.6 h-2.2 M328.2 313.6 h-2.2 M328.2 305.8 h-2.2 M328.2 299.7 h-2.2 M328.2 294.7 h-2.2 M328.2 290.6 h-2.2 M328.2 286.9 h-2.2 M328.2 283.7 h-2.2 M328.2 262.0 h-2.2 M328.2 251.0 h-2.2 M328.2 243.2 h-2.2 M328.2 237.1 h-2.2 M328.2 232.2 h-2.2 M328.2 228.0 h-2.2 M328.2 224.4 h-2.2 M328.2 221.2 h-2.2" stroke="#bdbdbd" stroke-width="0.7" fill="none"/>
<path d="M365.1 349.4 v4.2 M487.6 349.4 v4.2 M328.2 343.4 h-4.2 M328.2 280.9 h-4.2 M328.2 218.3 h-4.2" stroke="#b8b8b8" stroke-width="0.8" fill="none"/>
<rect x="328.2" y="218.3" width="159.4" height="131.1" fill="none" stroke="#333" stroke-width="0.75"/>
<rect x="506.7" y="218.30" width="14.8" height="6.20" fill="#f1e51d" shape-rendering="crispEdges"/>
<rect x="506.7" y="224.00" width="14.8" height="6.20" fill="#d5e21a" shape-rendering="crispEdges"/>
<rect x="506.7" y="229.70" width="14.8" height="6.20" fill="#b8de29" shape-rendering="crispEdges"/>
<rect x="506.7" y="235.40" width="14.8" height="6.20" fill="#9bd93c" shape-rendering="crispEdges"/>
<rect x="506.7" y="241.10" width="14.8" height="6.20" fill="#7cd250" shape-rendering="crispEdges"/>
<rect x="506.7" y="246.80" width="14.8" height="6.20" fill="#63cb5f" shape-rendering="crispEdges"/>
<rect x="506.7" y="252.50" width="14.8" height="6.20" fill="#4cc26c" shape-rendering="crispEdges"/>
<rect x="506.7" y="258.20" width="14.8" height="6.20" fill="#38b977" shape-rendering="crispEdges"/>
<rect x="506.7" y="263.90" width="14.8" height="6.20" fill="#29af7f" shape-rendering="crispEdges"/>
<rect x="506.7" y="269.60" width="14.8" height="6.20" fill="#21a585" shape-rendering="crispEdges"/>
<rect x="506.7" y="275.30" width="14.8" height="6.20" fill="#1e9b8a" shape-rendering="crispEdges"/>
<rect x="506.7" y="281.00" width="14.8" height="6.20" fill="#21918c" shape-rendering="crispEdges"/>
<rect x="506.7" y="286.70" width="14.8" height="6.20" fill="#25858e" shape-rendering="crispEdges"/>
<rect x="506.7" y="292.40" width="14.8" height="6.20" fill="#297b8e" shape-rendering="crispEdges"/>
<rect x="506.7" y="298.10" width="14.8" height="6.20" fill="#2d718e" shape-rendering="crispEdges"/>
<rect x="506.7" y="303.80" width="14.8" height="6.20" fill="#31668e" shape-rendering="crispEdges"/>
<rect x="506.7" y="309.50" width="14.8" height="6.20" fill="#375b8d" shape-rendering="crispEdges"/>
<rect x="506.7" y="315.20" width="14.8" height="6.20" fill="#3c4f8a" shape-rendering="crispEdges"/>
<rect x="506.7" y="320.90" width="14.8" height="6.20" fill="#414287" shape-rendering="crispEdges"/>
<rect x="506.7" y="326.60" width="14.8" height="6.20" fill="#463480" shape-rendering="crispEdges"/>
<rect x="506.7" y="332.30" width="14.8" height="6.20" fill="#482677" shape-rendering="crispEdges"/>
<rect x="506.7" y="338.00" width="14.8" height="6.20" fill="#48186a" shape-rendering="crispEdges"/>
<rect x="506.7" y="343.70" width="14.8" height="6.20" fill="#46085c" shape-rendering="crispEdges"/>
<rect x="506.7" y="218.3" width="14.8" height="131.1" fill="none" stroke="#444" stroke-width="0.55"/>
<text x="525.3" y="223.0" class="t">10<tspan dy="-4.1" class="s">0</tspan></text>
<text x="525.3" y="266.7" class="t">10<tspan dy="-4.1" class="s">−1</tspan></text>
<text x="525.3" y="310.4" class="t">10<tspan dy="-4.1" class="s">−2</tspan></text>
<text x="525.3" y="354.1" class="t">10<tspan dy="-4.1" class="s">−3</tspan></text>
<text x="306.6" y="223.0" class="t">10<tspan dy="-4.1" class="s">2</tspan></text>
<text x="306.6" y="285.6" class="t">10<tspan dy="-4.1" class="s">1</tspan></text>
<text x="306.6" y="348.1" class="t">10<tspan dy="-4.1" class="s">0</tspan></text>
<text x="358.6" y="367.4" class="t">10<tspan dy="-4.1" class="s">1</tspan></text>
<text x="481.1" y="367.4" class="t">10<tspan dy="-4.1" class="s">2</tspan></text>
<text x="359.5" y="381.5" class="l" textLength="96.3" lengthAdjust="spacingAndGlyphs">motion frequency, Hz</text>
<text transform="translate(296.5 324.7) rotate(-90)" class="l" textLength="83.8" lengthAdjust="spacingAndGlyphs">motion intensity, g</text>
<text x="416.4" y="405.2" class="c" text-anchor="middle">(d)</text>
</svg></body></html>
